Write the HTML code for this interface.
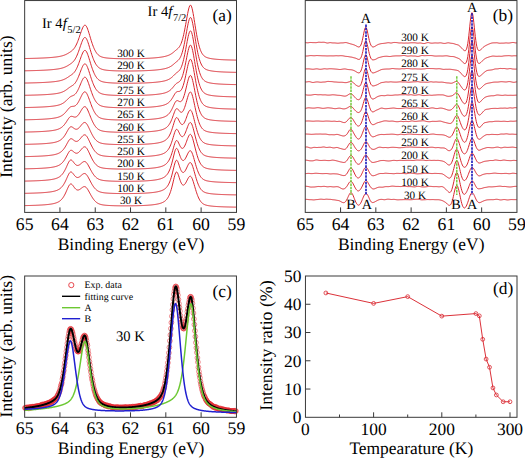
<!DOCTYPE html>
<html><head><meta charset="utf-8"><title>figure</title>
<style>html,body{margin:0;padding:0;background:#fff;width:525px;height:458px;overflow:hidden}svg{display:block}text{font-family:"Liberation Serif",serif;text-rendering:geometricPrecision}</style>
</head><body>
<svg width="525" height="458" viewBox="0 0 525 458" font-family="Liberation Serif, serif"><g fill="none" stroke="#d9262e" stroke-width="1.0" stroke-linejoin="round">
<path d="M24.66,58.54 L25.16,58.53 L25.66,58.52 L26.16,58.51 L26.66,58.50 L27.16,58.49 L27.66,58.48 L28.16,58.47 L28.66,58.46 L29.16,58.45 L29.66,58.44 L30.16,58.43 L30.66,58.42 L31.16,58.41 L31.66,58.39 L32.16,58.38 L32.66,58.37 L33.16,58.35 L33.66,58.34 L34.16,58.33 L34.66,58.31 L35.16,58.30 L35.66,58.28 L36.16,58.27 L36.66,58.25 L37.16,58.23 L37.66,58.22 L38.16,58.20 L38.66,58.18 L39.16,58.16 L39.66,58.14 L40.16,58.12 L40.66,58.10 L41.16,58.08 L41.66,58.06 L42.16,58.04 L42.66,58.02 L43.16,57.99 L43.66,57.97 L44.16,57.94 L44.66,57.92 L45.16,57.89 L45.66,57.86 L46.16,57.84 L46.66,57.81 L47.16,57.78 L47.66,57.74 L48.16,57.71 L48.66,57.68 L49.16,57.64 L49.66,57.61 L50.16,57.57 L50.66,57.53 L51.16,57.49 L51.66,57.45 L52.16,57.40 L52.66,57.36 L53.16,57.31 L53.66,57.26 L54.16,57.21 L54.66,57.15 L55.16,57.10 L55.66,57.04 L56.16,56.97 L56.66,56.91 L57.16,56.84 L57.66,56.76 L58.16,56.68 L58.66,56.60 L59.16,56.51 L59.66,56.42 L60.16,56.31 L60.66,56.21 L61.16,56.09 L61.66,55.97 L62.16,55.83 L62.66,55.69 L63.16,55.54 L63.66,55.37 L64.16,55.19 L64.66,55.00 L65.16,54.80 L65.66,54.58 L66.16,54.35 L66.66,54.10 L67.16,53.83 L67.66,53.56 L68.16,53.27 L68.66,52.96 L69.16,52.65 L69.66,52.33 L70.16,52.00 L70.66,51.66 L71.16,51.30 L71.66,50.91 L72.16,50.50 L72.66,50.05 L73.16,49.55 L73.66,48.98 L74.16,48.35 L74.66,47.64 L75.16,46.85 L75.66,45.98 L76.16,45.01 L76.66,43.96 L77.16,42.83 L77.66,41.61 L78.16,40.31 L78.66,38.95 L79.16,37.53 L79.66,36.08 L80.16,34.60 L80.66,33.13 L81.16,31.68 L81.66,30.30 L82.16,29.00 L82.66,27.84 L83.16,26.84 L83.66,26.05 L84.16,25.49 L84.66,25.19 L85.16,25.16 L85.66,25.43 L86.16,25.99 L86.66,26.83 L87.16,27.89 L87.66,29.16 L88.16,30.58 L88.66,32.12 L89.16,33.74 L89.66,35.40 L90.16,37.07 L90.66,38.74 L91.16,40.36 L91.66,41.94 L92.16,43.44 L92.66,44.87 L93.16,46.22 L93.66,47.48 L94.16,48.64 L94.66,49.71 L95.16,50.68 L95.66,51.57 L96.16,52.37 L96.66,53.08 L97.16,53.72 L97.66,54.28 L98.16,54.78 L98.66,55.22 L99.16,55.60 L99.66,55.94 L100.16,56.23 L100.66,56.49 L101.16,56.71 L101.66,56.91 L102.16,57.08 L102.66,57.23 L103.16,57.36 L103.66,57.48 L104.16,57.58 L104.66,57.68 L105.16,57.76 L105.66,57.84 L106.16,57.91 L106.66,57.97 L107.16,58.03 L107.66,58.08 L108.16,58.13 L108.66,58.18 L109.16,58.22 L109.66,58.26 L110.16,58.29 L110.66,58.33 L111.16,58.36 L111.66,58.39 L112.16,58.42 L112.66,58.45 L113.16,58.47 L113.66,58.49 L114.16,58.52 L114.66,58.54 L115.16,58.56 L115.66,58.57 L116.16,58.59 L116.66,58.61 L117.16,58.62 L117.66,58.64 L118.16,58.65 L118.66,58.66 L119.16,58.67 L119.66,58.68 L120.16,58.69 L120.66,58.70 L121.16,58.71 L121.66,58.71 L122.16,58.72 L122.66,58.73 L123.16,58.73 L123.66,58.74 L124.16,58.74 L124.66,58.74 L125.16,58.75 L125.66,58.75 L126.16,58.75 L126.66,58.75 L127.16,58.75 L127.66,58.75 L128.16,58.75 L128.66,58.75 L129.16,58.75 L129.66,58.75 L130.16,58.74 L130.66,58.74 L131.16,58.74 L131.66,58.73 L132.16,58.73 L132.66,58.72 L133.16,58.72 L133.66,58.71 L134.16,58.71 L134.66,58.70 L135.16,58.69 L135.66,58.68 L136.16,58.68 L136.66,58.67 L137.16,58.66 L137.66,58.65 L138.16,58.64 L138.66,58.63 L139.16,58.61 L139.66,58.60 L140.16,58.59 L140.66,58.58 L141.16,58.56 L141.66,58.55 L142.16,58.53 L142.66,58.52 L143.16,58.50 L143.66,58.48 L144.16,58.46 L144.66,58.44 L145.16,58.43 L145.66,58.40 L146.16,58.38 L146.66,58.36 L147.16,58.34 L147.66,58.31 L148.16,58.29 L148.66,58.26 L149.16,58.24 L149.66,58.21 L150.16,58.18 L150.66,58.15 L151.16,58.12 L151.66,58.09 L152.16,58.05 L152.66,58.02 L153.16,57.98 L153.66,57.94 L154.16,57.90 L154.66,57.86 L155.16,57.82 L155.66,57.77 L156.16,57.73 L156.66,57.68 L157.16,57.63 L157.66,57.57 L158.16,57.52 L158.66,57.46 L159.16,57.40 L159.66,57.34 L160.16,57.27 L160.66,57.20 L161.16,57.12 L161.66,57.05 L162.16,56.96 L162.66,56.88 L163.16,56.79 L163.66,56.69 L164.16,56.59 L164.66,56.48 L165.16,56.36 L165.66,56.23 L166.16,56.10 L166.66,55.95 L167.16,55.79 L167.66,55.62 L168.16,55.44 L168.66,55.24 L169.16,55.02 L169.66,54.79 L170.16,54.53 L170.66,54.25 L171.16,53.95 L171.66,53.62 L172.16,53.28 L172.66,52.90 L173.16,52.51 L173.66,52.10 L174.16,51.67 L174.66,51.24 L175.16,50.80 L175.66,50.37 L176.16,49.96 L176.66,49.55 L177.16,49.13 L177.66,48.71 L178.16,48.24 L178.66,47.72 L179.16,47.10 L179.66,46.38 L180.16,45.53 L180.66,44.53 L181.16,43.36 L181.66,42.01 L182.16,40.48 L182.66,38.75 L183.16,36.82 L183.66,34.70 L184.16,32.40 L184.66,29.93 L185.16,27.31 L185.66,24.59 L186.16,21.79 L186.66,18.98 L187.16,16.21 L187.66,13.56 L188.16,11.11 L188.66,8.97 L189.16,7.23 L189.66,5.97 L190.16,5.27 L190.66,5.18 L191.16,5.73 L191.66,6.93 L192.16,8.70 L192.66,10.95 L193.16,13.57 L193.66,16.46 L194.16,19.52 L194.66,22.67 L195.16,25.82 L195.66,28.92 L196.16,31.91 L196.66,34.76 L197.16,37.44 L197.66,39.93 L198.16,42.22 L198.66,44.31 L199.16,46.18 L199.66,47.86 L200.16,49.34 L200.66,50.64 L201.16,51.78 L201.66,52.76 L202.16,53.61 L202.66,54.34 L203.16,54.97 L203.66,55.50 L204.16,55.96 L204.66,56.35 L205.16,56.69 L205.66,56.98 L206.16,57.23 L206.66,57.45 L207.16,57.64 L207.66,57.81 L208.16,57.96 L208.66,58.10 L209.16,58.23 L209.66,58.34 L210.16,58.44 L210.66,58.54 L211.16,58.63 L211.66,58.71 L212.16,58.79 L212.66,58.86 L213.16,58.93 L213.66,58.99 L214.16,59.05 L214.66,59.11 L215.16,59.16 L215.66,59.21 L216.16,59.26 L216.66,59.30 L217.16,59.35 L217.66,59.39 L218.16,59.42 L218.66,59.46 L219.16,59.50 L219.66,59.53 L220.16,59.56 L220.66,59.59 L221.16,59.62 L221.66,59.65 L222.16,59.67 L222.66,59.70 L223.16,59.72 L223.66,59.75 L224.16,59.77 L224.66,59.79 L225.16,59.81 L225.66,59.83 L226.16,59.85 L226.66,59.87 L227.16,59.88 L227.66,59.90 L228.16,59.92 L228.66,59.93 L229.16,59.95 L229.66,59.96 L230.16,59.98 L230.66,59.99 L231.16,60.00 L231.66,60.01 L232.16,60.03 L232.66,60.04 L233.16,60.05 L233.66,60.06 L234.16,60.07 L234.66,60.08 L235.16,60.09 L235.66,60.10 L236.16,60.11"/>
<path d="M24.66,70.79 L25.16,70.78 L25.66,70.77 L26.16,70.76 L26.66,70.75 L27.16,70.74 L27.66,70.73 L28.16,70.72 L28.66,70.71 L29.16,70.70 L29.66,70.69 L30.16,70.68 L30.66,70.67 L31.16,70.65 L31.66,70.64 L32.16,70.63 L32.66,70.62 L33.16,70.60 L33.66,70.59 L34.16,70.58 L34.66,70.56 L35.16,70.55 L35.66,70.53 L36.16,70.51 L36.66,70.50 L37.16,70.48 L37.66,70.46 L38.16,70.45 L38.66,70.43 L39.16,70.41 L39.66,70.39 L40.16,70.37 L40.66,70.35 L41.16,70.33 L41.66,70.31 L42.16,70.29 L42.66,70.26 L43.16,70.24 L43.66,70.22 L44.16,70.19 L44.66,70.17 L45.16,70.14 L45.66,70.11 L46.16,70.08 L46.66,70.05 L47.16,70.02 L47.66,69.99 L48.16,69.96 L48.66,69.92 L49.16,69.89 L49.66,69.85 L50.16,69.81 L50.66,69.77 L51.16,69.73 L51.66,69.69 L52.16,69.65 L52.66,69.60 L53.16,69.55 L53.66,69.50 L54.16,69.45 L54.66,69.39 L55.16,69.34 L55.66,69.28 L56.16,69.21 L56.66,69.14 L57.16,69.07 L57.66,69.00 L58.16,68.92 L58.66,68.83 L59.16,68.74 L59.66,68.65 L60.16,68.54 L60.66,68.43 L61.16,68.31 L61.66,68.19 L62.16,68.05 L62.66,67.90 L63.16,67.75 L63.66,67.58 L64.16,67.39 L64.66,67.20 L65.16,66.99 L65.66,66.76 L66.16,66.52 L66.66,66.27 L67.16,66.00 L67.66,65.71 L68.16,65.42 L68.66,65.11 L69.16,64.79 L69.66,64.47 L70.16,64.14 L70.66,63.79 L71.16,63.44 L71.66,63.06 L72.16,62.65 L72.66,62.21 L73.16,61.71 L73.66,61.15 L74.16,60.53 L74.66,59.83 L75.16,59.05 L75.66,58.18 L76.16,57.23 L76.66,56.19 L77.16,55.06 L77.66,53.84 L78.16,52.56 L78.66,51.20 L79.16,49.79 L79.66,48.34 L80.16,46.87 L80.66,45.41 L81.16,43.97 L81.66,42.59 L82.16,41.30 L82.66,40.14 L83.16,39.14 L83.66,38.35 L84.16,37.79 L84.66,37.49 L85.16,37.47 L85.66,37.74 L86.16,38.30 L86.66,39.13 L87.16,40.20 L87.66,41.47 L88.16,42.89 L88.66,44.42 L89.16,46.04 L89.66,47.69 L90.16,49.36 L90.66,51.02 L91.16,52.65 L91.66,54.22 L92.16,55.72 L92.66,57.15 L93.16,58.49 L93.66,59.75 L94.16,60.91 L94.66,61.97 L95.16,62.95 L95.66,63.83 L96.16,64.63 L96.66,65.34 L97.16,65.97 L97.66,66.54 L98.16,67.03 L98.66,67.47 L99.16,67.85 L99.66,68.19 L100.16,68.48 L100.66,68.74 L101.16,68.96 L101.66,69.16 L102.16,69.33 L102.66,69.48 L103.16,69.61 L103.66,69.73 L104.16,69.84 L104.66,69.93 L105.16,70.01 L105.66,70.09 L106.16,70.16 L106.66,70.22 L107.16,70.28 L107.66,70.33 L108.16,70.38 L108.66,70.43 L109.16,70.47 L109.66,70.51 L110.16,70.54 L110.66,70.58 L111.16,70.61 L111.66,70.64 L112.16,70.67 L112.66,70.70 L113.16,70.72 L113.66,70.74 L114.16,70.77 L114.66,70.79 L115.16,70.81 L115.66,70.82 L116.16,70.84 L116.66,70.86 L117.16,70.87 L117.66,70.89 L118.16,70.90 L118.66,70.91 L119.16,70.92 L119.66,70.93 L120.16,70.94 L120.66,70.95 L121.16,70.96 L121.66,70.96 L122.16,70.97 L122.66,70.98 L123.16,70.98 L123.66,70.99 L124.16,70.99 L124.66,70.99 L125.16,71.00 L125.66,71.00 L126.16,71.00 L126.66,71.00 L127.16,71.00 L127.66,71.00 L128.16,71.00 L128.66,71.00 L129.16,71.00 L129.66,71.00 L130.16,70.99 L130.66,70.99 L131.16,70.99 L131.66,70.98 L132.16,70.98 L132.66,70.97 L133.16,70.97 L133.66,70.96 L134.16,70.96 L134.66,70.95 L135.16,70.94 L135.66,70.93 L136.16,70.92 L136.66,70.92 L137.16,70.91 L137.66,70.90 L138.16,70.89 L138.66,70.87 L139.16,70.86 L139.66,70.85 L140.16,70.84 L140.66,70.82 L141.16,70.81 L141.66,70.80 L142.16,70.78 L142.66,70.76 L143.16,70.75 L143.66,70.73 L144.16,70.71 L144.66,70.69 L145.16,70.67 L145.66,70.65 L146.16,70.63 L146.66,70.61 L147.16,70.59 L147.66,70.56 L148.16,70.54 L148.66,70.51 L149.16,70.49 L149.66,70.46 L150.16,70.43 L150.66,70.40 L151.16,70.37 L151.66,70.33 L152.16,70.30 L152.66,70.26 L153.16,70.23 L153.66,70.19 L154.16,70.15 L154.66,70.11 L155.16,70.06 L155.66,70.02 L156.16,69.97 L156.66,69.92 L157.16,69.87 L157.66,69.82 L158.16,69.76 L158.66,69.70 L159.16,69.64 L159.66,69.58 L160.16,69.51 L160.66,69.44 L161.16,69.36 L161.66,69.29 L162.16,69.20 L162.66,69.11 L163.16,69.02 L163.66,68.92 L164.16,68.82 L164.66,68.71 L165.16,68.59 L165.66,68.46 L166.16,68.32 L166.66,68.17 L167.16,68.01 L167.66,67.84 L168.16,67.65 L168.66,67.44 L169.16,67.22 L169.66,66.98 L170.16,66.71 L170.66,66.42 L171.16,66.11 L171.66,65.78 L172.16,65.42 L172.66,65.03 L173.16,64.63 L173.66,64.20 L174.16,63.77 L174.66,63.32 L175.16,62.88 L175.66,62.44 L176.16,62.02 L176.66,61.61 L177.16,61.21 L177.66,60.79 L178.16,60.33 L178.66,59.82 L179.16,59.22 L179.66,58.52 L180.16,57.68 L180.66,56.69 L181.16,55.54 L181.66,54.21 L182.16,52.68 L182.66,50.97 L183.16,49.05 L183.66,46.94 L184.16,44.65 L184.66,42.19 L185.16,39.59 L185.66,36.87 L186.16,34.09 L186.66,31.28 L187.16,28.52 L187.66,25.88 L188.16,23.44 L188.66,21.31 L189.16,19.57 L189.66,18.32 L190.16,17.62 L190.66,17.53 L191.16,18.09 L191.66,19.28 L192.16,21.05 L192.66,23.29 L193.16,25.91 L193.66,28.79 L194.16,31.85 L194.66,34.99 L195.16,38.13 L195.66,41.23 L196.16,44.21 L196.66,47.06 L197.16,49.73 L197.66,52.22 L198.16,54.50 L198.66,56.58 L199.16,58.46 L199.66,60.13 L200.16,61.61 L200.66,62.91 L201.16,64.04 L201.66,65.02 L202.16,65.87 L202.66,66.60 L203.16,67.22 L203.66,67.76 L204.16,68.21 L204.66,68.61 L205.16,68.94 L205.66,69.23 L206.16,69.48 L206.66,69.70 L207.16,69.89 L207.66,70.06 L208.16,70.22 L208.66,70.35 L209.16,70.48 L209.66,70.59 L210.16,70.69 L210.66,70.79 L211.16,70.88 L211.66,70.96 L212.16,71.04 L212.66,71.11 L213.16,71.18 L213.66,71.24 L214.16,71.30 L214.66,71.36 L215.16,71.41 L215.66,71.46 L216.16,71.51 L216.66,71.55 L217.16,71.60 L217.66,71.64 L218.16,71.67 L218.66,71.71 L219.16,71.75 L219.66,71.78 L220.16,71.81 L220.66,71.84 L221.16,71.87 L221.66,71.90 L222.16,71.92 L222.66,71.95 L223.16,71.97 L223.66,72.00 L224.16,72.02 L224.66,72.04 L225.16,72.06 L225.66,72.08 L226.16,72.10 L226.66,72.12 L227.16,72.13 L227.66,72.15 L228.16,72.17 L228.66,72.18 L229.16,72.20 L229.66,72.21 L230.16,72.22 L230.66,72.24 L231.16,72.25 L231.66,72.26 L232.16,72.28 L232.66,72.29 L233.16,72.30 L233.66,72.31 L234.16,72.32 L234.66,72.33 L235.16,72.34 L235.66,72.35 L236.16,72.36"/>
<path d="M24.66,83.04 L25.16,83.04 L25.66,83.03 L26.16,83.02 L26.66,83.01 L27.16,83.00 L27.66,82.99 L28.16,82.98 L28.66,82.97 L29.16,82.95 L29.66,82.94 L30.16,82.93 L30.66,82.92 L31.16,82.91 L31.66,82.89 L32.16,82.88 L32.66,82.87 L33.16,82.85 L33.66,82.84 L34.16,82.83 L34.66,82.81 L35.16,82.80 L35.66,82.78 L36.16,82.77 L36.66,82.75 L37.16,82.73 L37.66,82.71 L38.16,82.70 L38.66,82.68 L39.16,82.66 L39.66,82.64 L40.16,82.62 L40.66,82.60 L41.16,82.58 L41.66,82.56 L42.16,82.53 L42.66,82.51 L43.16,82.49 L43.66,82.46 L44.16,82.44 L44.66,82.41 L45.16,82.38 L45.66,82.35 L46.16,82.32 L46.66,82.29 L47.16,82.26 L47.66,82.23 L48.16,82.20 L48.66,82.16 L49.16,82.12 L49.66,82.09 L50.16,82.05 L50.66,82.01 L51.16,81.96 L51.66,81.92 L52.16,81.87 L52.66,81.82 L53.16,81.77 L53.66,81.72 L54.16,81.67 L54.66,81.61 L55.16,81.55 L55.66,81.48 L56.16,81.41 L56.66,81.34 L57.16,81.26 L57.66,81.18 L58.16,81.09 L58.66,81.00 L59.16,80.90 L59.66,80.79 L60.16,80.67 L60.66,80.55 L61.16,80.41 L61.66,80.27 L62.16,80.11 L62.66,79.94 L63.16,79.76 L63.66,79.56 L64.16,79.35 L64.66,79.12 L65.16,78.87 L65.66,78.61 L66.16,78.33 L66.66,78.04 L67.16,77.73 L67.66,77.40 L68.16,77.07 L68.66,76.73 L69.16,76.39 L69.66,76.05 L70.16,75.71 L70.66,75.37 L71.16,75.03 L71.66,74.68 L72.16,74.31 L72.66,73.91 L73.16,73.47 L73.66,72.97 L74.16,72.41 L74.66,71.77 L75.16,71.05 L75.66,70.25 L76.16,69.36 L76.66,68.38 L77.16,67.31 L77.66,66.16 L78.16,64.93 L78.66,63.63 L79.16,62.28 L79.66,60.89 L80.16,59.47 L80.66,58.05 L81.16,56.66 L81.66,55.33 L82.16,54.08 L82.66,52.96 L83.16,51.99 L83.66,51.23 L84.16,50.69 L84.66,50.41 L85.16,50.39 L85.66,50.66 L86.16,51.21 L86.66,52.03 L87.16,53.08 L87.66,54.32 L88.16,55.71 L88.66,57.22 L89.16,58.80 L89.66,60.42 L90.16,62.06 L90.66,63.68 L91.16,65.27 L91.66,66.81 L92.16,68.28 L92.66,69.68 L93.16,71.00 L93.66,72.22 L94.16,73.36 L94.66,74.41 L95.16,75.36 L95.66,76.22 L96.16,77.00 L96.66,77.70 L97.16,78.32 L97.66,78.87 L98.16,79.36 L98.66,79.79 L99.16,80.16 L99.66,80.49 L100.16,80.78 L100.66,81.03 L101.16,81.25 L101.66,81.44 L102.16,81.61 L102.66,81.76 L103.16,81.89 L103.66,82.01 L104.16,82.11 L104.66,82.20 L105.16,82.28 L105.66,82.36 L106.16,82.43 L106.66,82.49 L107.16,82.54 L107.66,82.60 L108.16,82.65 L108.66,82.69 L109.16,82.73 L109.66,82.77 L110.16,82.81 L110.66,82.84 L111.16,82.87 L111.66,82.90 L112.16,82.93 L112.66,82.96 L113.16,82.98 L113.66,83.00 L114.16,83.02 L114.66,83.05 L115.16,83.06 L115.66,83.08 L116.16,83.10 L116.66,83.11 L117.16,83.13 L117.66,83.14 L118.16,83.15 L118.66,83.17 L119.16,83.18 L119.66,83.19 L120.16,83.20 L120.66,83.20 L121.16,83.21 L121.66,83.22 L122.16,83.23 L122.66,83.23 L123.16,83.24 L123.66,83.24 L124.16,83.24 L124.66,83.25 L125.16,83.25 L125.66,83.25 L126.16,83.25 L126.66,83.25 L127.16,83.26 L127.66,83.25 L128.16,83.25 L128.66,83.25 L129.16,83.25 L129.66,83.25 L130.16,83.25 L130.66,83.24 L131.16,83.24 L131.66,83.24 L132.16,83.23 L132.66,83.23 L133.16,83.22 L133.66,83.21 L134.16,83.21 L134.66,83.20 L135.16,83.19 L135.66,83.19 L136.16,83.18 L136.66,83.17 L137.16,83.16 L137.66,83.15 L138.16,83.14 L138.66,83.13 L139.16,83.11 L139.66,83.10 L140.16,83.09 L140.66,83.08 L141.16,83.06 L141.66,83.05 L142.16,83.03 L142.66,83.01 L143.16,83.00 L143.66,82.98 L144.16,82.96 L144.66,82.94 L145.16,82.92 L145.66,82.90 L146.16,82.88 L146.66,82.86 L147.16,82.83 L147.66,82.81 L148.16,82.78 L148.66,82.76 L149.16,82.73 L149.66,82.70 L150.16,82.67 L150.66,82.64 L151.16,82.61 L151.66,82.58 L152.16,82.54 L152.66,82.50 L153.16,82.47 L153.66,82.43 L154.16,82.39 L154.66,82.34 L155.16,82.30 L155.66,82.25 L156.16,82.20 L156.66,82.15 L157.16,82.10 L157.66,82.04 L158.16,81.98 L158.66,81.92 L159.16,81.86 L159.66,81.79 L160.16,81.72 L160.66,81.64 L161.16,81.56 L161.66,81.48 L162.16,81.39 L162.66,81.30 L163.16,81.20 L163.66,81.09 L164.16,80.98 L164.66,80.86 L165.16,80.72 L165.66,80.58 L166.16,80.43 L166.66,80.26 L167.16,80.08 L167.66,79.88 L168.16,79.66 L168.66,79.42 L169.16,79.16 L169.66,78.87 L170.16,78.56 L170.66,78.22 L171.16,77.85 L171.66,77.45 L172.16,77.01 L172.66,76.55 L173.16,76.07 L173.66,75.57 L174.16,75.05 L174.66,74.54 L175.16,74.04 L175.66,73.57 L176.16,73.13 L176.66,72.73 L177.16,72.36 L177.66,72.00 L178.16,71.62 L178.66,71.20 L179.16,70.70 L179.66,70.10 L180.16,69.37 L180.66,68.49 L181.16,67.44 L181.66,66.22 L182.16,64.80 L182.66,63.18 L183.16,61.36 L183.66,59.35 L184.16,57.15 L184.66,54.78 L185.16,52.27 L185.66,49.65 L186.16,46.95 L186.66,44.23 L187.16,41.55 L187.66,38.98 L188.16,36.62 L188.66,34.54 L189.16,32.85 L189.66,31.64 L190.16,30.97 L190.66,30.88 L191.16,31.44 L191.66,32.61 L192.16,34.35 L192.66,36.54 L193.16,39.11 L193.66,41.94 L194.16,44.93 L194.66,48.00 L195.16,51.08 L195.66,54.11 L196.16,57.03 L196.66,59.82 L197.16,62.44 L197.66,64.87 L198.16,67.11 L198.66,69.14 L199.16,70.97 L199.66,72.61 L200.16,74.06 L200.66,75.33 L201.16,76.44 L201.66,77.40 L202.16,78.23 L202.66,78.95 L203.16,79.56 L203.66,80.08 L204.16,80.53 L204.66,80.91 L205.16,81.24 L205.66,81.53 L206.16,81.77 L206.66,81.99 L207.16,82.18 L207.66,82.35 L208.16,82.50 L208.66,82.63 L209.16,82.75 L209.66,82.86 L210.16,82.97 L210.66,83.06 L211.16,83.15 L211.66,83.23 L212.16,83.30 L212.66,83.38 L213.16,83.44 L213.66,83.50 L214.16,83.56 L214.66,83.62 L215.16,83.67 L215.66,83.72 L216.16,83.77 L216.66,83.81 L217.16,83.85 L217.66,83.89 L218.16,83.93 L218.66,83.97 L219.16,84.00 L219.66,84.04 L220.16,84.07 L220.66,84.10 L221.16,84.13 L221.66,84.15 L222.16,84.18 L222.66,84.20 L223.16,84.23 L223.66,84.25 L224.16,84.27 L224.66,84.29 L225.16,84.31 L225.66,84.33 L226.16,84.35 L226.66,84.37 L227.16,84.39 L227.66,84.40 L228.16,84.42 L228.66,84.43 L229.16,84.45 L229.66,84.46 L230.16,84.48 L230.66,84.49 L231.16,84.50 L231.66,84.52 L232.16,84.53 L232.66,84.54 L233.16,84.55 L233.66,84.56 L234.16,84.57 L234.66,84.58 L235.16,84.59 L235.66,84.60 L236.16,84.61"/>
<path d="M24.66,95.30 L25.16,95.29 L25.66,95.28 L26.16,95.27 L26.66,95.26 L27.16,95.25 L27.66,95.24 L28.16,95.23 L28.66,95.22 L29.16,95.21 L29.66,95.20 L30.16,95.19 L30.66,95.18 L31.16,95.16 L31.66,95.15 L32.16,95.14 L32.66,95.12 L33.16,95.11 L33.66,95.10 L34.16,95.08 L34.66,95.07 L35.16,95.05 L35.66,95.04 L36.16,95.02 L36.66,95.00 L37.16,94.99 L37.66,94.97 L38.16,94.95 L38.66,94.93 L39.16,94.91 L39.66,94.89 L40.16,94.87 L40.66,94.85 L41.16,94.83 L41.66,94.81 L42.16,94.79 L42.66,94.76 L43.16,94.74 L43.66,94.71 L44.16,94.69 L44.66,94.66 L45.16,94.63 L45.66,94.60 L46.16,94.57 L46.66,94.54 L47.16,94.51 L47.66,94.47 L48.16,94.44 L48.66,94.40 L49.16,94.36 L49.66,94.32 L50.16,94.28 L50.66,94.24 L51.16,94.19 L51.66,94.15 L52.16,94.10 L52.66,94.04 L53.16,93.99 L53.66,93.93 L54.16,93.87 L54.66,93.81 L55.16,93.74 L55.66,93.67 L56.16,93.60 L56.66,93.51 L57.16,93.43 L57.66,93.34 L58.16,93.24 L58.66,93.13 L59.16,93.01 L59.66,92.89 L60.16,92.75 L60.66,92.61 L61.16,92.45 L61.66,92.28 L62.16,92.09 L62.66,91.88 L63.16,91.66 L63.66,91.42 L64.16,91.16 L64.66,90.88 L65.16,90.58 L65.66,90.26 L66.16,89.92 L66.66,89.57 L67.16,89.19 L67.66,88.81 L68.16,88.42 L68.66,88.03 L69.16,87.65 L69.66,87.29 L70.16,86.94 L70.66,86.61 L71.16,86.30 L71.66,86.00 L72.16,85.69 L72.66,85.36 L73.16,85.01 L73.66,84.60 L74.16,84.14 L74.66,83.60 L75.16,82.99 L75.66,82.29 L76.16,81.50 L76.66,80.62 L77.16,79.65 L77.66,78.60 L78.16,77.47 L78.66,76.27 L79.16,75.02 L79.66,73.71 L80.16,72.39 L80.66,71.06 L81.16,69.75 L81.66,68.49 L82.16,67.32 L82.66,66.26 L83.16,65.35 L83.66,64.63 L84.16,64.13 L84.66,63.87 L85.16,63.86 L85.66,64.13 L86.16,64.67 L86.66,65.46 L87.16,66.47 L87.66,67.67 L88.16,69.01 L88.66,70.46 L89.16,71.98 L89.66,73.55 L90.16,75.12 L90.66,76.68 L91.16,78.21 L91.66,79.69 L92.16,81.10 L92.66,82.45 L93.16,83.71 L93.66,84.89 L94.16,85.99 L94.66,86.99 L95.16,87.91 L95.66,88.74 L96.16,89.49 L96.66,90.16 L97.16,90.76 L97.66,91.29 L98.16,91.76 L98.66,92.17 L99.16,92.53 L99.66,92.85 L100.16,93.12 L100.66,93.37 L101.16,93.58 L101.66,93.76 L102.16,93.93 L102.66,94.07 L103.16,94.19 L103.66,94.31 L104.16,94.41 L104.66,94.49 L105.16,94.57 L105.66,94.65 L106.16,94.71 L106.66,94.77 L107.16,94.83 L107.66,94.88 L108.16,94.93 L108.66,94.97 L109.16,95.01 L109.66,95.05 L110.16,95.08 L110.66,95.12 L111.16,95.15 L111.66,95.18 L112.16,95.20 L112.66,95.23 L113.16,95.25 L113.66,95.27 L114.16,95.29 L114.66,95.31 L115.16,95.33 L115.66,95.35 L116.16,95.37 L116.66,95.38 L117.16,95.40 L117.66,95.41 L118.16,95.42 L118.66,95.43 L119.16,95.44 L119.66,95.45 L120.16,95.46 L120.66,95.47 L121.16,95.48 L121.66,95.48 L122.16,95.49 L122.66,95.49 L123.16,95.50 L123.66,95.50 L124.16,95.51 L124.66,95.51 L125.16,95.51 L125.66,95.51 L126.16,95.52 L126.66,95.52 L127.16,95.52 L127.66,95.52 L128.16,95.52 L128.66,95.51 L129.16,95.51 L129.66,95.51 L130.16,95.51 L130.66,95.50 L131.16,95.50 L131.66,95.50 L132.16,95.49 L132.66,95.49 L133.16,95.48 L133.66,95.48 L134.16,95.47 L134.66,95.46 L135.16,95.45 L135.66,95.45 L136.16,95.44 L136.66,95.43 L137.16,95.42 L137.66,95.41 L138.16,95.40 L138.66,95.39 L139.16,95.37 L139.66,95.36 L140.16,95.35 L140.66,95.33 L141.16,95.32 L141.66,95.30 L142.16,95.29 L142.66,95.27 L143.16,95.25 L143.66,95.24 L144.16,95.22 L144.66,95.20 L145.16,95.18 L145.66,95.16 L146.16,95.13 L146.66,95.11 L147.16,95.09 L147.66,95.06 L148.16,95.04 L148.66,95.01 L149.16,94.98 L149.66,94.95 L150.16,94.92 L150.66,94.89 L151.16,94.86 L151.66,94.82 L152.16,94.79 L152.66,94.75 L153.16,94.71 L153.66,94.67 L154.16,94.62 L154.66,94.58 L155.16,94.53 L155.66,94.48 L156.16,94.43 L156.66,94.38 L157.16,94.32 L157.66,94.26 L158.16,94.20 L158.66,94.14 L159.16,94.07 L159.66,93.99 L160.16,93.92 L160.66,93.84 L161.16,93.75 L161.66,93.66 L162.16,93.56 L162.66,93.46 L163.16,93.35 L163.66,93.23 L164.16,93.10 L164.66,92.97 L165.16,92.82 L165.66,92.65 L166.16,92.47 L166.66,92.28 L167.16,92.06 L167.66,91.82 L168.16,91.56 L168.66,91.27 L169.16,90.95 L169.66,90.60 L170.16,90.21 L170.66,89.79 L171.16,89.33 L171.66,88.82 L172.16,88.28 L172.66,87.71 L173.16,87.10 L173.66,86.48 L174.16,85.85 L174.66,85.23 L175.16,84.65 L175.66,84.13 L176.16,83.67 L176.66,83.29 L177.16,82.97 L177.66,82.70 L178.16,82.44 L178.66,82.17 L179.16,81.83 L179.66,81.39 L180.16,80.83 L180.66,80.13 L181.16,79.25 L181.66,78.19 L182.16,76.93 L182.66,75.48 L183.16,73.82 L183.66,71.97 L184.16,69.93 L184.66,67.72 L185.16,65.37 L185.66,62.90 L186.16,60.35 L186.66,57.77 L187.16,55.24 L187.66,52.80 L188.16,50.56 L188.66,48.59 L189.16,46.99 L189.66,45.84 L190.16,45.21 L190.66,45.15 L191.16,45.69 L191.66,46.83 L192.16,48.50 L192.66,50.62 L193.16,53.09 L193.66,55.81 L194.16,58.68 L194.66,61.64 L195.16,64.60 L195.66,67.51 L196.16,70.32 L196.66,72.99 L197.16,75.51 L197.66,77.85 L198.16,80.00 L198.66,81.95 L199.16,83.71 L199.66,85.29 L200.16,86.68 L200.66,87.90 L201.16,88.97 L201.66,89.90 L202.16,90.70 L202.66,91.38 L203.16,91.97 L203.66,92.48 L204.16,92.91 L204.66,93.28 L205.16,93.59 L205.66,93.87 L206.16,94.11 L206.66,94.31 L207.16,94.50 L207.66,94.66 L208.16,94.80 L208.66,94.94 L209.16,95.05 L209.66,95.16 L210.16,95.26 L210.66,95.35 L211.16,95.44 L211.66,95.52 L212.16,95.59 L212.66,95.66 L213.16,95.72 L213.66,95.78 L214.16,95.84 L214.66,95.90 L215.16,95.95 L215.66,95.99 L216.16,96.04 L216.66,96.08 L217.16,96.13 L217.66,96.16 L218.16,96.20 L218.66,96.24 L219.16,96.27 L219.66,96.30 L220.16,96.33 L220.66,96.36 L221.16,96.39 L221.66,96.42 L222.16,96.44 L222.66,96.47 L223.16,96.49 L223.66,96.51 L224.16,96.53 L224.66,96.55 L225.16,96.57 L225.66,96.59 L226.16,96.61 L226.66,96.63 L227.16,96.65 L227.66,96.66 L228.16,96.68 L228.66,96.69 L229.16,96.71 L229.66,96.72 L230.16,96.73 L230.66,96.75 L231.16,96.76 L231.66,96.77 L232.16,96.78 L232.66,96.79 L233.16,96.81 L233.66,96.82 L234.16,96.83 L234.66,96.84 L235.16,96.85 L235.66,96.86 L236.16,96.86"/>
<path d="M24.66,107.54 L25.16,107.53 L25.66,107.52 L26.16,107.51 L26.66,107.50 L27.16,107.49 L27.66,107.48 L28.16,107.47 L28.66,107.46 L29.16,107.45 L29.66,107.44 L30.16,107.42 L30.66,107.41 L31.16,107.40 L31.66,107.39 L32.16,107.37 L32.66,107.36 L33.16,107.34 L33.66,107.33 L34.16,107.31 L34.66,107.30 L35.16,107.28 L35.66,107.27 L36.16,107.25 L36.66,107.23 L37.16,107.21 L37.66,107.19 L38.16,107.17 L38.66,107.15 L39.16,107.13 L39.66,107.11 L40.16,107.09 L40.66,107.07 L41.16,107.05 L41.66,107.02 L42.16,107.00 L42.66,106.97 L43.16,106.94 L43.66,106.92 L44.16,106.89 L44.66,106.86 L45.16,106.83 L45.66,106.79 L46.16,106.76 L46.66,106.73 L47.16,106.69 L47.66,106.65 L48.16,106.61 L48.66,106.57 L49.16,106.53 L49.66,106.48 L50.16,106.44 L50.66,106.39 L51.16,106.34 L51.66,106.28 L52.16,106.23 L52.66,106.17 L53.16,106.10 L53.66,106.04 L54.16,105.97 L54.66,105.89 L55.16,105.81 L55.66,105.73 L56.16,105.64 L56.66,105.54 L57.16,105.43 L57.66,105.32 L58.16,105.19 L58.66,105.06 L59.16,104.91 L59.66,104.75 L60.16,104.57 L60.66,104.38 L61.16,104.17 L61.66,103.93 L62.16,103.68 L62.66,103.40 L63.16,103.10 L63.66,102.77 L64.16,102.42 L64.66,102.03 L65.16,101.62 L65.66,101.18 L66.16,100.72 L66.66,100.23 L67.16,99.73 L67.66,99.22 L68.16,98.71 L68.66,98.21 L69.16,97.75 L69.66,97.32 L70.16,96.95 L70.66,96.62 L71.16,96.35 L71.66,96.13 L72.16,95.92 L72.66,95.73 L73.16,95.52 L73.66,95.28 L74.16,94.98 L74.66,94.61 L75.16,94.17 L75.66,93.64 L76.16,93.02 L76.66,92.30 L77.16,91.49 L77.66,90.59 L78.16,89.60 L78.66,88.54 L79.16,87.42 L79.66,86.25 L80.16,85.04 L80.66,83.83 L81.16,82.62 L81.66,81.47 L82.16,80.38 L82.66,79.40 L83.16,78.57 L83.66,77.91 L84.16,77.45 L84.66,77.23 L85.16,77.24 L85.66,77.52 L86.16,78.05 L86.66,78.82 L87.16,79.80 L87.66,80.96 L88.16,82.25 L88.66,83.65 L89.16,85.11 L89.66,86.62 L90.16,88.13 L90.66,89.63 L91.16,91.10 L91.66,92.52 L92.16,93.88 L92.66,95.17 L93.16,96.38 L93.66,97.52 L94.16,98.56 L94.66,99.53 L95.16,100.41 L95.66,101.21 L96.16,101.93 L96.66,102.57 L97.16,103.15 L97.66,103.66 L98.16,104.11 L98.66,104.51 L99.16,104.86 L99.66,105.16 L100.16,105.43 L100.66,105.66 L101.16,105.87 L101.66,106.05 L102.16,106.20 L102.66,106.34 L103.16,106.46 L103.66,106.57 L104.16,106.67 L104.66,106.76 L105.16,106.83 L105.66,106.90 L106.16,106.97 L106.66,107.03 L107.16,107.08 L107.66,107.13 L108.16,107.18 L108.66,107.22 L109.16,107.26 L109.66,107.30 L110.16,107.33 L110.66,107.36 L111.16,107.39 L111.66,107.42 L112.16,107.45 L112.66,107.47 L113.16,107.50 L113.66,107.52 L114.16,107.54 L114.66,107.56 L115.16,107.58 L115.66,107.59 L116.16,107.61 L116.66,107.62 L117.16,107.64 L117.66,107.65 L118.16,107.66 L118.66,107.67 L119.16,107.68 L119.66,107.69 L120.16,107.70 L120.66,107.71 L121.16,107.72 L121.66,107.72 L122.16,107.73 L122.66,107.73 L123.16,107.74 L123.66,107.74 L124.16,107.75 L124.66,107.75 L125.16,107.75 L125.66,107.75 L126.16,107.75 L126.66,107.75 L127.16,107.75 L127.66,107.75 L128.16,107.75 L128.66,107.75 L129.16,107.75 L129.66,107.75 L130.16,107.74 L130.66,107.74 L131.16,107.74 L131.66,107.73 L132.16,107.73 L132.66,107.72 L133.16,107.71 L133.66,107.71 L134.16,107.70 L134.66,107.69 L135.16,107.68 L135.66,107.68 L136.16,107.67 L136.66,107.66 L137.16,107.65 L137.66,107.63 L138.16,107.62 L138.66,107.61 L139.16,107.60 L139.66,107.58 L140.16,107.57 L140.66,107.56 L141.16,107.54 L141.66,107.52 L142.16,107.51 L142.66,107.49 L143.16,107.47 L143.66,107.45 L144.16,107.43 L144.66,107.41 L145.16,107.39 L145.66,107.37 L146.16,107.34 L146.66,107.32 L147.16,107.29 L147.66,107.26 L148.16,107.24 L148.66,107.21 L149.16,107.18 L149.66,107.14 L150.16,107.11 L150.66,107.08 L151.16,107.04 L151.66,107.00 L152.16,106.96 L152.66,106.92 L153.16,106.88 L153.66,106.83 L154.16,106.78 L154.66,106.73 L155.16,106.68 L155.66,106.63 L156.16,106.57 L156.66,106.51 L157.16,106.44 L157.66,106.38 L158.16,106.31 L158.66,106.23 L159.16,106.15 L159.66,106.07 L160.16,105.98 L160.66,105.88 L161.16,105.78 L161.66,105.68 L162.16,105.56 L162.66,105.44 L163.16,105.30 L163.66,105.16 L164.16,105.00 L164.66,104.82 L165.16,104.63 L165.66,104.42 L166.16,104.19 L166.66,103.93 L167.16,103.65 L167.66,103.33 L168.16,102.98 L168.66,102.58 L169.16,102.14 L169.66,101.65 L170.16,101.11 L170.66,100.52 L171.16,99.86 L171.66,99.15 L172.16,98.39 L172.66,97.57 L173.16,96.72 L173.66,95.85 L174.16,94.98 L174.66,94.15 L175.16,93.39 L175.66,92.74 L176.16,92.22 L176.66,91.86 L177.16,91.64 L177.66,91.53 L178.16,91.50 L178.66,91.48 L179.16,91.42 L179.66,91.29 L180.16,91.03 L180.66,90.62 L181.16,90.03 L181.66,89.25 L182.16,88.26 L182.66,87.06 L183.16,85.65 L183.66,84.03 L184.16,82.22 L184.66,80.23 L185.16,78.08 L185.66,75.81 L186.16,73.45 L186.66,71.06 L187.16,68.70 L187.66,66.42 L188.16,64.33 L188.66,62.49 L189.16,60.99 L189.66,59.93 L190.16,59.35 L190.66,59.32 L191.16,59.86 L191.66,60.97 L192.16,62.58 L192.66,64.63 L193.16,67.00 L193.66,69.62 L194.16,72.38 L194.66,75.22 L195.16,78.06 L195.66,80.85 L196.16,83.54 L196.66,86.11 L197.16,88.53 L197.66,90.77 L198.16,92.83 L198.66,94.71 L199.16,96.40 L199.66,97.91 L200.16,99.25 L200.66,100.42 L201.16,101.45 L201.66,102.34 L202.16,103.11 L202.66,103.77 L203.16,104.34 L203.66,104.82 L204.16,105.24 L204.66,105.60 L205.16,105.90 L205.66,106.17 L206.16,106.40 L206.66,106.60 L207.16,106.78 L207.66,106.94 L208.16,107.08 L208.66,107.20 L209.16,107.32 L209.66,107.43 L210.16,107.52 L210.66,107.61 L211.16,107.70 L211.66,107.77 L212.16,107.85 L212.66,107.91 L213.16,107.98 L213.66,108.04 L214.16,108.09 L214.66,108.15 L215.16,108.20 L215.66,108.24 L216.16,108.29 L216.66,108.33 L217.16,108.37 L217.66,108.41 L218.16,108.45 L218.66,108.48 L219.16,108.52 L219.66,108.55 L220.16,108.58 L220.66,108.61 L221.16,108.63 L221.66,108.66 L222.16,108.69 L222.66,108.71 L223.16,108.73 L223.66,108.76 L224.16,108.78 L224.66,108.80 L225.16,108.82 L225.66,108.84 L226.16,108.85 L226.66,108.87 L227.16,108.89 L227.66,108.90 L228.16,108.92 L228.66,108.93 L229.16,108.95 L229.66,108.96 L230.16,108.98 L230.66,108.99 L231.16,109.00 L231.66,109.01 L232.16,109.03 L232.66,109.04 L233.16,109.05 L233.66,109.06 L234.16,109.07 L234.66,109.08 L235.16,109.09 L235.66,109.10 L236.16,109.11"/>
<path d="M24.66,119.81 L25.16,119.80 L25.66,119.79 L26.16,119.78 L26.66,119.77 L27.16,119.76 L27.66,119.75 L28.16,119.73 L28.66,119.72 L29.16,119.71 L29.66,119.70 L30.16,119.69 L30.66,119.67 L31.16,119.66 L31.66,119.65 L32.16,119.63 L32.66,119.62 L33.16,119.61 L33.66,119.59 L34.16,119.57 L34.66,119.56 L35.16,119.54 L35.66,119.53 L36.16,119.51 L36.66,119.49 L37.16,119.47 L37.66,119.45 L38.16,119.43 L38.66,119.41 L39.16,119.39 L39.66,119.37 L40.16,119.35 L40.66,119.32 L41.16,119.30 L41.66,119.27 L42.16,119.25 L42.66,119.22 L43.16,119.19 L43.66,119.16 L44.16,119.13 L44.66,119.10 L45.16,119.07 L45.66,119.03 L46.16,119.00 L46.66,118.96 L47.16,118.92 L47.66,118.88 L48.16,118.84 L48.66,118.80 L49.16,118.75 L49.66,118.70 L50.16,118.65 L50.66,118.60 L51.16,118.54 L51.66,118.48 L52.16,118.42 L52.66,118.35 L53.16,118.28 L53.66,118.21 L54.16,118.13 L54.66,118.04 L55.16,117.95 L55.66,117.86 L56.16,117.75 L56.66,117.64 L57.16,117.51 L57.66,117.38 L58.16,117.23 L58.66,117.07 L59.16,116.89 L59.66,116.69 L60.16,116.48 L60.66,116.24 L61.16,115.98 L61.66,115.69 L62.16,115.38 L62.66,115.03 L63.16,114.65 L63.66,114.24 L64.16,113.79 L64.66,113.31 L65.16,112.79 L65.66,112.23 L66.16,111.65 L66.66,111.04 L67.16,110.41 L67.66,109.78 L68.16,109.16 L68.66,108.56 L69.16,108.02 L69.66,107.55 L70.16,107.15 L70.66,106.85 L71.16,106.63 L71.66,106.50 L72.16,106.42 L72.66,106.37 L73.16,106.33 L73.66,106.27 L74.16,106.17 L74.66,106.01 L75.16,105.77 L75.66,105.44 L76.16,105.03 L76.66,104.51 L77.16,103.90 L77.66,103.20 L78.16,102.41 L78.66,101.54 L79.16,100.60 L79.66,99.61 L80.16,98.58 L80.66,97.54 L81.16,96.50 L81.66,95.49 L82.16,94.55 L82.66,93.70 L83.16,92.97 L83.66,92.40 L84.16,92.02 L84.66,91.83 L85.16,91.87 L85.66,92.14 L86.16,92.65 L86.66,93.37 L87.16,94.28 L87.66,95.35 L88.16,96.55 L88.66,97.84 L89.16,99.18 L89.66,100.57 L90.16,101.96 L90.66,103.34 L91.16,104.68 L91.66,105.99 L92.16,107.24 L92.66,108.42 L93.16,109.54 L93.66,110.58 L94.16,111.54 L94.66,112.43 L95.16,113.24 L95.66,113.97 L96.16,114.63 L96.66,115.23 L97.16,115.76 L97.66,116.23 L98.16,116.64 L98.66,117.01 L99.16,117.33 L99.66,117.61 L100.16,117.86 L100.66,118.08 L101.16,118.26 L101.66,118.43 L102.16,118.58 L102.66,118.71 L103.16,118.82 L103.66,118.92 L104.16,119.01 L104.66,119.09 L105.16,119.16 L105.66,119.23 L106.16,119.29 L106.66,119.35 L107.16,119.40 L107.66,119.44 L108.16,119.49 L108.66,119.53 L109.16,119.56 L109.66,119.60 L110.16,119.63 L110.66,119.66 L111.16,119.69 L111.66,119.72 L112.16,119.74 L112.66,119.76 L113.16,119.79 L113.66,119.81 L114.16,119.83 L114.66,119.84 L115.16,119.86 L115.66,119.88 L116.16,119.89 L116.66,119.91 L117.16,119.92 L117.66,119.93 L118.16,119.94 L118.66,119.95 L119.16,119.96 L119.66,119.97 L120.16,119.98 L120.66,119.99 L121.16,119.99 L121.66,120.00 L122.16,120.00 L122.66,120.01 L123.16,120.01 L123.66,120.02 L124.16,120.02 L124.66,120.02 L125.16,120.02 L125.66,120.03 L126.16,120.03 L126.66,120.03 L127.16,120.03 L127.66,120.03 L128.16,120.02 L128.66,120.02 L129.16,120.02 L129.66,120.02 L130.16,120.01 L130.66,120.01 L131.16,120.01 L131.66,120.00 L132.16,120.00 L132.66,119.99 L133.16,119.98 L133.66,119.98 L134.16,119.97 L134.66,119.96 L135.16,119.95 L135.66,119.94 L136.16,119.93 L136.66,119.92 L137.16,119.91 L137.66,119.90 L138.16,119.89 L138.66,119.88 L139.16,119.86 L139.66,119.85 L140.16,119.84 L140.66,119.82 L141.16,119.80 L141.66,119.79 L142.16,119.77 L142.66,119.75 L143.16,119.73 L143.66,119.71 L144.16,119.69 L144.66,119.67 L145.16,119.65 L145.66,119.62 L146.16,119.60 L146.66,119.57 L147.16,119.55 L147.66,119.52 L148.16,119.49 L148.66,119.46 L149.16,119.43 L149.66,119.39 L150.16,119.36 L150.66,119.32 L151.16,119.28 L151.66,119.24 L152.16,119.20 L152.66,119.15 L153.16,119.11 L153.66,119.06 L154.16,119.01 L154.66,118.95 L155.16,118.90 L155.66,118.84 L156.16,118.78 L156.66,118.71 L157.16,118.64 L157.66,118.57 L158.16,118.49 L158.66,118.41 L159.16,118.32 L159.66,118.22 L160.16,118.12 L160.66,118.02 L161.16,117.90 L161.66,117.78 L162.16,117.65 L162.66,117.51 L163.16,117.35 L163.66,117.18 L164.16,116.99 L164.66,116.79 L165.16,116.56 L165.66,116.31 L166.16,116.03 L166.66,115.71 L167.16,115.36 L167.66,114.97 L168.16,114.52 L168.66,114.03 L169.16,113.47 L169.66,112.85 L170.16,112.16 L170.66,111.40 L171.16,110.56 L171.66,109.65 L172.16,108.67 L172.66,107.62 L173.16,106.53 L173.66,105.42 L174.16,104.32 L174.66,103.28 L175.16,102.35 L175.66,101.59 L176.16,101.03 L176.66,100.70 L177.16,100.59 L177.66,100.67 L178.16,100.88 L178.66,101.14 L179.16,101.40 L179.66,101.60 L180.16,101.68 L180.66,101.61 L181.16,101.36 L181.66,100.91 L182.16,100.25 L182.66,99.38 L183.16,98.29 L183.66,96.99 L184.16,95.48 L184.66,93.80 L185.16,91.96 L185.66,89.99 L186.16,87.94 L186.66,85.83 L187.16,83.74 L187.66,81.73 L188.16,79.87 L188.66,78.24 L189.16,76.92 L189.66,75.98 L190.16,75.49 L190.66,75.49 L191.16,76.01 L191.66,77.05 L192.16,78.55 L192.66,80.43 L193.16,82.62 L193.66,85.03 L194.16,87.57 L194.66,90.17 L195.16,92.78 L195.66,95.34 L196.16,97.81 L196.66,100.17 L197.16,102.38 L197.66,104.44 L198.16,106.33 L198.66,108.05 L199.16,109.60 L199.66,110.99 L200.16,112.22 L200.66,113.30 L201.16,114.24 L201.66,115.06 L202.16,115.77 L202.66,116.38 L203.16,116.90 L203.66,117.35 L204.16,117.73 L204.66,118.06 L205.16,118.35 L205.66,118.59 L206.16,118.81 L206.66,119.00 L207.16,119.16 L207.66,119.31 L208.16,119.44 L208.66,119.56 L209.16,119.67 L209.66,119.77 L210.16,119.86 L210.66,119.94 L211.16,120.02 L211.66,120.09 L212.16,120.16 L212.66,120.23 L213.16,120.29 L213.66,120.34 L214.16,120.40 L214.66,120.45 L215.16,120.49 L215.66,120.54 L216.16,120.58 L216.66,120.62 L217.16,120.66 L217.66,120.70 L218.16,120.73 L218.66,120.77 L219.16,120.80 L219.66,120.83 L220.16,120.86 L220.66,120.88 L221.16,120.91 L221.66,120.94 L222.16,120.96 L222.66,120.98 L223.16,121.01 L223.66,121.03 L224.16,121.05 L224.66,121.07 L225.16,121.09 L225.66,121.10 L226.16,121.12 L226.66,121.14 L227.16,121.15 L227.66,121.17 L228.16,121.18 L228.66,121.20 L229.16,121.21 L229.66,121.23 L230.16,121.24 L230.66,121.25 L231.16,121.26 L231.66,121.28 L232.16,121.29 L232.66,121.30 L233.16,121.31 L233.66,121.32 L234.16,121.33 L234.66,121.34 L235.16,121.35 L235.66,121.36 L236.16,121.37"/>
<path d="M24.66,132.07 L25.16,132.06 L25.66,132.05 L26.16,132.04 L26.66,132.03 L27.16,132.02 L27.66,132.01 L28.16,131.99 L28.66,131.98 L29.16,131.97 L29.66,131.96 L30.16,131.95 L30.66,131.93 L31.16,131.92 L31.66,131.91 L32.16,131.89 L32.66,131.88 L33.16,131.86 L33.66,131.85 L34.16,131.83 L34.66,131.81 L35.16,131.80 L35.66,131.78 L36.16,131.76 L36.66,131.74 L37.16,131.72 L37.66,131.70 L38.16,131.68 L38.66,131.66 L39.16,131.64 L39.66,131.62 L40.16,131.59 L40.66,131.57 L41.16,131.54 L41.66,131.51 L42.16,131.49 L42.66,131.46 L43.16,131.43 L43.66,131.40 L44.16,131.36 L44.66,131.33 L45.16,131.30 L45.66,131.26 L46.16,131.22 L46.66,131.18 L47.16,131.14 L47.66,131.09 L48.16,131.05 L48.66,131.00 L49.16,130.95 L49.66,130.90 L50.16,130.84 L50.66,130.78 L51.16,130.72 L51.66,130.65 L52.16,130.58 L52.66,130.51 L53.16,130.43 L53.66,130.34 L54.16,130.25 L54.66,130.15 L55.16,130.05 L55.66,129.93 L56.16,129.81 L56.66,129.67 L57.16,129.53 L57.66,129.37 L58.16,129.19 L58.66,128.99 L59.16,128.78 L59.66,128.54 L60.16,128.27 L60.66,127.98 L61.16,127.66 L61.66,127.30 L62.16,126.90 L62.66,126.47 L63.16,126.00 L63.66,125.48 L64.16,124.91 L64.66,124.30 L65.16,123.64 L65.66,122.94 L66.16,122.21 L66.66,121.44 L67.16,120.65 L67.66,119.87 L68.16,119.11 L68.66,118.39 L69.16,117.75 L69.66,117.21 L70.16,116.79 L70.66,116.51 L71.16,116.36 L71.66,116.33 L72.16,116.40 L72.66,116.53 L73.16,116.70 L73.66,116.86 L74.16,117.00 L74.66,117.08 L75.16,117.09 L75.66,117.01 L76.16,116.83 L76.66,116.56 L77.16,116.19 L77.66,115.72 L78.16,115.16 L78.66,114.51 L79.16,113.79 L79.66,113.01 L80.16,112.19 L80.66,111.34 L81.16,110.49 L81.66,109.66 L82.16,108.88 L82.66,108.17 L83.16,107.57 L83.66,107.11 L84.16,106.80 L84.66,106.67 L85.16,106.74 L85.66,107.01 L86.16,107.49 L86.66,108.16 L87.16,108.99 L87.66,109.97 L88.16,111.05 L88.66,112.22 L89.16,113.44 L89.66,114.69 L90.16,115.95 L90.66,117.19 L91.16,118.41 L91.66,119.58 L92.16,120.71 L92.66,121.78 L93.16,122.78 L93.66,123.72 L94.16,124.59 L94.66,125.39 L95.16,126.12 L95.66,126.78 L96.16,127.38 L96.66,127.91 L97.16,128.39 L97.66,128.82 L98.16,129.19 L98.66,129.53 L99.16,129.82 L99.66,130.07 L100.16,130.30 L100.66,130.50 L101.16,130.67 L101.66,130.82 L102.16,130.95 L102.66,131.07 L103.16,131.18 L103.66,131.27 L104.16,131.35 L104.66,131.43 L105.16,131.49 L105.66,131.55 L106.16,131.61 L106.66,131.66 L107.16,131.71 L107.66,131.75 L108.16,131.79 L108.66,131.83 L109.16,131.86 L109.66,131.90 L110.16,131.93 L110.66,131.96 L111.16,131.98 L111.66,132.01 L112.16,132.03 L112.66,132.05 L113.16,132.07 L113.66,132.09 L114.16,132.11 L114.66,132.13 L115.16,132.14 L115.66,132.16 L116.16,132.17 L116.66,132.19 L117.16,132.20 L117.66,132.21 L118.16,132.22 L118.66,132.23 L119.16,132.24 L119.66,132.25 L120.16,132.25 L120.66,132.26 L121.16,132.27 L121.66,132.27 L122.16,132.28 L122.66,132.28 L123.16,132.28 L123.66,132.29 L124.16,132.29 L124.66,132.29 L125.16,132.29 L125.66,132.29 L126.16,132.29 L126.66,132.29 L127.16,132.29 L127.66,132.29 L128.16,132.29 L128.66,132.29 L129.16,132.29 L129.66,132.28 L130.16,132.28 L130.66,132.27 L131.16,132.27 L131.66,132.26 L132.16,132.26 L132.66,132.25 L133.16,132.25 L133.66,132.24 L134.16,132.23 L134.66,132.22 L135.16,132.21 L135.66,132.20 L136.16,132.19 L136.66,132.18 L137.16,132.17 L137.66,132.16 L138.16,132.15 L138.66,132.13 L139.16,132.12 L139.66,132.11 L140.16,132.09 L140.66,132.08 L141.16,132.06 L141.66,132.04 L142.16,132.02 L142.66,132.00 L143.16,131.98 L143.66,131.96 L144.16,131.94 L144.66,131.92 L145.16,131.89 L145.66,131.87 L146.16,131.84 L146.66,131.82 L147.16,131.79 L147.66,131.76 L148.16,131.73 L148.66,131.69 L149.16,131.66 L149.66,131.62 L150.16,131.58 L150.66,131.55 L151.16,131.50 L151.66,131.46 L152.16,131.42 L152.66,131.37 L153.16,131.32 L153.66,131.26 L154.16,131.21 L154.66,131.15 L155.16,131.09 L155.66,131.02 L156.16,130.95 L156.66,130.88 L157.16,130.80 L157.66,130.72 L158.16,130.63 L158.66,130.54 L159.16,130.44 L159.66,130.33 L160.16,130.22 L160.66,130.10 L161.16,129.97 L161.66,129.83 L162.16,129.67 L162.66,129.50 L163.16,129.32 L163.66,129.12 L164.16,128.90 L164.66,128.65 L165.16,128.38 L165.66,128.07 L166.16,127.73 L166.66,127.34 L167.16,126.91 L167.66,126.41 L168.16,125.86 L168.66,125.23 L169.16,124.53 L169.66,123.75 L170.16,122.87 L170.66,121.90 L171.16,120.83 L171.66,119.66 L172.16,118.41 L172.66,117.07 L173.16,115.68 L173.66,114.26 L174.16,112.87 L174.66,111.57 L175.16,110.43 L175.66,109.52 L176.16,108.91 L176.66,108.62 L177.16,108.64 L177.66,108.94 L178.16,109.44 L178.66,110.06 L179.16,110.71 L179.66,111.31 L180.16,111.80 L180.66,112.14 L181.16,112.30 L181.66,112.26 L182.16,111.99 L182.66,111.50 L183.16,110.79 L183.66,109.86 L184.16,108.72 L184.66,107.40 L185.16,105.92 L185.66,104.30 L186.16,102.58 L186.66,100.81 L187.16,99.04 L187.66,97.32 L188.16,95.73 L188.66,94.33 L189.16,93.21 L189.66,92.42 L190.16,92.03 L190.66,92.07 L191.16,92.57 L191.66,93.53 L192.16,94.90 L192.66,96.61 L193.16,98.59 L193.66,100.76 L194.16,103.06 L194.66,105.40 L195.16,107.75 L195.66,110.06 L196.16,112.28 L196.66,114.40 L197.16,116.40 L197.66,118.25 L198.16,119.95 L198.66,121.50 L199.16,122.90 L199.66,124.15 L200.16,125.25 L200.66,126.23 L201.16,127.08 L201.66,127.82 L202.16,128.46 L202.66,129.01 L203.16,129.49 L203.66,129.89 L204.16,130.24 L204.66,130.54 L205.16,130.80 L205.66,131.03 L206.16,131.22 L206.66,131.40 L207.16,131.55 L207.66,131.69 L208.16,131.81 L208.66,131.92 L209.16,132.02 L209.66,132.11 L210.16,132.20 L210.66,132.27 L211.16,132.35 L211.66,132.42 L212.16,132.48 L212.66,132.54 L213.16,132.60 L213.66,132.65 L214.16,132.70 L214.66,132.75 L215.16,132.79 L215.66,132.83 L216.16,132.87 L216.66,132.91 L217.16,132.95 L217.66,132.98 L218.16,133.02 L218.66,133.05 L219.16,133.08 L219.66,133.11 L220.16,133.13 L220.66,133.16 L221.16,133.19 L221.66,133.21 L222.16,133.23 L222.66,133.25 L223.16,133.28 L223.66,133.30 L224.16,133.32 L224.66,133.33 L225.16,133.35 L225.66,133.37 L226.16,133.39 L226.66,133.40 L227.16,133.42 L227.66,133.43 L228.16,133.45 L228.66,133.46 L229.16,133.47 L229.66,133.49 L230.16,133.50 L230.66,133.51 L231.16,133.52 L231.66,133.53 L232.16,133.55 L232.66,133.56 L233.16,133.57 L233.66,133.58 L234.16,133.59 L234.66,133.59 L235.16,133.60 L235.66,133.61 L236.16,133.62"/>
<path d="M24.66,144.35 L25.16,144.34 L25.66,144.33 L26.16,144.32 L26.66,144.31 L27.16,144.30 L27.66,144.29 L28.16,144.28 L28.66,144.27 L29.16,144.26 L29.66,144.25 L30.16,144.23 L30.66,144.22 L31.16,144.21 L31.66,144.19 L32.16,144.18 L32.66,144.16 L33.16,144.15 L33.66,144.13 L34.16,144.12 L34.66,144.10 L35.16,144.09 L35.66,144.07 L36.16,144.05 L36.66,144.03 L37.16,144.01 L37.66,143.99 L38.16,143.97 L38.66,143.95 L39.16,143.93 L39.66,143.90 L40.16,143.88 L40.66,143.85 L41.16,143.83 L41.66,143.80 L42.16,143.77 L42.66,143.74 L43.16,143.71 L43.66,143.68 L44.16,143.65 L44.66,143.61 L45.16,143.58 L45.66,143.54 L46.16,143.50 L46.66,143.46 L47.16,143.41 L47.66,143.37 L48.16,143.32 L48.66,143.27 L49.16,143.22 L49.66,143.16 L50.16,143.10 L50.66,143.04 L51.16,142.97 L51.66,142.90 L52.16,142.83 L52.66,142.75 L53.16,142.66 L53.66,142.57 L54.16,142.47 L54.66,142.36 L55.16,142.25 L55.66,142.12 L56.16,141.98 L56.66,141.83 L57.16,141.67 L57.66,141.49 L58.16,141.29 L58.66,141.07 L59.16,140.82 L59.66,140.55 L60.16,140.25 L60.66,139.91 L61.16,139.54 L61.66,139.13 L62.16,138.67 L62.66,138.17 L63.16,137.61 L63.66,137.01 L64.16,136.35 L64.66,135.64 L65.16,134.87 L65.66,134.06 L66.16,133.20 L66.66,132.31 L67.16,131.40 L67.66,130.50 L68.16,129.63 L68.66,128.81 L69.16,128.10 L69.66,127.52 L70.16,127.09 L70.66,126.84 L71.16,126.76 L71.66,126.84 L72.16,127.05 L72.66,127.36 L73.16,127.72 L73.66,128.10 L74.16,128.46 L74.66,128.78 L75.16,129.02 L75.66,129.19 L76.16,129.26 L76.66,129.23 L77.16,129.11 L77.66,128.89 L78.16,128.57 L78.66,128.17 L79.16,127.70 L79.66,127.16 L80.16,126.57 L80.66,125.94 L81.16,125.31 L81.66,124.68 L82.16,124.09 L82.66,123.55 L83.16,123.10 L83.66,122.75 L84.16,122.54 L84.66,122.47 L85.16,122.55 L85.66,122.82 L86.16,123.25 L86.66,123.84 L87.16,124.57 L87.66,125.42 L88.16,126.35 L88.66,127.36 L89.16,128.41 L89.66,129.48 L90.16,130.55 L90.66,131.62 L91.16,132.66 L91.66,133.67 L92.16,134.63 L92.66,135.54 L93.16,136.40 L93.66,137.21 L94.16,137.95 L94.66,138.63 L95.16,139.26 L95.66,139.82 L96.16,140.33 L96.66,140.79 L97.16,141.20 L97.66,141.57 L98.16,141.89 L98.66,142.18 L99.16,142.43 L99.66,142.65 L100.16,142.85 L100.66,143.02 L101.16,143.17 L101.66,143.30 L102.16,143.41 L102.66,143.52 L103.16,143.61 L103.66,143.69 L104.16,143.76 L104.66,143.83 L105.16,143.89 L105.66,143.94 L106.16,143.99 L106.66,144.04 L107.16,144.08 L107.66,144.12 L108.16,144.15 L108.66,144.19 L109.16,144.22 L109.66,144.25 L110.16,144.27 L110.66,144.30 L111.16,144.32 L111.66,144.35 L112.16,144.37 L112.66,144.39 L113.16,144.41 L113.66,144.42 L114.16,144.44 L114.66,144.45 L115.16,144.47 L115.66,144.48 L116.16,144.49 L116.66,144.51 L117.16,144.52 L117.66,144.53 L118.16,144.54 L118.66,144.54 L119.16,144.55 L119.66,144.56 L120.16,144.57 L120.66,144.57 L121.16,144.58 L121.66,144.58 L122.16,144.59 L122.66,144.59 L123.16,144.59 L123.66,144.60 L124.16,144.60 L124.66,144.60 L125.16,144.60 L125.66,144.60 L126.16,144.60 L126.66,144.60 L127.16,144.60 L127.66,144.60 L128.16,144.59 L128.66,144.59 L129.16,144.59 L129.66,144.59 L130.16,144.58 L130.66,144.58 L131.16,144.57 L131.66,144.57 L132.16,144.56 L132.66,144.56 L133.16,144.55 L133.66,144.54 L134.16,144.53 L134.66,144.52 L135.16,144.52 L135.66,144.51 L136.16,144.50 L136.66,144.49 L137.16,144.47 L137.66,144.46 L138.16,144.45 L138.66,144.44 L139.16,144.42 L139.66,144.41 L140.16,144.39 L140.66,144.38 L141.16,144.36 L141.66,144.34 L142.16,144.32 L142.66,144.30 L143.16,144.28 L143.66,144.26 L144.16,144.24 L144.66,144.22 L145.16,144.19 L145.66,144.17 L146.16,144.14 L146.66,144.11 L147.16,144.09 L147.66,144.05 L148.16,144.02 L148.66,143.99 L149.16,143.95 L149.66,143.92 L150.16,143.88 L150.66,143.84 L151.16,143.80 L151.66,143.75 L152.16,143.70 L152.66,143.65 L153.16,143.60 L153.66,143.55 L154.16,143.49 L154.66,143.43 L155.16,143.36 L155.66,143.29 L156.16,143.22 L156.66,143.14 L157.16,143.06 L157.66,142.97 L158.16,142.88 L158.66,142.78 L159.16,142.67 L159.66,142.56 L160.16,142.44 L160.66,142.30 L161.16,142.16 L161.66,142.01 L162.16,141.84 L162.66,141.65 L163.16,141.45 L163.66,141.23 L164.16,140.98 L164.66,140.70 L165.16,140.39 L165.66,140.04 L166.16,139.65 L166.66,139.21 L167.16,138.71 L167.66,138.14 L168.16,137.50 L168.66,136.77 L169.16,135.95 L169.66,135.03 L170.16,134.01 L170.66,132.87 L171.16,131.61 L171.66,130.24 L172.16,128.77 L172.66,127.19 L173.16,125.56 L173.66,123.90 L174.16,122.28 L174.66,120.77 L175.16,119.46 L175.66,118.45 L176.16,117.80 L176.66,117.56 L177.16,117.72 L177.66,118.23 L178.16,119.00 L178.66,119.94 L179.16,120.94 L179.66,121.91 L180.16,122.79 L180.66,123.53 L181.16,124.08 L181.66,124.43 L182.16,124.56 L182.66,124.47 L183.16,124.15 L183.66,123.62 L184.16,122.89 L184.66,121.97 L185.16,120.89 L185.66,119.68 L186.16,118.36 L186.66,116.98 L187.16,115.59 L187.66,114.23 L188.16,112.96 L188.66,111.85 L189.16,110.96 L189.66,110.35 L190.16,110.07 L190.66,110.15 L191.16,110.61 L191.66,111.46 L192.16,112.65 L192.66,114.13 L193.16,115.83 L193.66,117.69 L194.16,119.66 L194.66,121.66 L195.16,123.67 L195.66,125.64 L196.16,127.54 L196.66,129.35 L197.16,131.05 L197.66,132.63 L198.16,134.08 L198.66,135.40 L199.16,136.59 L199.66,137.66 L200.16,138.61 L200.66,139.44 L201.16,140.17 L201.66,140.80 L202.16,141.35 L202.66,141.83 L203.16,142.24 L203.66,142.59 L204.16,142.89 L204.66,143.15 L205.16,143.38 L205.66,143.57 L206.16,143.74 L206.66,143.89 L207.16,144.03 L207.66,144.15 L208.16,144.26 L208.66,144.35 L209.16,144.44 L209.66,144.52 L210.16,144.60 L210.66,144.67 L211.16,144.74 L211.66,144.80 L212.16,144.85 L212.66,144.91 L213.16,144.96 L213.66,145.01 L214.16,145.05 L214.66,145.09 L215.16,145.13 L215.66,145.17 L216.16,145.21 L216.66,145.24 L217.16,145.28 L217.66,145.31 L218.16,145.34 L218.66,145.37 L219.16,145.39 L219.66,145.42 L220.16,145.45 L220.66,145.47 L221.16,145.49 L221.66,145.51 L222.16,145.53 L222.66,145.56 L223.16,145.57 L223.66,145.59 L224.16,145.61 L224.66,145.63 L225.16,145.64 L225.66,145.66 L226.16,145.68 L226.66,145.69 L227.16,145.70 L227.66,145.72 L228.16,145.73 L228.66,145.74 L229.16,145.76 L229.66,145.77 L230.16,145.78 L230.66,145.79 L231.16,145.80 L231.66,145.81 L232.16,145.82 L232.66,145.83 L233.16,145.84 L233.66,145.85 L234.16,145.86 L234.66,145.87 L235.16,145.88 L235.66,145.89 L236.16,145.89"/>
<path d="M24.66,156.60 L25.16,156.59 L25.66,156.58 L26.16,156.57 L26.66,156.56 L27.16,156.55 L27.66,156.54 L28.16,156.53 L28.66,156.52 L29.16,156.51 L29.66,156.49 L30.16,156.48 L30.66,156.47 L31.16,156.45 L31.66,156.44 L32.16,156.43 L32.66,156.41 L33.16,156.40 L33.66,156.38 L34.16,156.37 L34.66,156.35 L35.16,156.33 L35.66,156.31 L36.16,156.30 L36.66,156.28 L37.16,156.26 L37.66,156.24 L38.16,156.22 L38.66,156.19 L39.16,156.17 L39.66,156.15 L40.16,156.12 L40.66,156.10 L41.16,156.07 L41.66,156.05 L42.16,156.02 L42.66,155.99 L43.16,155.96 L43.66,155.92 L44.16,155.89 L44.66,155.86 L45.16,155.82 L45.66,155.78 L46.16,155.74 L46.66,155.70 L47.16,155.65 L47.66,155.61 L48.16,155.56 L48.66,155.51 L49.16,155.45 L49.66,155.40 L50.16,155.34 L50.66,155.27 L51.16,155.21 L51.66,155.13 L52.16,155.06 L52.66,154.98 L53.16,154.89 L53.66,154.80 L54.16,154.70 L54.66,154.59 L55.16,154.47 L55.66,154.34 L56.16,154.20 L56.66,154.05 L57.16,153.88 L57.66,153.70 L58.16,153.50 L58.66,153.27 L59.16,153.02 L59.66,152.74 L60.16,152.44 L60.66,152.09 L61.16,151.72 L61.66,151.30 L62.16,150.83 L62.66,150.32 L63.16,149.75 L63.66,149.14 L64.16,148.47 L64.66,147.74 L65.16,146.96 L65.66,146.13 L66.16,145.25 L66.66,144.35 L67.16,143.42 L67.66,142.50 L68.16,141.61 L68.66,140.78 L69.16,140.06 L69.66,139.47 L70.16,139.04 L70.66,138.79 L71.16,138.71 L71.66,138.80 L72.16,139.03 L72.66,139.35 L73.16,139.73 L73.66,140.13 L74.16,140.51 L74.66,140.85 L75.16,141.12 L75.66,141.31 L76.16,141.40 L76.66,141.39 L77.16,141.29 L77.66,141.09 L78.16,140.79 L78.66,140.41 L79.16,139.95 L79.66,139.42 L80.16,138.85 L80.66,138.24 L81.16,137.62 L81.66,137.00 L82.16,136.42 L82.66,135.89 L83.16,135.45 L83.66,135.11 L84.16,134.90 L84.66,134.83 L85.16,134.92 L85.66,135.18 L86.16,135.62 L86.66,136.21 L87.16,136.93 L87.66,137.77 L88.16,138.71 L88.66,139.71 L89.16,140.75 L89.66,141.81 L90.16,142.88 L90.66,143.94 L91.16,144.98 L91.66,145.98 L92.16,146.93 L92.66,147.84 L93.16,148.70 L93.66,149.49 L94.16,150.23 L94.66,150.91 L95.16,151.53 L95.66,152.09 L96.16,152.60 L96.66,153.06 L97.16,153.47 L97.66,153.83 L98.16,154.15 L98.66,154.44 L99.16,154.69 L99.66,154.91 L100.16,155.10 L100.66,155.27 L101.16,155.42 L101.66,155.55 L102.16,155.66 L102.66,155.77 L103.16,155.86 L103.66,155.94 L104.16,156.01 L104.66,156.08 L105.16,156.14 L105.66,156.19 L106.16,156.24 L106.66,156.29 L107.16,156.33 L107.66,156.37 L108.16,156.40 L108.66,156.44 L109.16,156.47 L109.66,156.50 L110.16,156.52 L110.66,156.55 L111.16,156.57 L111.66,156.59 L112.16,156.62 L112.66,156.64 L113.16,156.65 L113.66,156.67 L114.16,156.69 L114.66,156.70 L115.16,156.72 L115.66,156.73 L116.16,156.74 L116.66,156.75 L117.16,156.76 L117.66,156.77 L118.16,156.78 L118.66,156.79 L119.16,156.80 L119.66,156.81 L120.16,156.81 L120.66,156.82 L121.16,156.82 L121.66,156.83 L122.16,156.83 L122.66,156.84 L123.16,156.84 L123.66,156.84 L124.16,156.84 L124.66,156.85 L125.16,156.85 L125.66,156.85 L126.16,156.85 L126.66,156.85 L127.16,156.85 L127.66,156.84 L128.16,156.84 L128.66,156.84 L129.16,156.84 L129.66,156.83 L130.16,156.83 L130.66,156.82 L131.16,156.82 L131.66,156.81 L132.16,156.81 L132.66,156.80 L133.16,156.80 L133.66,156.79 L134.16,156.78 L134.66,156.77 L135.16,156.76 L135.66,156.75 L136.16,156.74 L136.66,156.73 L137.16,156.72 L137.66,156.71 L138.16,156.70 L138.66,156.68 L139.16,156.67 L139.66,156.65 L140.16,156.64 L140.66,156.62 L141.16,156.61 L141.66,156.59 L142.16,156.57 L142.66,156.55 L143.16,156.53 L143.66,156.51 L144.16,156.49 L144.66,156.46 L145.16,156.44 L145.66,156.41 L146.16,156.39 L146.66,156.36 L147.16,156.33 L147.66,156.30 L148.16,156.26 L148.66,156.23 L149.16,156.20 L149.66,156.16 L150.16,156.12 L150.66,156.08 L151.16,156.04 L151.66,155.99 L152.16,155.94 L152.66,155.89 L153.16,155.84 L153.66,155.78 L154.16,155.72 L154.66,155.66 L155.16,155.60 L155.66,155.53 L156.16,155.45 L156.66,155.37 L157.16,155.29 L157.66,155.20 L158.16,155.11 L158.66,155.01 L159.16,154.90 L159.66,154.78 L160.16,154.66 L160.66,154.52 L161.16,154.38 L161.66,154.22 L162.16,154.05 L162.66,153.86 L163.16,153.66 L163.66,153.43 L164.16,153.18 L164.66,152.90 L165.16,152.58 L165.66,152.23 L166.16,151.83 L166.66,151.38 L167.16,150.87 L167.66,150.29 L168.16,149.63 L168.66,148.89 L169.16,148.06 L169.66,147.12 L170.16,146.07 L170.66,144.91 L171.16,143.63 L171.66,142.23 L172.16,140.73 L172.66,139.12 L173.16,137.45 L173.66,135.76 L174.16,134.11 L174.66,132.57 L175.16,131.24 L175.66,130.21 L176.16,129.56 L176.66,129.32 L177.16,129.49 L177.66,130.02 L178.16,130.82 L178.66,131.79 L179.16,132.82 L179.66,133.84 L180.16,134.76 L180.66,135.53 L181.16,136.12 L181.66,136.51 L182.16,136.67 L182.66,136.61 L183.16,136.32 L183.66,135.82 L184.16,135.12 L184.66,134.23 L185.16,133.17 L185.66,131.98 L186.16,130.69 L186.66,129.33 L187.16,127.96 L187.66,126.61 L188.16,125.36 L188.66,124.27 L189.16,123.39 L189.66,122.79 L190.16,122.52 L190.66,122.60 L191.16,123.07 L191.66,123.91 L192.16,125.10 L192.66,126.57 L193.16,128.26 L193.66,130.11 L194.16,132.06 L194.66,134.05 L195.16,136.05 L195.66,138.00 L196.16,139.89 L196.66,141.69 L197.16,143.38 L197.66,144.95 L198.16,146.39 L198.66,147.70 L199.16,148.89 L199.66,149.95 L200.16,150.89 L200.66,151.72 L201.16,152.44 L201.66,153.07 L202.16,153.62 L202.66,154.09 L203.16,154.50 L203.66,154.85 L204.16,155.15 L204.66,155.41 L205.16,155.63 L205.66,155.83 L206.16,156.00 L206.66,156.15 L207.16,156.28 L207.66,156.40 L208.16,156.51 L208.66,156.60 L209.16,156.69 L209.66,156.77 L210.16,156.85 L210.66,156.92 L211.16,156.98 L211.66,157.05 L212.16,157.10 L212.66,157.16 L213.16,157.21 L213.66,157.25 L214.16,157.30 L214.66,157.34 L215.16,157.38 L215.66,157.42 L216.16,157.46 L216.66,157.49 L217.16,157.53 L217.66,157.56 L218.16,157.59 L218.66,157.62 L219.16,157.64 L219.66,157.67 L220.16,157.69 L220.66,157.72 L221.16,157.74 L221.66,157.76 L222.16,157.78 L222.66,157.80 L223.16,157.82 L223.66,157.84 L224.16,157.86 L224.66,157.88 L225.16,157.89 L225.66,157.91 L226.16,157.92 L226.66,157.94 L227.16,157.95 L227.66,157.97 L228.16,157.98 L228.66,157.99 L229.16,158.01 L229.66,158.02 L230.16,158.03 L230.66,158.04 L231.16,158.05 L231.66,158.06 L232.16,158.07 L232.66,158.08 L233.16,158.09 L233.66,158.10 L234.16,158.11 L234.66,158.12 L235.16,158.13 L235.66,158.13 L236.16,158.14"/>
<path d="M24.66,168.84 L25.16,168.83 L25.66,168.82 L26.16,168.81 L26.66,168.80 L27.16,168.79 L27.66,168.78 L28.16,168.76 L28.66,168.75 L29.16,168.74 L29.66,168.73 L30.16,168.71 L30.66,168.70 L31.16,168.69 L31.66,168.67 L32.16,168.66 L32.66,168.64 L33.16,168.63 L33.66,168.61 L34.16,168.60 L34.66,168.58 L35.16,168.56 L35.66,168.54 L36.16,168.52 L36.66,168.51 L37.16,168.49 L37.66,168.46 L38.16,168.44 L38.66,168.42 L39.16,168.40 L39.66,168.37 L40.16,168.35 L40.66,168.32 L41.16,168.30 L41.66,168.27 L42.16,168.24 L42.66,168.21 L43.16,168.18 L43.66,168.14 L44.16,168.11 L44.66,168.07 L45.16,168.03 L45.66,168.00 L46.16,167.95 L46.66,167.91 L47.16,167.87 L47.66,167.82 L48.16,167.77 L48.66,167.71 L49.16,167.66 L49.66,167.60 L50.16,167.54 L50.66,167.47 L51.16,167.40 L51.66,167.33 L52.16,167.25 L52.66,167.17 L53.16,167.08 L53.66,166.98 L54.16,166.87 L54.66,166.76 L55.16,166.64 L55.66,166.51 L56.16,166.36 L56.66,166.21 L57.16,166.03 L57.66,165.84 L58.16,165.63 L58.66,165.40 L59.16,165.14 L59.66,164.85 L60.16,164.53 L60.66,164.17 L61.16,163.78 L61.66,163.34 L62.16,162.86 L62.66,162.33 L63.16,161.74 L63.66,161.10 L64.16,160.40 L64.66,159.64 L65.16,158.83 L65.66,157.97 L66.16,157.06 L66.66,156.11 L67.16,155.15 L67.66,154.19 L68.16,153.27 L68.66,152.41 L69.16,151.66 L69.66,151.05 L70.16,150.60 L70.66,150.35 L71.16,150.28 L71.66,150.38 L72.16,150.62 L72.66,150.97 L73.16,151.38 L73.66,151.82 L74.16,152.23 L74.66,152.60 L75.16,152.90 L75.66,153.11 L76.16,153.23 L76.66,153.25 L77.16,153.17 L77.66,152.98 L78.16,152.70 L78.66,152.33 L79.16,151.88 L79.66,151.37 L80.16,150.80 L80.66,150.20 L81.16,149.58 L81.66,148.97 L82.16,148.39 L82.66,147.86 L83.16,147.42 L83.66,147.08 L84.16,146.87 L84.66,146.81 L85.16,146.91 L85.66,147.18 L86.16,147.61 L86.66,148.21 L87.16,148.95 L87.66,149.80 L88.16,150.74 L88.66,151.75 L89.16,152.81 L89.66,153.88 L90.16,154.96 L90.66,156.03 L91.16,157.08 L91.66,158.09 L92.16,159.06 L92.66,159.97 L93.16,160.84 L93.66,161.64 L94.16,162.39 L94.66,163.07 L95.16,163.70 L95.66,164.27 L96.16,164.78 L96.66,165.25 L97.16,165.66 L97.66,166.02 L98.16,166.35 L98.66,166.64 L99.16,166.89 L99.66,167.11 L100.16,167.31 L100.66,167.48 L101.16,167.63 L101.66,167.76 L102.16,167.88 L102.66,167.98 L103.16,168.08 L103.66,168.16 L104.16,168.23 L104.66,168.30 L105.16,168.36 L105.66,168.41 L106.16,168.46 L106.66,168.51 L107.16,168.55 L107.66,168.59 L108.16,168.63 L108.66,168.66 L109.16,168.69 L109.66,168.72 L110.16,168.75 L110.66,168.77 L111.16,168.80 L111.66,168.82 L112.16,168.84 L112.66,168.86 L113.16,168.88 L113.66,168.90 L114.16,168.92 L114.66,168.93 L115.16,168.95 L115.66,168.96 L116.16,168.97 L116.66,168.98 L117.16,168.99 L117.66,169.00 L118.16,169.01 L118.66,169.02 L119.16,169.03 L119.66,169.04 L120.16,169.04 L120.66,169.05 L121.16,169.06 L121.66,169.06 L122.16,169.06 L122.66,169.07 L123.16,169.07 L123.66,169.07 L124.16,169.08 L124.66,169.08 L125.16,169.08 L125.66,169.08 L126.16,169.08 L126.66,169.08 L127.16,169.08 L127.66,169.07 L128.16,169.07 L128.66,169.07 L129.16,169.07 L129.66,169.06 L130.16,169.06 L130.66,169.05 L131.16,169.05 L131.66,169.04 L132.16,169.04 L132.66,169.03 L133.16,169.02 L133.66,169.02 L134.16,169.01 L134.66,169.00 L135.16,168.99 L135.66,168.98 L136.16,168.97 L136.66,168.96 L137.16,168.95 L137.66,168.93 L138.16,168.92 L138.66,168.91 L139.16,168.89 L139.66,168.88 L140.16,168.86 L140.66,168.85 L141.16,168.83 L141.66,168.81 L142.16,168.79 L142.66,168.77 L143.16,168.75 L143.66,168.73 L144.16,168.71 L144.66,168.68 L145.16,168.66 L145.66,168.63 L146.16,168.60 L146.66,168.57 L147.16,168.54 L147.66,168.51 L148.16,168.48 L148.66,168.44 L149.16,168.41 L149.66,168.37 L150.16,168.33 L150.66,168.29 L151.16,168.24 L151.66,168.19 L152.16,168.15 L152.66,168.09 L153.16,168.04 L153.66,167.98 L154.16,167.92 L154.66,167.86 L155.16,167.79 L155.66,167.72 L156.16,167.64 L156.66,167.56 L157.16,167.47 L157.66,167.38 L158.16,167.28 L158.66,167.18 L159.16,167.07 L159.66,166.95 L160.16,166.82 L160.66,166.68 L161.16,166.53 L161.66,166.37 L162.16,166.19 L162.66,166.00 L163.16,165.78 L163.66,165.55 L164.16,165.28 L164.66,164.99 L165.16,164.67 L165.66,164.30 L166.16,163.88 L166.66,163.41 L167.16,162.88 L167.66,162.28 L168.16,161.60 L168.66,160.83 L169.16,159.96 L169.66,158.99 L170.16,157.90 L170.66,156.69 L171.16,155.35 L171.66,153.90 L172.16,152.33 L172.66,150.66 L173.16,148.92 L173.66,147.16 L174.16,145.43 L174.66,143.83 L175.16,142.45 L175.66,141.38 L176.16,140.71 L176.66,140.47 L177.16,140.66 L177.66,141.22 L178.16,142.07 L178.66,143.09 L179.16,144.19 L179.66,145.27 L180.16,146.25 L180.66,147.09 L181.16,147.73 L181.66,148.16 L182.16,148.37 L182.66,148.35 L183.16,148.09 L183.66,147.62 L184.16,146.93 L184.66,146.06 L185.16,145.01 L185.66,143.83 L186.16,142.54 L186.66,141.18 L187.16,139.81 L187.66,138.46 L188.16,137.21 L188.66,136.11 L189.16,135.24 L189.66,134.64 L190.16,134.37 L190.66,134.45 L191.16,134.93 L191.66,135.78 L192.16,136.98 L192.66,138.47 L193.16,140.18 L193.66,142.05 L194.16,144.02 L194.66,146.03 L195.16,148.05 L195.66,150.02 L196.16,151.93 L196.66,153.75 L197.16,155.45 L197.66,157.04 L198.16,158.50 L198.66,159.82 L199.16,161.02 L199.66,162.09 L200.16,163.04 L200.66,163.88 L201.16,164.61 L201.66,165.25 L202.16,165.80 L202.66,166.28 L203.16,166.69 L203.66,167.04 L204.16,167.34 L204.66,167.61 L205.16,167.83 L205.66,168.03 L206.16,168.20 L206.66,168.36 L207.16,168.49 L207.66,168.61 L208.16,168.72 L208.66,168.82 L209.16,168.91 L209.66,168.99 L210.16,169.07 L210.66,169.14 L211.16,169.21 L211.66,169.27 L212.16,169.33 L212.66,169.38 L213.16,169.43 L213.66,169.48 L214.16,169.53 L214.66,169.57 L215.16,169.61 L215.66,169.65 L216.16,169.69 L216.66,169.72 L217.16,169.76 L217.66,169.79 L218.16,169.82 L218.66,169.85 L219.16,169.87 L219.66,169.90 L220.16,169.93 L220.66,169.95 L221.16,169.97 L221.66,170.00 L222.16,170.02 L222.66,170.04 L223.16,170.06 L223.66,170.08 L224.16,170.10 L224.66,170.11 L225.16,170.13 L225.66,170.15 L226.16,170.16 L226.66,170.18 L227.16,170.19 L227.66,170.20 L228.16,170.22 L228.66,170.23 L229.16,170.24 L229.66,170.26 L230.16,170.27 L230.66,170.28 L231.16,170.29 L231.66,170.30 L232.16,170.31 L232.66,170.32 L233.16,170.33 L233.66,170.34 L234.16,170.35 L234.66,170.36 L235.16,170.37 L235.66,170.37 L236.16,170.38"/>
<path d="M24.66,181.10 L25.16,181.09 L25.66,181.08 L26.16,181.07 L26.66,181.06 L27.16,181.04 L27.66,181.03 L28.16,181.02 L28.66,181.01 L29.16,181.00 L29.66,180.98 L30.16,180.97 L30.66,180.96 L31.16,180.94 L31.66,180.93 L32.16,180.91 L32.66,180.90 L33.16,180.88 L33.66,180.87 L34.16,180.85 L34.66,180.83 L35.16,180.81 L35.66,180.79 L36.16,180.77 L36.66,180.75 L37.16,180.73 L37.66,180.71 L38.16,180.69 L38.66,180.67 L39.16,180.64 L39.66,180.62 L40.16,180.59 L40.66,180.56 L41.16,180.53 L41.66,180.51 L42.16,180.47 L42.66,180.44 L43.16,180.41 L43.66,180.37 L44.16,180.34 L44.66,180.30 L45.16,180.26 L45.66,180.22 L46.16,180.17 L46.66,180.12 L47.16,180.08 L47.66,180.02 L48.16,179.97 L48.66,179.91 L49.16,179.85 L49.66,179.79 L50.16,179.72 L50.66,179.65 L51.16,179.57 L51.66,179.49 L52.16,179.40 L52.66,179.31 L53.16,179.21 L53.66,179.11 L54.16,178.99 L54.66,178.86 L55.16,178.73 L55.66,178.58 L56.16,178.42 L56.66,178.24 L57.16,178.04 L57.66,177.82 L58.16,177.58 L58.66,177.32 L59.16,177.02 L59.66,176.69 L60.16,176.32 L60.66,175.91 L61.16,175.45 L61.66,174.94 L62.16,174.38 L62.66,173.76 L63.16,173.08 L63.66,172.33 L64.16,171.51 L64.66,170.63 L65.16,169.68 L65.66,168.67 L66.16,167.61 L66.66,166.51 L67.16,165.39 L67.66,164.28 L68.16,163.21 L68.66,162.23 L69.16,161.38 L69.66,160.70 L70.16,160.23 L70.66,159.99 L71.16,159.99 L71.66,160.20 L72.16,160.59 L72.66,161.12 L73.16,161.73 L73.66,162.38 L74.16,163.03 L74.66,163.64 L75.16,164.18 L75.66,164.64 L76.16,165.00 L76.66,165.25 L77.16,165.40 L77.66,165.44 L78.16,165.39 L78.66,165.23 L79.16,165.00 L79.66,164.69 L80.16,164.32 L80.66,163.91 L81.16,163.47 L81.66,163.03 L82.16,162.61 L82.66,162.22 L83.16,161.90 L83.66,161.67 L84.16,161.54 L84.66,161.53 L85.16,161.65 L85.66,161.92 L86.16,162.33 L86.66,162.88 L87.16,163.54 L87.66,164.30 L88.16,165.14 L88.66,166.04 L89.16,166.97 L89.66,167.92 L90.16,168.87 L90.66,169.81 L91.16,170.73 L91.66,171.62 L92.16,172.47 L92.66,173.27 L93.16,174.03 L93.66,174.74 L94.16,175.39 L94.66,176.00 L95.16,176.55 L95.66,177.05 L96.16,177.50 L96.66,177.91 L97.16,178.27 L97.66,178.60 L98.16,178.88 L98.66,179.14 L99.16,179.36 L99.66,179.56 L100.16,179.73 L100.66,179.89 L101.16,180.02 L101.66,180.14 L102.16,180.25 L102.66,180.34 L103.16,180.42 L103.66,180.50 L104.16,180.56 L104.66,180.63 L105.16,180.68 L105.66,180.73 L106.16,180.78 L106.66,180.82 L107.16,180.86 L107.66,180.89 L108.16,180.93 L108.66,180.96 L109.16,180.99 L109.66,181.02 L110.16,181.04 L110.66,181.06 L111.16,181.09 L111.66,181.11 L112.16,181.13 L112.66,181.15 L113.16,181.16 L113.66,181.18 L114.16,181.20 L114.66,181.21 L115.16,181.22 L115.66,181.24 L116.16,181.25 L116.66,181.26 L117.16,181.27 L117.66,181.28 L118.16,181.29 L118.66,181.29 L119.16,181.30 L119.66,181.31 L120.16,181.31 L120.66,181.32 L121.16,181.32 L121.66,181.33 L122.16,181.33 L122.66,181.34 L123.16,181.34 L123.66,181.34 L124.16,181.34 L124.66,181.34 L125.16,181.34 L125.66,181.34 L126.16,181.34 L126.66,181.34 L127.16,181.34 L127.66,181.34 L128.16,181.34 L128.66,181.33 L129.16,181.33 L129.66,181.33 L130.16,181.32 L130.66,181.32 L131.16,181.31 L131.66,181.30 L132.16,181.30 L132.66,181.29 L133.16,181.28 L133.66,181.28 L134.16,181.27 L134.66,181.26 L135.16,181.25 L135.66,181.24 L136.16,181.23 L136.66,181.21 L137.16,181.20 L137.66,181.19 L138.16,181.18 L138.66,181.16 L139.16,181.15 L139.66,181.13 L140.16,181.11 L140.66,181.10 L141.16,181.08 L141.66,181.06 L142.16,181.04 L142.66,181.02 L143.16,181.00 L143.66,180.97 L144.16,180.95 L144.66,180.92 L145.16,180.90 L145.66,180.87 L146.16,180.84 L146.66,180.81 L147.16,180.78 L147.66,180.75 L148.16,180.71 L148.66,180.67 L149.16,180.64 L149.66,180.59 L150.16,180.55 L150.66,180.51 L151.16,180.46 L151.66,180.41 L152.16,180.36 L152.66,180.30 L153.16,180.24 L153.66,180.18 L154.16,180.11 L154.66,180.05 L155.16,179.97 L155.66,179.89 L156.16,179.81 L156.66,179.72 L157.16,179.63 L157.66,179.53 L158.16,179.42 L158.66,179.31 L159.16,179.18 L159.66,179.05 L160.16,178.91 L160.66,178.75 L161.16,178.59 L161.66,178.40 L162.16,178.20 L162.66,177.99 L163.16,177.74 L163.66,177.48 L164.16,177.18 L164.66,176.85 L165.16,176.47 L165.66,176.05 L166.16,175.57 L166.66,175.03 L167.16,174.42 L167.66,173.72 L168.16,172.92 L168.66,172.03 L169.16,171.01 L169.66,169.87 L170.16,168.59 L170.66,167.18 L171.16,165.61 L171.66,163.90 L172.16,162.06 L172.66,160.09 L173.16,158.05 L173.66,155.99 L174.16,153.98 L174.66,152.11 L175.16,150.52 L175.66,149.31 L176.16,148.58 L176.66,148.37 L177.16,148.69 L177.66,149.48 L178.16,150.62 L178.66,151.99 L179.16,153.47 L179.66,154.95 L180.16,156.34 L180.66,157.58 L181.16,158.63 L181.66,159.46 L182.16,160.05 L182.66,160.40 L183.16,160.52 L183.66,160.41 L184.16,160.08 L184.66,159.55 L185.16,158.86 L185.66,158.01 L186.16,157.05 L186.66,156.01 L187.16,154.94 L187.66,153.88 L188.16,152.89 L188.66,152.02 L189.16,151.34 L189.66,150.88 L190.16,150.70 L190.66,150.83 L191.16,151.29 L191.66,152.07 L192.16,153.15 L192.66,154.47 L193.16,155.98 L193.66,157.63 L194.16,159.36 L194.66,161.13 L195.16,162.90 L195.66,164.63 L196.16,166.30 L196.66,167.89 L197.16,169.38 L197.66,170.77 L198.16,172.05 L198.66,173.21 L199.16,174.26 L199.66,175.20 L200.16,176.04 L200.66,176.77 L201.16,177.42 L201.66,177.98 L202.16,178.47 L202.66,178.89 L203.16,179.25 L203.66,179.57 L204.16,179.84 L204.66,180.07 L205.16,180.27 L205.66,180.45 L206.16,180.61 L206.66,180.75 L207.16,180.87 L207.66,180.98 L208.16,181.08 L208.66,181.17 L209.16,181.25 L209.66,181.33 L210.16,181.40 L210.66,181.46 L211.16,181.53 L211.66,181.58 L212.16,181.64 L212.66,181.69 L213.16,181.74 L213.66,181.78 L214.16,181.82 L214.66,181.86 L215.16,181.90 L215.66,181.94 L216.16,181.97 L216.66,182.01 L217.16,182.04 L217.66,182.07 L218.16,182.10 L218.66,182.13 L219.16,182.15 L219.66,182.18 L220.16,182.20 L220.66,182.22 L221.16,182.25 L221.66,182.27 L222.16,182.29 L222.66,182.31 L223.16,182.33 L223.66,182.34 L224.16,182.36 L224.66,182.38 L225.16,182.39 L225.66,182.41 L226.16,182.42 L226.66,182.44 L227.16,182.45 L227.66,182.47 L228.16,182.48 L228.66,182.49 L229.16,182.50 L229.66,182.51 L230.16,182.53 L230.66,182.54 L231.16,182.55 L231.66,182.56 L232.16,182.57 L232.66,182.58 L233.16,182.59 L233.66,182.60 L234.16,182.60 L234.66,182.61 L235.16,182.62 L235.66,182.63 L236.16,182.64"/>
<path d="M24.66,193.34 L25.16,193.33 L25.66,193.32 L26.16,193.31 L26.66,193.30 L27.16,193.29 L27.66,193.27 L28.16,193.26 L28.66,193.25 L29.16,193.24 L29.66,193.22 L30.16,193.21 L30.66,193.20 L31.16,193.18 L31.66,193.17 L32.16,193.15 L32.66,193.14 L33.16,193.12 L33.66,193.11 L34.16,193.09 L34.66,193.07 L35.16,193.05 L35.66,193.03 L36.16,193.01 L36.66,192.99 L37.16,192.97 L37.66,192.95 L38.16,192.93 L38.66,192.90 L39.16,192.88 L39.66,192.85 L40.16,192.83 L40.66,192.80 L41.16,192.77 L41.66,192.74 L42.16,192.71 L42.66,192.68 L43.16,192.64 L43.66,192.61 L44.16,192.57 L44.66,192.53 L45.16,192.49 L45.66,192.45 L46.16,192.40 L46.66,192.36 L47.16,192.31 L47.66,192.25 L48.16,192.20 L48.66,192.14 L49.16,192.08 L49.66,192.02 L50.16,191.95 L50.66,191.87 L51.16,191.80 L51.66,191.71 L52.16,191.63 L52.66,191.53 L53.16,191.43 L53.66,191.32 L54.16,191.21 L54.66,191.08 L55.16,190.94 L55.66,190.79 L56.16,190.63 L56.66,190.45 L57.16,190.25 L57.66,190.03 L58.16,189.78 L58.66,189.51 L59.16,189.21 L59.66,188.88 L60.16,188.50 L60.66,188.09 L61.16,187.62 L61.66,187.11 L62.16,186.54 L62.66,185.91 L63.16,185.22 L63.66,184.47 L64.16,183.64 L64.66,182.75 L65.16,181.79 L65.66,180.77 L66.16,179.69 L66.66,178.58 L67.16,177.44 L67.66,176.32 L68.16,175.24 L68.66,174.25 L69.16,173.39 L69.66,172.70 L70.16,172.23 L70.66,171.98 L71.16,171.98 L71.66,172.19 L72.16,172.59 L72.66,173.12 L73.16,173.74 L73.66,174.40 L74.16,175.05 L74.66,175.67 L75.16,176.22 L75.66,176.68 L76.16,177.04 L76.66,177.30 L77.16,177.45 L77.66,177.49 L78.16,177.43 L78.66,177.28 L79.16,177.04 L79.66,176.73 L80.16,176.35 L80.66,175.94 L81.16,175.49 L81.66,175.05 L82.16,174.62 L82.66,174.23 L83.16,173.90 L83.66,173.66 L84.16,173.53 L84.66,173.52 L85.16,173.64 L85.66,173.92 L86.16,174.33 L86.66,174.89 L87.16,175.56 L87.66,176.33 L88.16,177.18 L88.66,178.09 L89.16,179.03 L89.66,179.99 L90.16,180.95 L90.66,181.91 L91.16,182.84 L91.66,183.74 L92.16,184.60 L92.66,185.41 L93.16,186.18 L93.66,186.90 L94.16,187.56 L94.66,188.17 L95.16,188.73 L95.66,189.23 L96.16,189.69 L96.66,190.10 L97.16,190.47 L97.66,190.80 L98.16,191.09 L98.66,191.35 L99.16,191.58 L99.66,191.78 L100.16,191.95 L100.66,192.11 L101.16,192.24 L101.66,192.36 L102.16,192.47 L102.66,192.57 L103.16,192.65 L103.66,192.73 L104.16,192.79 L104.66,192.86 L105.16,192.91 L105.66,192.96 L106.16,193.01 L106.66,193.05 L107.16,193.09 L107.66,193.13 L108.16,193.16 L108.66,193.19 L109.16,193.22 L109.66,193.25 L110.16,193.28 L110.66,193.30 L111.16,193.32 L111.66,193.34 L112.16,193.36 L112.66,193.38 L113.16,193.40 L113.66,193.42 L114.16,193.43 L114.66,193.45 L115.16,193.46 L115.66,193.47 L116.16,193.49 L116.66,193.50 L117.16,193.51 L117.66,193.52 L118.16,193.53 L118.66,193.53 L119.16,193.54 L119.66,193.55 L120.16,193.55 L120.66,193.56 L121.16,193.56 L121.66,193.57 L122.16,193.57 L122.66,193.57 L123.16,193.58 L123.66,193.58 L124.16,193.58 L124.66,193.58 L125.16,193.58 L125.66,193.58 L126.16,193.58 L126.66,193.58 L127.16,193.58 L127.66,193.58 L128.16,193.57 L128.66,193.57 L129.16,193.57 L129.66,193.56 L130.16,193.56 L130.66,193.55 L131.16,193.55 L131.66,193.54 L132.16,193.54 L132.66,193.53 L133.16,193.52 L133.66,193.51 L134.16,193.50 L134.66,193.50 L135.16,193.49 L135.66,193.47 L136.16,193.46 L136.66,193.45 L137.16,193.44 L137.66,193.43 L138.16,193.41 L138.66,193.40 L139.16,193.38 L139.66,193.37 L140.16,193.35 L140.66,193.33 L141.16,193.31 L141.66,193.30 L142.16,193.28 L142.66,193.25 L143.16,193.23 L143.66,193.21 L144.16,193.18 L144.66,193.16 L145.16,193.13 L145.66,193.10 L146.16,193.07 L146.66,193.04 L147.16,193.01 L147.66,192.98 L148.16,192.94 L148.66,192.90 L149.16,192.87 L149.66,192.82 L150.16,192.78 L150.66,192.73 L151.16,192.69 L151.66,192.64 L152.16,192.58 L152.66,192.53 L153.16,192.47 L153.66,192.40 L154.16,192.34 L154.66,192.27 L155.16,192.19 L155.66,192.11 L156.16,192.03 L156.66,191.94 L157.16,191.85 L157.66,191.74 L158.16,191.64 L158.66,191.52 L159.16,191.40 L159.66,191.26 L160.16,191.12 L160.66,190.96 L161.16,190.79 L161.66,190.61 L162.16,190.41 L162.66,190.18 L163.16,189.94 L163.66,189.67 L164.16,189.37 L164.66,189.03 L165.16,188.65 L165.66,188.23 L166.16,187.74 L166.66,187.19 L167.16,186.57 L167.66,185.87 L168.16,185.06 L168.66,184.15 L169.16,183.13 L169.66,181.97 L170.16,180.68 L170.66,179.25 L171.16,177.66 L171.66,175.93 L172.16,174.07 L172.66,172.08 L173.16,170.02 L173.66,167.93 L174.16,165.89 L174.66,164.01 L175.16,162.39 L175.66,161.17 L176.16,160.43 L176.66,160.22 L177.16,160.54 L177.66,161.34 L178.16,162.49 L178.66,163.88 L179.16,165.38 L179.66,166.87 L180.16,168.28 L180.66,169.53 L181.16,170.59 L181.66,171.43 L182.16,172.03 L182.66,172.38 L183.16,172.50 L183.66,172.38 L184.16,172.05 L184.66,171.52 L185.16,170.81 L185.66,169.96 L186.16,168.98 L186.66,167.93 L187.16,166.85 L187.66,165.77 L188.16,164.77 L188.66,163.89 L189.16,163.19 L189.66,162.73 L190.16,162.55 L190.66,162.68 L191.16,163.14 L191.66,163.94 L192.16,165.03 L192.66,166.36 L193.16,167.90 L193.66,169.56 L194.16,171.32 L194.66,173.11 L195.16,174.90 L195.66,176.65 L196.16,178.34 L196.66,179.95 L197.16,181.46 L197.66,182.87 L198.16,184.16 L198.66,185.34 L199.16,186.40 L199.66,187.36 L200.16,188.20 L200.66,188.95 L201.16,189.60 L201.66,190.17 L202.16,190.66 L202.66,191.09 L203.16,191.46 L203.66,191.77 L204.16,192.05 L204.66,192.28 L205.16,192.49 L205.66,192.67 L206.16,192.83 L206.66,192.97 L207.16,193.09 L207.66,193.20 L208.16,193.30 L208.66,193.40 L209.16,193.48 L209.66,193.56 L210.16,193.63 L210.66,193.70 L211.16,193.76 L211.66,193.82 L212.16,193.87 L212.66,193.92 L213.16,193.97 L213.66,194.02 L214.16,194.06 L214.66,194.10 L215.16,194.14 L215.66,194.18 L216.16,194.21 L216.66,194.24 L217.16,194.28 L217.66,194.31 L218.16,194.34 L218.66,194.36 L219.16,194.39 L219.66,194.42 L220.16,194.44 L220.66,194.46 L221.16,194.49 L221.66,194.51 L222.16,194.53 L222.66,194.55 L223.16,194.57 L223.66,194.58 L224.16,194.60 L224.66,194.62 L225.16,194.64 L225.66,194.65 L226.16,194.67 L226.66,194.68 L227.16,194.69 L227.66,194.71 L228.16,194.72 L228.66,194.73 L229.16,194.75 L229.66,194.76 L230.16,194.77 L230.66,194.78 L231.16,194.79 L231.66,194.80 L232.16,194.81 L232.66,194.82 L233.16,194.83 L233.66,194.84 L234.16,194.85 L234.66,194.86 L235.16,194.87 L235.66,194.87 L236.16,194.88"/>
<path d="M24.66,205.60 L25.16,205.59 L25.66,205.58 L26.16,205.57 L26.66,205.56 L27.16,205.55 L27.66,205.54 L28.16,205.52 L28.66,205.51 L29.16,205.50 L29.66,205.49 L30.16,205.47 L30.66,205.46 L31.16,205.45 L31.66,205.43 L32.16,205.42 L32.66,205.40 L33.16,205.39 L33.66,205.37 L34.16,205.35 L34.66,205.33 L35.16,205.32 L35.66,205.30 L36.16,205.28 L36.66,205.26 L37.16,205.24 L37.66,205.21 L38.16,205.19 L38.66,205.17 L39.16,205.14 L39.66,205.12 L40.16,205.09 L40.66,205.06 L41.16,205.04 L41.66,205.01 L42.16,204.97 L42.66,204.94 L43.16,204.91 L43.66,204.87 L44.16,204.84 L44.66,204.80 L45.16,204.76 L45.66,204.71 L46.16,204.67 L46.66,204.62 L47.16,204.57 L47.66,204.52 L48.16,204.46 L48.66,204.41 L49.16,204.34 L49.66,204.28 L50.16,204.21 L50.66,204.14 L51.16,204.06 L51.66,203.98 L52.16,203.89 L52.66,203.80 L53.16,203.69 L53.66,203.58 L54.16,203.47 L54.66,203.34 L55.16,203.20 L55.66,203.05 L56.16,202.88 L56.66,202.70 L57.16,202.50 L57.66,202.27 L58.16,202.03 L58.66,201.75 L59.16,201.45 L59.66,201.11 L60.16,200.73 L60.66,200.31 L61.16,199.84 L61.66,199.31 L62.16,198.74 L62.66,198.10 L63.16,197.39 L63.66,196.62 L64.16,195.78 L64.66,194.87 L65.16,193.90 L65.66,192.86 L66.16,191.76 L66.66,190.63 L67.16,189.48 L67.66,188.34 L68.16,187.24 L68.66,186.23 L69.16,185.36 L69.66,184.67 L70.16,184.20 L70.66,183.96 L71.16,183.97 L71.66,184.21 L72.16,184.63 L72.66,185.20 L73.16,185.85 L73.66,186.55 L74.16,187.25 L74.66,187.91 L75.16,188.51 L75.66,189.02 L76.16,189.43 L76.66,189.74 L77.16,189.94 L77.66,190.03 L78.16,190.03 L78.66,189.92 L79.16,189.74 L79.66,189.47 L80.16,189.15 L80.66,188.78 L81.16,188.39 L81.66,187.99 L82.16,187.60 L82.66,187.25 L83.16,186.95 L83.66,186.74 L84.16,186.63 L84.66,186.63 L85.16,186.76 L85.66,187.03 L86.16,187.43 L86.66,187.97 L87.16,188.61 L87.66,189.35 L88.16,190.17 L88.66,191.03 L89.16,191.94 L89.66,192.85 L90.16,193.77 L90.66,194.68 L91.16,195.57 L91.66,196.43 L92.16,197.25 L92.66,198.03 L93.16,198.76 L93.66,199.45 L94.16,200.08 L94.66,200.66 L95.16,201.20 L95.66,201.68 L96.16,202.12 L96.66,202.51 L97.16,202.86 L97.66,203.18 L98.16,203.46 L98.66,203.70 L99.16,203.92 L99.66,204.11 L100.16,204.28 L100.66,204.43 L101.16,204.56 L101.66,204.67 L102.16,204.78 L102.66,204.87 L103.16,204.95 L103.66,205.02 L104.16,205.09 L104.66,205.15 L105.16,205.20 L105.66,205.25 L106.16,205.29 L106.66,205.34 L107.16,205.37 L107.66,205.41 L108.16,205.44 L108.66,205.47 L109.16,205.50 L109.66,205.53 L110.16,205.55 L110.66,205.58 L111.16,205.60 L111.66,205.62 L112.16,205.64 L112.66,205.66 L113.16,205.67 L113.66,205.69 L114.16,205.71 L114.66,205.72 L115.16,205.73 L115.66,205.75 L116.16,205.76 L116.66,205.77 L117.16,205.78 L117.66,205.79 L118.16,205.79 L118.66,205.80 L119.16,205.81 L119.66,205.82 L120.16,205.82 L120.66,205.83 L121.16,205.83 L121.66,205.84 L122.16,205.84 L122.66,205.84 L123.16,205.84 L123.66,205.85 L124.16,205.85 L124.66,205.85 L125.16,205.85 L125.66,205.85 L126.16,205.85 L126.66,205.85 L127.16,205.85 L127.66,205.84 L128.16,205.84 L128.66,205.84 L129.16,205.83 L129.66,205.83 L130.16,205.83 L130.66,205.82 L131.16,205.82 L131.66,205.81 L132.16,205.80 L132.66,205.80 L133.16,205.79 L133.66,205.78 L134.16,205.77 L134.66,205.76 L135.16,205.75 L135.66,205.74 L136.16,205.73 L136.66,205.72 L137.16,205.71 L137.66,205.69 L138.16,205.68 L138.66,205.67 L139.16,205.65 L139.66,205.63 L140.16,205.62 L140.66,205.60 L141.16,205.58 L141.66,205.56 L142.16,205.54 L142.66,205.52 L143.16,205.50 L143.66,205.48 L144.16,205.45 L144.66,205.43 L145.16,205.40 L145.66,205.37 L146.16,205.34 L146.66,205.31 L147.16,205.28 L147.66,205.25 L148.16,205.21 L148.66,205.17 L149.16,205.13 L149.66,205.09 L150.16,205.05 L150.66,205.00 L151.16,204.96 L151.66,204.91 L152.16,204.85 L152.66,204.80 L153.16,204.74 L153.66,204.67 L154.16,204.61 L154.66,204.54 L155.16,204.46 L155.66,204.38 L156.16,204.30 L156.66,204.21 L157.16,204.11 L157.66,204.01 L158.16,203.90 L158.66,203.79 L159.16,203.66 L159.66,203.53 L160.16,203.38 L160.66,203.22 L161.16,203.05 L161.66,202.87 L162.16,202.66 L162.66,202.44 L163.16,202.19 L163.66,201.92 L164.16,201.61 L164.66,201.27 L165.16,200.89 L165.66,200.46 L166.16,199.97 L166.66,199.41 L167.16,198.78 L167.66,198.06 L168.16,197.24 L168.66,196.32 L169.16,195.27 L169.66,194.10 L170.16,192.78 L170.66,191.32 L171.16,189.71 L171.66,187.94 L172.16,186.04 L172.66,184.02 L173.16,181.92 L173.66,179.79 L174.16,177.72 L174.66,175.80 L175.16,174.16 L175.66,172.92 L176.16,172.18 L176.66,171.98 L177.16,172.33 L177.66,173.17 L178.16,174.37 L178.66,175.82 L179.16,177.38 L179.66,178.94 L180.16,180.42 L180.66,181.75 L181.16,182.89 L181.66,183.80 L182.16,184.48 L182.66,184.91 L183.16,185.11 L183.66,185.08 L184.16,184.84 L184.66,184.39 L185.16,183.77 L185.66,183.01 L186.16,182.12 L186.66,181.16 L187.16,180.16 L187.66,179.17 L188.16,178.24 L188.66,177.42 L189.16,176.78 L189.66,176.36 L190.16,176.20 L190.66,176.34 L191.16,176.79 L191.66,177.55 L192.16,178.60 L192.66,179.88 L193.16,181.35 L193.66,182.94 L194.16,184.62 L194.66,186.32 L195.16,188.03 L195.66,189.70 L196.16,191.32 L196.66,192.85 L197.16,194.30 L197.66,195.64 L198.16,196.87 L198.66,197.99 L199.16,199.01 L199.66,199.92 L200.16,200.72 L200.66,201.43 L201.16,202.06 L201.66,202.60 L202.16,203.07 L202.66,203.48 L203.16,203.83 L203.66,204.14 L204.16,204.40 L204.66,204.63 L205.16,204.82 L205.66,205.00 L206.16,205.15 L206.66,205.28 L207.16,205.40 L207.66,205.51 L208.16,205.61 L208.66,205.70 L209.16,205.78 L209.66,205.85 L210.16,205.92 L210.66,205.99 L211.16,206.05 L211.66,206.10 L212.16,206.15 L212.66,206.20 L213.16,206.25 L213.66,206.30 L214.16,206.34 L214.66,206.38 L215.16,206.41 L215.66,206.45 L216.16,206.49 L216.66,206.52 L217.16,206.55 L217.66,206.58 L218.16,206.61 L218.66,206.63 L219.16,206.66 L219.66,206.68 L220.16,206.71 L220.66,206.73 L221.16,206.75 L221.66,206.77 L222.16,206.79 L222.66,206.81 L223.16,206.83 L223.66,206.85 L224.16,206.87 L224.66,206.88 L225.16,206.90 L225.66,206.91 L226.16,206.93 L226.66,206.94 L227.16,206.96 L227.66,206.97 L228.16,206.98 L228.66,206.99 L229.16,207.01 L229.66,207.02 L230.16,207.03 L230.66,207.04 L231.16,207.05 L231.66,207.06 L232.16,207.07 L232.66,207.08 L233.16,207.09 L233.66,207.10 L234.16,207.11 L234.66,207.12 L235.16,207.12 L235.66,207.13 L236.16,207.14"/>
</g>
<text x="131.00" y="57.00" font-size="11.2" text-anchor="middle" fill="#000" >300 K</text>
<text x="131.00" y="69.25" font-size="11.2" text-anchor="middle" fill="#000" >290 K</text>
<text x="131.00" y="81.50" font-size="11.2" text-anchor="middle" fill="#000" >280 K</text>
<text x="131.00" y="93.75" font-size="11.2" text-anchor="middle" fill="#000" >275 K</text>
<text x="131.00" y="106.00" font-size="11.2" text-anchor="middle" fill="#000" >270 K</text>
<text x="131.00" y="118.25" font-size="11.2" text-anchor="middle" fill="#000" >265 K</text>
<text x="131.00" y="130.50" font-size="11.2" text-anchor="middle" fill="#000" >260 K</text>
<text x="131.00" y="142.75" font-size="11.2" text-anchor="middle" fill="#000" >255 K</text>
<text x="131.00" y="155.00" font-size="11.2" text-anchor="middle" fill="#000" >250 K</text>
<text x="131.00" y="167.25" font-size="11.2" text-anchor="middle" fill="#000" >200 K</text>
<text x="131.00" y="179.50" font-size="11.2" text-anchor="middle" fill="#000" >150 K</text>
<text x="131.00" y="191.75" font-size="11.2" text-anchor="middle" fill="#000" >100 K</text>
<text x="131.00" y="204.00" font-size="11.2" text-anchor="middle" fill="#000" >30 K</text>
<rect x="24.66" y="0.55" width="211.84" height="211.85" fill="none" stroke="#3a3a3a" stroke-width="1.0"/>
<text x="24.66" y="230.00" font-size="17.7" text-anchor="middle" fill="#000" >65</text>
<line x1="59.95" y1="212.4" x2="59.95" y2="207.4" stroke="#3a3a3a" stroke-width="1.0"/>
<text x="59.95" y="230.00" font-size="17.7" text-anchor="middle" fill="#000" >64</text>
<line x1="95.24" y1="212.4" x2="95.24" y2="207.4" stroke="#3a3a3a" stroke-width="1.0"/>
<text x="95.24" y="230.00" font-size="17.7" text-anchor="middle" fill="#000" >63</text>
<line x1="130.53" y1="212.4" x2="130.53" y2="207.4" stroke="#3a3a3a" stroke-width="1.0"/>
<text x="130.53" y="230.00" font-size="17.7" text-anchor="middle" fill="#000" >62</text>
<line x1="165.82" y1="212.4" x2="165.82" y2="207.4" stroke="#3a3a3a" stroke-width="1.0"/>
<text x="165.82" y="230.00" font-size="17.7" text-anchor="middle" fill="#000" >61</text>
<line x1="201.11" y1="212.4" x2="201.11" y2="207.4" stroke="#3a3a3a" stroke-width="1.0"/>
<text x="201.11" y="230.00" font-size="17.7" text-anchor="middle" fill="#000" >60</text>
<text x="236.40" y="230.00" font-size="17.7" text-anchor="middle" fill="#000" >59</text>
<text x="131.00" y="250.20" font-size="17.4" text-anchor="middle" fill="#000" >Binding Energy (eV)</text>
<text x="0.00" y="0.00" font-size="17.5" text-anchor="middle" fill="#000" transform="translate(12.3,106.6) rotate(-90)">Intensity (arb. units)</text>
<text x="42.00" y="28.20" font-size="14.6" text-anchor="start" fill="#000" >Ir 4<tspan font-style="italic">f</tspan><tspan font-size="10.5" dx="0.6" dy="4.3">5/2</tspan></text>
<text x="147.60" y="16.20" font-size="14.6" text-anchor="start" fill="#000" >Ir 4<tspan font-style="italic">f</tspan><tspan font-size="10.5" dx="0.6" dy="4.3">7/2</tspan></text>
<text x="212.50" y="20.50" font-size="17.4" text-anchor="start" fill="#000" >(a)</text>
<g fill="none" stroke="#d9262e" stroke-width="1.0" stroke-linejoin="round">
<path d="M305.30,42.55 L305.80,42.61 L306.30,42.70 L306.80,42.77 L307.30,42.81 L307.80,42.80 L308.30,42.75 L308.80,42.68 L309.30,42.59 L309.80,42.52 L310.30,42.49 L310.80,42.49 L311.30,42.51 L311.80,42.55 L312.30,42.58 L312.80,42.61 L313.30,42.62 L313.80,42.63 L314.30,42.64 L314.80,42.65 L315.30,42.67 L315.80,42.67 L316.30,42.64 L316.80,42.57 L317.30,42.47 L317.80,42.36 L318.30,42.27 L318.80,42.22 L319.30,42.22 L319.80,42.25 L320.30,42.29 L320.80,42.32 L321.30,42.33 L321.80,42.32 L322.30,42.29 L322.80,42.26 L323.30,42.25 L323.80,42.26 L324.30,42.31 L324.80,42.40 L325.30,42.53 L325.80,42.68 L326.30,42.83 L326.80,42.95 L327.30,43.02 L327.80,43.01 L328.30,42.94 L328.80,42.84 L329.30,42.73 L329.80,42.66 L330.30,42.64 L330.80,42.68 L331.30,42.75 L331.80,42.84 L332.30,42.90 L332.80,42.93 L333.30,42.94 L333.80,42.94 L334.30,42.94 L334.80,42.96 L335.30,43.00 L335.80,43.04 L336.30,43.10 L336.80,43.15 L337.30,43.19 L337.80,43.21 L338.30,43.20 L338.80,43.16 L339.30,43.10 L339.80,43.04 L340.30,42.98 L340.80,42.94 L341.30,42.92 L341.80,42.91 L342.30,42.90 L342.80,42.89 L343.30,42.85 L343.80,42.78 L344.30,42.70 L344.80,42.62 L345.30,42.57 L345.80,42.57 L346.30,42.62 L346.80,42.73 L347.30,42.87 L347.80,43.02 L348.30,43.17 L348.80,43.33 L349.30,43.49 L349.80,43.64 L350.30,43.79 L350.80,43.93 L351.30,44.06 L351.80,44.19 L352.30,44.33 L352.80,44.47 L353.30,44.63 L353.80,44.80 L354.30,44.99 L354.80,45.20 L355.30,45.43 L355.80,45.69 L356.30,45.96 L356.80,46.24 L357.30,46.51 L357.80,46.74 L358.30,46.91 L358.80,46.97 L359.30,46.88 L359.80,46.57 L360.30,46.01 L360.80,45.13 L361.30,43.91 L361.80,42.32 L362.30,40.37 L362.80,38.12 L363.30,35.65 L363.80,33.13 L364.30,30.79 L364.80,28.88 L365.30,27.64 L365.80,27.25 L366.30,27.75 L366.80,29.08 L367.30,31.04 L367.80,33.39 L368.30,35.87 L368.80,38.27 L369.30,40.43 L369.80,42.27 L370.30,43.76 L370.80,44.91 L371.30,45.76 L371.80,46.36 L372.30,46.73 L372.80,46.92 L373.30,46.95 L373.80,46.85 L374.30,46.67 L374.80,46.42 L375.30,46.13 L375.80,45.82 L376.30,45.50 L376.80,45.20 L377.30,44.92 L377.80,44.67 L378.30,44.45 L378.80,44.26 L379.30,44.11 L379.80,43.97 L380.30,43.84 L380.80,43.74 L381.30,43.64 L381.80,43.57 L382.30,43.51 L382.80,43.46 L383.30,43.41 L383.80,43.36 L384.30,43.30 L384.80,43.23 L385.30,43.16 L385.80,43.08 L386.30,42.99 L386.80,42.90 L387.30,42.81 L387.80,42.74 L388.30,42.71 L388.80,42.73 L389.30,42.79 L389.80,42.88 L390.30,42.97 L390.80,43.01 L391.30,43.00 L391.80,42.92 L392.30,42.81 L392.80,42.67 L393.30,42.57 L393.80,42.50 L394.30,42.48 L394.80,42.48 L395.30,42.50 L395.80,42.52 L396.30,42.56 L396.80,42.61 L397.30,42.68 L397.80,42.77 L398.30,42.85 L398.80,42.93 L399.30,42.97 L399.80,42.98 L400.30,42.96 L400.80,42.94 L401.30,42.94 L401.80,42.96 L402.30,43.00 L402.80,43.05 L403.30,43.09 L403.80,43.11 L404.30,43.11 L404.80,43.08 L405.30,43.06 L405.80,43.04 L406.30,43.04 L406.80,43.05 L407.30,43.07 L407.80,43.07 L408.30,43.06 L408.80,43.03 L409.30,42.98 L409.80,42.93 L410.30,42.87 L410.80,42.82 L411.30,42.79 L411.80,42.78 L412.30,42.78 L412.80,42.78 L413.30,42.78 L413.80,42.77 L414.30,42.77 L414.80,42.79 L415.30,42.84 L415.80,42.91 L416.30,42.99 L416.80,43.06 L417.30,43.11 L417.80,43.14 L418.30,43.12 L418.80,43.08 L419.30,43.03 L419.80,42.98 L420.30,42.98 L420.80,43.02 L421.30,43.11 L421.80,43.23 L422.30,43.35 L422.80,43.45 L423.30,43.51 L423.80,43.53 L424.30,43.50 L424.80,43.41 L425.30,43.28 L425.80,43.11 L426.30,42.94 L426.80,42.79 L427.30,42.68 L427.80,42.63 L428.30,42.63 L428.80,42.70 L429.30,42.80 L429.80,42.92 L430.30,43.02 L430.80,43.11 L431.30,43.16 L431.80,43.17 L432.30,43.16 L432.80,43.13 L433.30,43.08 L433.80,43.03 L434.30,42.98 L434.80,42.94 L435.30,42.93 L435.80,42.93 L436.30,42.96 L436.80,43.00 L437.30,43.03 L437.80,43.03 L438.30,43.01 L438.80,42.96 L439.30,42.90 L439.80,42.85 L440.30,42.84 L440.80,42.86 L441.30,42.93 L441.80,43.03 L442.30,43.14 L442.80,43.25 L443.30,43.34 L443.80,43.40 L444.30,43.42 L444.80,43.40 L445.30,43.35 L445.80,43.25 L446.30,43.14 L446.80,43.02 L447.30,42.91 L447.80,42.83 L448.30,42.81 L448.80,42.86 L449.30,42.95 L449.80,43.05 L450.30,43.15 L450.80,43.23 L451.30,43.29 L451.80,43.34 L452.30,43.39 L452.80,43.46 L453.30,43.55 L453.80,43.68 L454.30,43.83 L454.80,44.00 L455.30,44.18 L455.80,44.35 L456.30,44.49 L456.80,44.62 L457.30,44.74 L457.80,44.88 L458.30,45.07 L458.80,45.33 L459.30,45.67 L459.80,46.10 L460.30,46.61 L460.80,47.17 L461.30,47.74 L461.80,48.30 L462.30,48.84 L462.80,49.33 L463.30,49.78 L463.80,50.20 L464.30,50.53 L464.80,50.72 L465.30,50.69 L465.80,50.32 L466.30,49.50 L466.80,48.14 L467.30,46.12 L467.80,43.39 L468.30,39.92 L468.80,35.77 L469.30,31.09 L469.80,26.16 L470.30,21.39 L470.80,17.24 L471.30,14.23 L471.80,12.73 L472.30,12.94 L472.80,14.83 L473.30,18.12 L473.80,22.40 L474.30,27.19 L474.80,32.03 L475.30,36.56 L475.80,40.55 L476.30,43.86 L476.80,46.43 L477.30,48.30 L477.80,49.53 L478.30,50.24 L478.80,50.54 L479.30,50.54 L479.80,50.34 L480.30,50.03 L480.80,49.63 L481.30,49.19 L481.80,48.71 L482.30,48.22 L482.80,47.73 L483.30,47.27 L483.80,46.85 L484.30,46.48 L484.80,46.14 L485.30,45.84 L485.80,45.57 L486.30,45.30 L486.80,45.04 L487.30,44.80 L487.80,44.56 L488.30,44.33 L488.80,44.12 L489.30,43.91 L489.80,43.71 L490.30,43.51 L490.80,43.33 L491.30,43.18 L491.80,43.05 L492.30,42.96 L492.80,42.91 L493.30,42.87 L493.80,42.85 L494.30,42.84 L494.80,42.83 L495.30,42.82 L495.80,42.80 L496.30,42.78 L496.80,42.79 L497.30,42.84 L497.80,42.93 L498.30,43.04 L498.80,43.13 L499.30,43.20 L499.80,43.22 L500.30,43.21 L500.80,43.19 L501.30,43.16 L501.80,43.15 L502.30,43.15 L502.80,43.15 L503.30,43.15 L503.80,43.12 L504.30,43.08 L504.80,43.02 L505.30,42.96 L505.80,42.92 L506.30,42.92 L506.80,42.94 L507.30,43.00 L507.80,43.04 L508.30,43.06 L508.80,43.05 L509.30,43.02 L509.80,42.95 L510.30,42.87 L510.80,42.78 L511.30,42.69 L511.80,42.59 L512.30,42.52 L512.80,42.48 L513.30,42.49 L513.80,42.55 L514.30,42.65 L514.80,42.76 L515.30,42.85 L515.80,42.90 L516.30,42.90 L516.80,42.87"/>
<path d="M305.30,56.00 L305.80,56.01 L306.30,56.02 L306.80,56.00 L307.30,55.97 L307.80,55.93 L308.30,55.87 L308.80,55.79 L309.30,55.71 L309.80,55.64 L310.30,55.60 L310.80,55.59 L311.30,55.60 L311.80,55.62 L312.30,55.66 L312.80,55.69 L313.30,55.72 L313.80,55.75 L314.30,55.75 L314.80,55.73 L315.30,55.69 L315.80,55.63 L316.30,55.58 L316.80,55.55 L317.30,55.55 L317.80,55.58 L318.30,55.61 L318.80,55.65 L319.30,55.67 L319.80,55.68 L320.30,55.70 L320.80,55.72 L321.30,55.75 L321.80,55.78 L322.30,55.80 L322.80,55.81 L323.30,55.82 L323.80,55.82 L324.30,55.83 L324.80,55.84 L325.30,55.86 L325.80,55.89 L326.30,55.91 L326.80,55.92 L327.30,55.93 L327.80,55.93 L328.30,55.92 L328.80,55.90 L329.30,55.89 L329.80,55.87 L330.30,55.86 L330.80,55.85 L331.30,55.86 L331.80,55.86 L332.30,55.88 L332.80,55.89 L333.30,55.89 L333.80,55.88 L334.30,55.85 L334.80,55.81 L335.30,55.77 L335.80,55.74 L336.30,55.73 L336.80,55.74 L337.30,55.78 L337.80,55.81 L338.30,55.82 L338.80,55.81 L339.30,55.77 L339.80,55.73 L340.30,55.69 L340.80,55.68 L341.30,55.69 L341.80,55.72 L342.30,55.76 L342.80,55.82 L343.30,55.90 L343.80,55.99 L344.30,56.10 L344.80,56.20 L345.30,56.29 L345.80,56.36 L346.30,56.41 L346.80,56.45 L347.30,56.49 L347.80,56.54 L348.30,56.62 L348.80,56.71 L349.30,56.80 L349.80,56.89 L350.30,56.97 L350.80,57.03 L351.30,57.10 L351.80,57.18 L352.30,57.31 L352.80,57.45 L353.30,57.60 L353.80,57.74 L354.30,57.86 L354.80,57.98 L355.30,58.11 L355.80,58.27 L356.30,58.47 L356.80,58.71 L357.30,58.97 L357.80,59.20 L358.30,59.36 L358.80,59.42 L359.30,59.34 L359.80,59.08 L360.30,58.60 L360.80,57.85 L361.30,56.80 L361.80,55.38 L362.30,53.60 L362.80,51.49 L363.30,49.15 L363.80,46.74 L364.30,44.48 L364.80,42.61 L365.30,41.38 L365.80,40.97 L366.30,41.43 L366.80,42.68 L367.30,44.56 L367.80,46.83 L368.30,49.23 L368.80,51.55 L369.30,53.66 L369.80,55.46 L370.30,56.92 L370.80,58.05 L371.30,58.87 L371.80,59.41 L372.30,59.71 L372.80,59.85 L373.30,59.86 L373.80,59.81 L374.30,59.71 L374.80,59.58 L375.30,59.41 L375.80,59.20 L376.30,58.93 L376.80,58.63 L377.30,58.32 L377.80,58.04 L378.30,57.81 L378.80,57.63 L379.30,57.48 L379.80,57.36 L380.30,57.23 L380.80,57.11 L381.30,56.98 L381.80,56.84 L382.30,56.71 L382.80,56.60 L383.30,56.51 L383.80,56.44 L384.30,56.38 L384.80,56.34 L385.30,56.30 L385.80,56.27 L386.30,56.26 L386.80,56.27 L387.30,56.30 L387.80,56.35 L388.30,56.41 L388.80,56.46 L389.30,56.50 L389.80,56.51 L390.30,56.49 L390.80,56.42 L391.30,56.33 L391.80,56.25 L392.30,56.17 L392.80,56.10 L393.30,56.05 L393.80,56.01 L394.30,55.98 L394.80,55.95 L395.30,55.92 L395.80,55.89 L396.30,55.87 L396.80,55.86 L397.30,55.86 L397.80,55.86 L398.30,55.87 L398.80,55.87 L399.30,55.87 L399.80,55.85 L400.30,55.82 L400.80,55.78 L401.30,55.74 L401.80,55.68 L402.30,55.62 L402.80,55.56 L403.30,55.52 L403.80,55.51 L404.30,55.53 L404.80,55.59 L405.30,55.68 L405.80,55.79 L406.30,55.90 L406.80,56.01 L407.30,56.09 L407.80,56.13 L408.30,56.13 L408.80,56.09 L409.30,56.03 L409.80,55.97 L410.30,55.92 L410.80,55.89 L411.30,55.89 L411.80,55.92 L412.30,55.96 L412.80,56.00 L413.30,56.02 L413.80,56.03 L414.30,56.02 L414.80,56.03 L415.30,56.06 L415.80,56.13 L416.30,56.22 L416.80,56.33 L417.30,56.40 L417.80,56.43 L418.30,56.40 L418.80,56.31 L419.30,56.18 L419.80,56.02 L420.30,55.86 L420.80,55.71 L421.30,55.60 L421.80,55.54 L422.30,55.52 L422.80,55.56 L423.30,55.61 L423.80,55.66 L424.30,55.68 L424.80,55.69 L425.30,55.67 L425.80,55.65 L426.30,55.61 L426.80,55.59 L427.30,55.57 L427.80,55.55 L428.30,55.55 L428.80,55.55 L429.30,55.56 L429.80,55.56 L430.30,55.56 L430.80,55.56 L431.30,55.57 L431.80,55.61 L432.30,55.67 L432.80,55.75 L433.30,55.84 L433.80,55.92 L434.30,55.99 L434.80,56.04 L435.30,56.07 L435.80,56.08 L436.30,56.08 L436.80,56.07 L437.30,56.05 L437.80,56.03 L438.30,56.01 L438.80,56.00 L439.30,55.99 L439.80,55.99 L440.30,55.99 L440.80,56.00 L441.30,56.02 L441.80,56.03 L442.30,56.04 L442.80,56.02 L443.30,55.99 L443.80,55.95 L444.30,55.90 L444.80,55.86 L445.30,55.83 L445.80,55.81 L446.30,55.81 L446.80,55.84 L447.30,55.88 L447.80,55.96 L448.30,56.07 L448.80,56.17 L449.30,56.27 L449.80,56.36 L450.30,56.43 L450.80,56.47 L451.30,56.50 L451.80,56.52 L452.30,56.53 L452.80,56.56 L453.30,56.60 L453.80,56.68 L454.30,56.80 L454.80,56.96 L455.30,57.15 L455.80,57.35 L456.30,57.55 L456.80,57.75 L457.30,57.94 L457.80,58.14 L458.30,58.34 L458.80,58.59 L459.30,58.89 L459.80,59.23 L460.30,59.61 L460.80,60.05 L461.30,60.54 L461.80,61.08 L462.30,61.64 L462.80,62.20 L463.30,62.72 L463.80,63.15 L464.30,63.46 L464.80,63.58 L465.30,63.48 L465.80,63.08 L466.30,62.29 L466.80,61.01 L467.30,59.13 L467.80,56.56 L468.30,53.26 L468.80,49.29 L469.30,44.79 L469.80,40.04 L470.30,35.43 L470.80,31.44 L471.30,28.52 L471.80,27.05 L472.30,27.23 L472.80,29.03 L473.30,32.20 L473.80,36.35 L474.30,41.01 L474.80,45.72 L475.30,50.11 L475.80,53.95 L476.30,57.10 L476.80,59.54 L477.30,61.31 L477.80,62.49 L478.30,63.18 L478.80,63.46 L479.30,63.45 L479.80,63.23 L480.30,62.86 L480.80,62.41 L481.30,61.92 L481.80,61.42 L482.30,60.94 L482.80,60.47 L483.30,60.02 L483.80,59.59 L484.30,59.18 L484.80,58.79 L485.30,58.45 L485.80,58.16 L486.30,57.92 L486.80,57.72 L487.30,57.55 L487.80,57.38 L488.30,57.21 L488.80,57.04 L489.30,56.89 L489.80,56.74 L490.30,56.61 L490.80,56.48 L491.30,56.35 L491.80,56.24 L492.30,56.14 L492.80,56.09 L493.30,56.08 L493.80,56.10 L494.30,56.15 L494.80,56.20 L495.30,56.25 L495.80,56.28 L496.30,56.30 L496.80,56.31 L497.30,56.30 L497.80,56.27 L498.30,56.24 L498.80,56.22 L499.30,56.22 L499.80,56.24 L500.30,56.27 L500.80,56.29 L501.30,56.29 L501.80,56.26 L502.30,56.20 L502.80,56.11 L503.30,56.01 L503.80,55.94 L504.30,55.88 L504.80,55.84 L505.30,55.80 L505.80,55.78 L506.30,55.75 L506.80,55.73 L507.30,55.71 L507.80,55.69 L508.30,55.67 L508.80,55.67 L509.30,55.68 L509.80,55.72 L510.30,55.78 L510.80,55.85 L511.30,55.91 L511.80,55.94 L512.30,55.92 L512.80,55.88 L513.30,55.82 L513.80,55.77 L514.30,55.75 L514.80,55.75 L515.30,55.77 L515.80,55.79 L516.30,55.80 L516.80,55.79"/>
<path d="M305.30,68.94 L305.80,68.93 L306.30,68.91 L306.80,68.89 L307.30,68.88 L307.80,68.88 L308.30,68.88 L308.80,68.89 L309.30,68.92 L309.80,68.95 L310.30,69.00 L310.80,69.06 L311.30,69.12 L311.80,69.18 L312.30,69.23 L312.80,69.26 L313.30,69.24 L313.80,69.20 L314.30,69.14 L314.80,69.06 L315.30,68.97 L315.80,68.90 L316.30,68.85 L316.80,68.85 L317.30,68.88 L317.80,68.96 L318.30,69.06 L318.80,69.16 L319.30,69.24 L319.80,69.28 L320.30,69.29 L320.80,69.27 L321.30,69.23 L321.80,69.17 L322.30,69.09 L322.80,69.00 L323.30,68.91 L323.80,68.82 L324.30,68.77 L324.80,68.78 L325.30,68.82 L325.80,68.89 L326.30,68.95 L326.80,68.99 L327.30,68.98 L327.80,68.94 L328.30,68.89 L328.80,68.83 L329.30,68.78 L329.80,68.75 L330.30,68.75 L330.80,68.76 L331.30,68.78 L331.80,68.81 L332.30,68.84 L332.80,68.87 L333.30,68.90 L333.80,68.94 L334.30,68.97 L334.80,69.01 L335.30,69.05 L335.80,69.09 L336.30,69.13 L336.80,69.18 L337.30,69.23 L337.80,69.29 L338.30,69.36 L338.80,69.42 L339.30,69.47 L339.80,69.49 L340.30,69.48 L340.80,69.44 L341.30,69.37 L341.80,69.29 L342.30,69.20 L342.80,69.12 L343.30,69.05 L343.80,68.98 L344.30,68.95 L344.80,68.95 L345.30,68.98 L345.80,69.06 L346.30,69.16 L346.80,69.27 L347.30,69.38 L347.80,69.47 L348.30,69.54 L348.80,69.59 L349.30,69.63 L349.80,69.66 L350.30,69.69 L350.80,69.73 L351.30,69.79 L351.80,69.87 L352.30,69.98 L352.80,70.11 L353.30,70.28 L353.80,70.47 L354.30,70.69 L354.80,70.93 L355.30,71.21 L355.80,71.52 L356.30,71.84 L356.80,72.15 L357.30,72.43 L357.80,72.68 L358.30,72.83 L358.80,72.89 L359.30,72.79 L359.80,72.49 L360.30,71.93 L360.80,71.07 L361.30,69.87 L361.80,68.34 L362.30,66.49 L362.80,64.40 L363.30,62.17 L363.80,59.95 L364.30,57.91 L364.80,56.24 L365.30,55.15 L365.80,54.78 L366.30,55.18 L366.80,56.34 L367.30,58.10 L367.80,60.26 L368.30,62.57 L368.80,64.83 L369.30,66.88 L369.80,68.62 L370.30,70.03 L370.80,71.10 L371.30,71.88 L371.80,72.41 L372.30,72.73 L372.80,72.89 L373.30,72.91 L373.80,72.84 L374.30,72.70 L374.80,72.51 L375.30,72.30 L375.80,72.09 L376.30,71.88 L376.80,71.67 L377.30,71.45 L377.80,71.23 L378.30,71.00 L378.80,70.77 L379.30,70.52 L379.80,70.28 L380.30,70.04 L380.80,69.82 L381.30,69.63 L381.80,69.49 L382.30,69.38 L382.80,69.30 L383.30,69.25 L383.80,69.20 L384.30,69.15 L384.80,69.12 L385.30,69.08 L385.80,69.05 L386.30,69.03 L386.80,69.02 L387.30,69.01 L387.80,69.01 L388.30,69.01 L388.80,69.00 L389.30,68.97 L389.80,68.93 L390.30,68.86 L390.80,68.77 L391.30,68.67 L391.80,68.59 L392.30,68.54 L392.80,68.53 L393.30,68.56 L393.80,68.62 L394.30,68.69 L394.80,68.76 L395.30,68.81 L395.80,68.84 L396.30,68.86 L396.80,68.87 L397.30,68.89 L397.80,68.92 L398.30,68.95 L398.80,68.98 L399.30,68.99 L399.80,68.96 L400.30,68.91 L400.80,68.84 L401.30,68.77 L401.80,68.73 L402.30,68.71 L402.80,68.72 L403.30,68.74 L403.80,68.76 L404.30,68.75 L404.80,68.72 L405.30,68.66 L405.80,68.59 L406.30,68.54 L406.80,68.52 L407.30,68.52 L407.80,68.55 L408.30,68.58 L408.80,68.62 L409.30,68.66 L409.80,68.70 L410.30,68.74 L410.80,68.80 L411.30,68.84 L411.80,68.89 L412.30,68.91 L412.80,68.91 L413.30,68.89 L413.80,68.86 L414.30,68.84 L414.80,68.82 L415.30,68.83 L415.80,68.86 L416.30,68.90 L416.80,68.94 L417.30,68.98 L417.80,68.99 L418.30,68.99 L418.80,68.99 L419.30,69.01 L419.80,69.03 L420.30,69.05 L420.80,69.06 L421.30,69.05 L421.80,69.02 L422.30,68.98 L422.80,68.94 L423.30,68.92 L423.80,68.89 L424.30,68.86 L424.80,68.81 L425.30,68.74 L425.80,68.67 L426.30,68.59 L426.80,68.53 L427.30,68.49 L427.80,68.47 L428.30,68.47 L428.80,68.48 L429.30,68.50 L429.80,68.53 L430.30,68.55 L430.80,68.57 L431.30,68.57 L431.80,68.57 L432.30,68.58 L432.80,68.59 L433.30,68.61 L433.80,68.65 L434.30,68.70 L434.80,68.75 L435.30,68.79 L435.80,68.82 L436.30,68.84 L436.80,68.83 L437.30,68.80 L437.80,68.76 L438.30,68.73 L438.80,68.71 L439.30,68.72 L439.80,68.76 L440.30,68.82 L440.80,68.90 L441.30,69.00 L441.80,69.10 L442.30,69.20 L442.80,69.30 L443.30,69.36 L443.80,69.38 L444.30,69.37 L444.80,69.33 L445.30,69.29 L445.80,69.27 L446.30,69.27 L446.80,69.28 L447.30,69.29 L447.80,69.29 L448.30,69.27 L448.80,69.25 L449.30,69.24 L449.80,69.24 L450.30,69.27 L450.80,69.33 L451.30,69.40 L451.80,69.48 L452.30,69.57 L452.80,69.64 L453.30,69.71 L453.80,69.78 L454.30,69.86 L454.80,69.93 L455.30,70.01 L455.80,70.09 L456.30,70.18 L456.80,70.28 L457.30,70.42 L457.80,70.60 L458.30,70.84 L458.80,71.15 L459.30,71.53 L459.80,71.97 L460.30,72.47 L460.80,73.03 L461.30,73.62 L461.80,74.22 L462.30,74.80 L462.80,75.34 L463.30,75.83 L463.80,76.23 L464.30,76.53 L464.80,76.65 L465.30,76.54 L465.80,76.09 L466.30,75.22 L466.80,73.85 L467.30,71.91 L467.80,69.33 L468.30,66.12 L468.80,62.31 L469.30,58.05 L469.80,53.58 L470.30,49.24 L470.80,45.48 L471.30,42.73 L471.80,41.34 L472.30,41.51 L472.80,43.21 L473.30,46.21 L473.80,50.13 L474.30,54.52 L474.80,58.97 L475.30,63.16 L475.80,66.84 L476.30,69.92 L476.80,72.34 L477.30,74.13 L477.80,75.35 L478.30,76.07 L478.80,76.39 L479.30,76.40 L479.80,76.21 L480.30,75.89 L480.80,75.49 L481.30,75.06 L481.80,74.61 L482.30,74.15 L482.80,73.68 L483.30,73.22 L483.80,72.78 L484.30,72.35 L484.80,71.95 L485.30,71.57 L485.80,71.22 L486.30,70.92 L486.80,70.67 L487.30,70.49 L487.80,70.37 L488.30,70.28 L488.80,70.22 L489.30,70.16 L489.80,70.11 L490.30,70.05 L490.80,70.00 L491.30,69.94 L491.80,69.86 L492.30,69.77 L492.80,69.65 L493.30,69.49 L493.80,69.33 L494.30,69.16 L494.80,69.04 L495.30,68.96 L495.80,68.92 L496.30,68.91 L496.80,68.90 L497.30,68.88 L497.80,68.83 L498.30,68.75 L498.80,68.66 L499.30,68.56 L499.80,68.48 L500.30,68.44 L500.80,68.45 L501.30,68.49 L501.80,68.53 L502.30,68.56 L502.80,68.56 L503.30,68.53 L503.80,68.51 L504.30,68.51 L504.80,68.56 L505.30,68.64 L505.80,68.74 L506.30,68.83 L506.80,68.89 L507.30,68.91 L507.80,68.89 L508.30,68.82 L508.80,68.73 L509.30,68.65 L509.80,68.59 L510.30,68.58 L510.80,68.63 L511.30,68.73 L511.80,68.84 L512.30,68.94 L512.80,69.02 L513.30,69.06 L513.80,69.08 L514.30,69.10 L514.80,69.11 L515.30,69.12 L515.80,69.12 L516.30,69.09 L516.80,69.03"/>
<path d="M305.30,81.95 L305.80,81.96 L306.30,81.94 L306.80,81.90 L307.30,81.84 L307.80,81.76 L308.30,81.69 L308.80,81.65 L309.30,81.66 L309.80,81.72 L310.30,81.84 L310.80,81.99 L311.30,82.15 L311.80,82.30 L312.30,82.41 L312.80,82.47 L313.30,82.46 L313.80,82.40 L314.30,82.31 L314.80,82.20 L315.30,82.10 L315.80,82.02 L316.30,81.97 L316.80,81.93 L317.30,81.93 L317.80,81.94 L318.30,81.99 L318.80,82.05 L319.30,82.12 L319.80,82.19 L320.30,82.24 L320.80,82.26 L321.30,82.24 L321.80,82.20 L322.30,82.14 L322.80,82.09 L323.30,82.06 L323.80,82.04 L324.30,82.02 L324.80,81.99 L325.30,81.93 L325.80,81.84 L326.30,81.72 L326.80,81.59 L327.30,81.49 L327.80,81.43 L328.30,81.43 L328.80,81.45 L329.30,81.50 L329.80,81.54 L330.30,81.56 L330.80,81.57 L331.30,81.58 L331.80,81.61 L332.30,81.66 L332.80,81.74 L333.30,81.82 L333.80,81.90 L334.30,81.95 L334.80,81.99 L335.30,82.01 L335.80,82.03 L336.30,82.06 L336.80,82.10 L337.30,82.15 L337.80,82.19 L338.30,82.23 L338.80,82.26 L339.30,82.27 L339.80,82.27 L340.30,82.26 L340.80,82.25 L341.30,82.25 L341.80,82.27 L342.30,82.30 L342.80,82.35 L343.30,82.42 L343.80,82.48 L344.30,82.55 L344.80,82.61 L345.30,82.64 L345.80,82.64 L346.30,82.60 L346.80,82.52 L347.30,82.40 L347.80,82.25 L348.30,82.09 L348.80,81.94 L349.30,81.80 L349.80,81.70 L350.30,81.63 L350.80,81.61 L351.30,81.64 L351.80,81.74 L352.30,81.94 L352.80,82.24 L353.30,82.64 L353.80,83.12 L354.30,83.63 L354.80,84.12 L355.30,84.57 L355.80,84.97 L356.30,85.31 L356.80,85.61 L357.30,85.88 L357.80,86.11 L358.30,86.28 L358.80,86.35 L359.30,86.27 L359.80,85.99 L360.30,85.45 L360.80,84.62 L361.30,83.47 L361.80,82.00 L362.30,80.21 L362.80,78.17 L363.30,75.96 L363.80,73.71 L364.30,71.63 L364.80,69.92 L365.30,68.80 L365.80,68.40 L366.30,68.77 L366.80,69.87 L367.30,71.53 L367.80,73.58 L368.30,75.78 L368.80,77.96 L369.30,79.96 L369.80,81.67 L370.30,83.05 L370.80,84.10 L371.30,84.86 L371.80,85.37 L372.30,85.69 L372.80,85.86 L373.30,85.92 L373.80,85.88 L374.30,85.78 L374.80,85.64 L375.30,85.46 L375.80,85.28 L376.30,85.10 L376.80,84.90 L377.30,84.69 L377.80,84.45 L378.30,84.20 L378.80,83.93 L379.30,83.65 L379.80,83.36 L380.30,83.10 L380.80,82.88 L381.30,82.70 L381.80,82.57 L382.30,82.49 L382.80,82.42 L383.30,82.36 L383.80,82.29 L384.30,82.19 L384.80,82.10 L385.30,82.02 L385.80,81.96 L386.30,81.95 L386.80,81.97 L387.30,82.01 L387.80,82.05 L388.30,82.06 L388.80,82.03 L389.30,81.98 L389.80,81.92 L390.30,81.86 L390.80,81.84 L391.30,81.86 L391.80,81.91 L392.30,81.97 L392.80,82.02 L393.30,82.05 L393.80,82.07 L394.30,82.09 L394.80,82.11 L395.30,82.12 L395.80,82.12 L396.30,82.12 L396.80,82.10 L397.30,82.07 L397.80,82.03 L398.30,81.98 L398.80,81.93 L399.30,81.88 L399.80,81.84 L400.30,81.82 L400.80,81.84 L401.30,81.87 L401.80,81.91 L402.30,81.94 L402.80,81.97 L403.30,81.97 L403.80,81.96 L404.30,81.94 L404.80,81.93 L405.30,81.94 L405.80,81.97 L406.30,82.02 L406.80,82.09 L407.30,82.15 L407.80,82.21 L408.30,82.23 L408.80,82.23 L409.30,82.21 L409.80,82.17 L410.30,82.13 L410.80,82.09 L411.30,82.05 L411.80,82.01 L412.30,81.96 L412.80,81.91 L413.30,81.87 L413.80,81.84 L414.30,81.83 L414.80,81.82 L415.30,81.80 L415.80,81.77 L416.30,81.72 L416.80,81.67 L417.30,81.64 L417.80,81.66 L418.30,81.71 L418.80,81.80 L419.30,81.91 L419.80,82.00 L420.30,82.07 L420.80,82.12 L421.30,82.13 L421.80,82.12 L422.30,82.11 L422.80,82.10 L423.30,82.10 L423.80,82.11 L424.30,82.13 L424.80,82.16 L425.30,82.19 L425.80,82.21 L426.30,82.23 L426.80,82.24 L427.30,82.24 L427.80,82.21 L428.30,82.16 L428.80,82.08 L429.30,81.98 L429.80,81.89 L430.30,81.83 L430.80,81.80 L431.30,81.81 L431.80,81.87 L432.30,81.95 L432.80,82.03 L433.30,82.07 L433.80,82.08 L434.30,82.05 L434.80,82.00 L435.30,81.97 L435.80,81.96 L436.30,81.97 L436.80,82.01 L437.30,82.06 L437.80,82.11 L438.30,82.15 L438.80,82.17 L439.30,82.18 L439.80,82.16 L440.30,82.15 L440.80,82.13 L441.30,82.12 L441.80,82.14 L442.30,82.17 L442.80,82.22 L443.30,82.29 L443.80,82.38 L444.30,82.47 L444.80,82.56 L445.30,82.65 L445.80,82.73 L446.30,82.80 L446.80,82.86 L447.30,82.91 L447.80,82.94 L448.30,82.98 L448.80,83.01 L449.30,83.07 L449.80,83.13 L450.30,83.19 L450.80,83.24 L451.30,83.24 L451.80,83.18 L452.30,83.06 L452.80,82.88 L453.30,82.66 L453.80,82.41 L454.30,82.15 L454.80,81.89 L455.30,81.67 L455.80,81.49 L456.30,81.41 L456.80,81.47 L457.30,81.68 L457.80,82.06 L458.30,82.59 L458.80,83.23 L459.30,83.92 L459.80,84.65 L460.30,85.38 L460.80,86.11 L461.30,86.84 L461.80,87.55 L462.30,88.23 L462.80,88.85 L463.30,89.36 L463.80,89.73 L464.30,89.95 L464.80,89.97 L465.30,89.75 L465.80,89.22 L466.30,88.33 L466.80,86.97 L467.30,85.08 L467.80,82.61 L468.30,79.53 L468.80,75.89 L469.30,71.82 L469.80,67.57 L470.30,63.46 L470.80,59.90 L471.30,57.29 L471.80,55.97 L472.30,56.09 L472.80,57.65 L473.30,60.44 L473.80,64.14 L474.30,68.32 L474.80,72.59 L475.30,76.64 L475.80,80.20 L476.30,83.15 L476.80,85.45 L477.30,87.12 L477.80,88.24 L478.30,88.88 L478.80,89.14 L479.30,89.12 L479.80,88.90 L480.30,88.57 L480.80,88.16 L481.30,87.71 L481.80,87.24 L482.30,86.74 L482.80,86.25 L483.30,85.75 L483.80,85.28 L484.30,84.86 L484.80,84.48 L485.30,84.16 L485.80,83.90 L486.30,83.69 L486.80,83.52 L487.30,83.39 L487.80,83.27 L488.30,83.17 L488.80,83.08 L489.30,82.99 L489.80,82.90 L490.30,82.81 L490.80,82.71 L491.30,82.61 L491.80,82.50 L492.30,82.40 L492.80,82.31 L493.30,82.23 L493.80,82.17 L494.30,82.13 L494.80,82.10 L495.30,82.09 L495.80,82.09 L496.30,82.09 L496.80,82.09 L497.30,82.08 L497.80,82.06 L498.30,82.02 L498.80,81.96 L499.30,81.90 L499.80,81.83 L500.30,81.76 L500.80,81.72 L501.30,81.70 L501.80,81.70 L502.30,81.72 L502.80,81.76 L503.30,81.81 L503.80,81.85 L504.30,81.89 L504.80,81.93 L505.30,81.96 L505.80,81.97 L506.30,81.96 L506.80,81.91 L507.30,81.84 L507.80,81.74 L508.30,81.66 L508.80,81.59 L509.30,81.58 L509.80,81.61 L510.30,81.68 L510.80,81.77 L511.30,81.88 L511.80,82.01 L512.30,82.12 L512.80,82.22 L513.30,82.29 L513.80,82.32 L514.30,82.29 L514.80,82.22 L515.30,82.12 L515.80,82.00 L516.30,81.90 L516.80,81.82"/>
<path d="M305.30,94.71 L305.80,94.80 L306.30,94.90 L306.80,95.00 L307.30,95.07 L307.80,95.12 L308.30,95.14 L308.80,95.13 L309.30,95.13 L309.80,95.12 L310.30,95.11 L310.80,95.09 L311.30,95.04 L311.80,94.98 L312.30,94.89 L312.80,94.79 L313.30,94.69 L313.80,94.61 L314.30,94.54 L314.80,94.50 L315.30,94.50 L315.80,94.53 L316.30,94.58 L316.80,94.65 L317.30,94.71 L317.80,94.76 L318.30,94.77 L318.80,94.77 L319.30,94.74 L319.80,94.72 L320.30,94.71 L320.80,94.72 L321.30,94.76 L321.80,94.82 L322.30,94.87 L322.80,94.90 L323.30,94.90 L323.80,94.88 L324.30,94.86 L324.80,94.85 L325.30,94.87 L325.80,94.92 L326.30,94.98 L326.80,95.04 L327.30,95.08 L327.80,95.11 L328.30,95.12 L328.80,95.11 L329.30,95.10 L329.80,95.08 L330.30,95.04 L330.80,94.99 L331.30,94.93 L331.80,94.86 L332.30,94.81 L332.80,94.79 L333.30,94.80 L333.80,94.83 L334.30,94.87 L334.80,94.92 L335.30,94.97 L335.80,95.03 L336.30,95.09 L336.80,95.16 L337.30,95.23 L337.80,95.27 L338.30,95.30 L338.80,95.32 L339.30,95.35 L339.80,95.39 L340.30,95.45 L340.80,95.53 L341.30,95.61 L341.80,95.70 L342.30,95.80 L342.80,95.89 L343.30,95.98 L343.80,96.06 L344.30,96.11 L344.80,96.13 L345.30,96.10 L345.80,96.01 L346.30,95.86 L346.80,95.64 L347.30,95.36 L347.80,95.05 L348.30,94.71 L348.80,94.38 L349.30,94.08 L349.80,93.84 L350.30,93.70 L350.80,93.68 L351.30,93.80 L351.80,94.06 L352.30,94.44 L352.80,94.92 L353.30,95.47 L353.80,96.05 L354.30,96.65 L354.80,97.23 L355.30,97.79 L355.80,98.29 L356.30,98.73 L356.80,99.11 L357.30,99.40 L357.80,99.61 L358.30,99.71 L358.80,99.69 L359.30,99.50 L359.80,99.10 L360.30,98.46 L360.80,97.55 L361.30,96.37 L361.80,94.92 L362.30,93.23 L362.80,91.34 L363.30,89.32 L363.80,87.30 L364.30,85.42 L364.80,83.87 L365.30,82.83 L365.80,82.43 L366.30,82.74 L366.80,83.72 L367.30,85.24 L367.80,87.12 L368.30,89.18 L368.80,91.24 L369.30,93.16 L369.80,94.84 L370.30,96.24 L370.80,97.33 L371.30,98.12 L371.80,98.64 L372.30,98.92 L372.80,99.02 L373.30,98.97 L373.80,98.81 L374.30,98.59 L374.80,98.31 L375.30,98.01 L375.80,97.69 L376.30,97.37 L376.80,97.07 L377.30,96.79 L377.80,96.55 L378.30,96.35 L378.80,96.17 L379.30,96.02 L379.80,95.88 L380.30,95.76 L380.80,95.66 L381.30,95.59 L381.80,95.57 L382.30,95.59 L382.80,95.62 L383.30,95.67 L383.80,95.70 L384.30,95.71 L384.80,95.68 L385.30,95.61 L385.80,95.50 L386.30,95.38 L386.80,95.27 L387.30,95.21 L387.80,95.19 L388.30,95.21 L388.80,95.26 L389.30,95.31 L389.80,95.34 L390.30,95.35 L390.80,95.35 L391.30,95.34 L391.80,95.33 L392.30,95.30 L392.80,95.26 L393.30,95.20 L393.80,95.12 L394.30,95.06 L394.80,95.00 L395.30,94.97 L395.80,94.95 L396.30,94.96 L396.80,94.97 L397.30,94.98 L397.80,94.96 L398.30,94.92 L398.80,94.87 L399.30,94.82 L399.80,94.78 L400.30,94.76 L400.80,94.76 L401.30,94.76 L401.80,94.76 L402.30,94.77 L402.80,94.76 L403.30,94.76 L403.80,94.74 L404.30,94.71 L404.80,94.68 L405.30,94.66 L405.80,94.68 L406.30,94.74 L406.80,94.82 L407.30,94.89 L407.80,94.95 L408.30,94.96 L408.80,94.94 L409.30,94.89 L409.80,94.82 L410.30,94.75 L410.80,94.72 L411.30,94.74 L411.80,94.80 L412.30,94.90 L412.80,95.00 L413.30,95.09 L413.80,95.16 L414.30,95.20 L414.80,95.20 L415.30,95.19 L415.80,95.14 L416.30,95.07 L416.80,94.98 L417.30,94.88 L417.80,94.79 L418.30,94.73 L418.80,94.71 L419.30,94.72 L419.80,94.78 L420.30,94.88 L420.80,95.00 L421.30,95.14 L421.80,95.27 L422.30,95.38 L422.80,95.47 L423.30,95.54 L423.80,95.57 L424.30,95.57 L424.80,95.54 L425.30,95.50 L425.80,95.45 L426.30,95.41 L426.80,95.37 L427.30,95.31 L427.80,95.25 L428.30,95.19 L428.80,95.14 L429.30,95.11 L429.80,95.13 L430.30,95.19 L430.80,95.25 L431.30,95.29 L431.80,95.30 L432.30,95.27 L432.80,95.22 L433.30,95.16 L433.80,95.12 L434.30,95.09 L434.80,95.07 L435.30,95.04 L435.80,95.01 L436.30,94.96 L436.80,94.92 L437.30,94.88 L437.80,94.85 L438.30,94.83 L438.80,94.83 L439.30,94.83 L439.80,94.85 L440.30,94.86 L440.80,94.87 L441.30,94.87 L441.80,94.86 L442.30,94.87 L442.80,94.90 L443.30,94.97 L443.80,95.08 L444.30,95.23 L444.80,95.41 L445.30,95.59 L445.80,95.77 L446.30,95.94 L446.80,96.08 L447.30,96.20 L447.80,96.28 L448.30,96.32 L448.80,96.32 L449.30,96.27 L449.80,96.21 L450.30,96.12 L450.80,96.04 L451.30,95.94 L451.80,95.81 L452.30,95.63 L452.80,95.37 L453.30,95.02 L453.80,94.59 L454.30,94.09 L454.80,93.61 L455.30,93.18 L455.80,92.89 L456.30,92.76 L456.80,92.83 L457.30,93.10 L457.80,93.57 L458.30,94.22 L458.80,95.01 L459.30,95.93 L459.80,96.92 L460.30,97.94 L460.80,98.94 L461.30,99.90 L461.80,100.79 L462.30,101.59 L462.80,102.31 L463.30,102.90 L463.80,103.37 L464.30,103.67 L464.80,103.75 L465.30,103.56 L465.80,103.02 L466.30,102.08 L466.80,100.66 L467.30,98.69 L467.80,96.13 L468.30,93.02 L468.80,89.41 L469.30,85.46 L469.80,81.39 L470.30,77.53 L470.80,74.25 L471.30,71.89 L471.80,70.73 L472.30,70.90 L472.80,72.37 L473.30,74.95 L473.80,78.31 L474.30,82.10 L474.80,85.98 L475.30,89.67 L475.80,92.99 L476.30,95.83 L476.80,98.14 L477.30,99.94 L477.80,101.23 L478.30,102.05 L478.80,102.45 L479.30,102.49 L479.80,102.27 L480.30,101.86 L480.80,101.35 L481.30,100.79 L481.80,100.23 L482.30,99.69 L482.80,99.19 L483.30,98.71 L483.80,98.27 L484.30,97.87 L484.80,97.52 L485.30,97.22 L485.80,96.98 L486.30,96.79 L486.80,96.62 L487.30,96.47 L487.80,96.34 L488.30,96.23 L488.80,96.13 L489.30,96.05 L489.80,95.99 L490.30,95.92 L490.80,95.86 L491.30,95.81 L491.80,95.78 L492.30,95.77 L492.80,95.77 L493.30,95.76 L493.80,95.72 L494.30,95.64 L494.80,95.53 L495.30,95.39 L495.80,95.25 L496.30,95.13 L496.80,95.04 L497.30,95.00 L497.80,95.00 L498.30,95.04 L498.80,95.09 L499.30,95.15 L499.80,95.21 L500.30,95.26 L500.80,95.30 L501.30,95.35 L501.80,95.39 L502.30,95.40 L502.80,95.39 L503.30,95.34 L503.80,95.27 L504.30,95.18 L504.80,95.13 L505.30,95.11 L505.80,95.14 L506.30,95.20 L506.80,95.26 L507.30,95.31 L507.80,95.34 L508.30,95.34 L508.80,95.32 L509.30,95.30 L509.80,95.29 L510.30,95.28 L510.80,95.28 L511.30,95.29 L511.80,95.31 L512.30,95.32 L512.80,95.33 L513.30,95.32 L513.80,95.30 L514.30,95.27 L514.80,95.24 L515.30,95.21 L515.80,95.18 L516.30,95.16 L516.80,95.14"/>
<path d="M305.30,108.42 L305.80,108.31 L306.30,108.18 L306.80,108.06 L307.30,107.94 L307.80,107.85 L308.30,107.80 L308.80,107.80 L309.30,107.83 L309.80,107.87 L310.30,107.92 L310.80,107.97 L311.30,108.01 L311.80,108.05 L312.30,108.09 L312.80,108.11 L313.30,108.12 L313.80,108.12 L314.30,108.10 L314.80,108.05 L315.30,107.99 L315.80,107.91 L316.30,107.83 L316.80,107.75 L317.30,107.69 L317.80,107.68 L318.30,107.70 L318.80,107.75 L319.30,107.82 L319.80,107.89 L320.30,107.97 L320.80,108.06 L321.30,108.15 L321.80,108.23 L322.30,108.30 L322.80,108.33 L323.30,108.34 L323.80,108.31 L324.30,108.26 L324.80,108.20 L325.30,108.14 L325.80,108.06 L326.30,107.98 L326.80,107.90 L327.30,107.83 L327.80,107.79 L328.30,107.80 L328.80,107.83 L329.30,107.89 L329.80,107.96 L330.30,108.01 L330.80,108.05 L331.30,108.10 L331.80,108.16 L332.30,108.25 L332.80,108.35 L333.30,108.45 L333.80,108.54 L334.30,108.61 L334.80,108.65 L335.30,108.66 L335.80,108.63 L336.30,108.57 L336.80,108.49 L337.30,108.39 L337.80,108.30 L338.30,108.22 L338.80,108.18 L339.30,108.17 L339.80,108.20 L340.30,108.27 L340.80,108.37 L341.30,108.49 L341.80,108.62 L342.30,108.73 L342.80,108.83 L343.30,108.89 L343.80,108.90 L344.30,108.88 L344.80,108.80 L345.30,108.69 L345.80,108.55 L346.30,108.37 L346.80,108.16 L347.30,107.91 L347.80,107.63 L348.30,107.33 L348.80,107.00 L349.30,106.69 L349.80,106.43 L350.30,106.28 L350.80,106.26 L351.30,106.42 L351.80,106.74 L352.30,107.18 L352.80,107.71 L353.30,108.30 L353.80,108.89 L354.30,109.49 L354.80,110.06 L355.30,110.60 L355.80,111.10 L356.30,111.54 L356.80,111.91 L357.30,112.21 L357.80,112.42 L358.30,112.52 L358.80,112.49 L359.30,112.32 L359.80,111.97 L360.30,111.44 L360.80,110.68 L361.30,109.68 L361.80,108.42 L362.30,106.91 L362.80,105.20 L363.30,103.38 L363.80,101.57 L364.30,99.93 L364.80,98.60 L365.30,97.73 L365.80,97.41 L366.30,97.65 L366.80,98.44 L367.30,99.66 L367.80,101.18 L368.30,102.89 L368.80,104.64 L369.30,106.32 L369.80,107.84 L370.30,109.14 L370.80,110.18 L371.30,110.96 L371.80,111.48 L372.30,111.78 L372.80,111.87 L373.30,111.82 L373.80,111.64 L374.30,111.39 L374.80,111.09 L375.30,110.78 L375.80,110.50 L376.30,110.24 L376.80,110.01 L377.30,109.81 L377.80,109.61 L378.30,109.39 L378.80,109.15 L379.30,108.89 L379.80,108.63 L380.30,108.40 L380.80,108.23 L381.30,108.12 L381.80,108.10 L382.30,108.15 L382.80,108.26 L383.30,108.38 L383.80,108.50 L384.30,108.60 L384.80,108.68 L385.30,108.71 L385.80,108.72 L386.30,108.70 L386.80,108.66 L387.30,108.61 L387.80,108.56 L388.30,108.51 L388.80,108.46 L389.30,108.41 L389.80,108.36 L390.30,108.31 L390.80,108.26 L391.30,108.21 L391.80,108.16 L392.30,108.11 L392.80,108.06 L393.30,108.04 L393.80,108.05 L394.30,108.10 L394.80,108.17 L395.30,108.25 L395.80,108.34 L396.30,108.41 L396.80,108.47 L397.30,108.51 L397.80,108.53 L398.30,108.54 L398.80,108.55 L399.30,108.54 L399.80,108.53 L400.30,108.50 L400.80,108.47 L401.30,108.44 L401.80,108.40 L402.30,108.34 L402.80,108.27 L403.30,108.19 L403.80,108.11 L404.30,108.02 L404.80,107.94 L405.30,107.89 L405.80,107.86 L406.30,107.86 L406.80,107.91 L407.30,107.97 L407.80,108.06 L408.30,108.14 L408.80,108.20 L409.30,108.24 L409.80,108.25 L410.30,108.24 L410.80,108.21 L411.30,108.17 L411.80,108.13 L412.30,108.09 L412.80,108.06 L413.30,108.04 L413.80,108.03 L414.30,108.02 L414.80,107.99 L415.30,107.96 L415.80,107.93 L416.30,107.89 L416.80,107.86 L417.30,107.86 L417.80,107.90 L418.30,107.95 L418.80,108.04 L419.30,108.13 L419.80,108.20 L420.30,108.23 L420.80,108.22 L421.30,108.18 L421.80,108.13 L422.30,108.10 L422.80,108.09 L423.30,108.12 L423.80,108.17 L424.30,108.23 L424.80,108.30 L425.30,108.36 L425.80,108.43 L426.30,108.49 L426.80,108.53 L427.30,108.53 L427.80,108.51 L428.30,108.47 L428.80,108.40 L429.30,108.31 L429.80,108.22 L430.30,108.12 L430.80,108.03 L431.30,107.95 L431.80,107.91 L432.30,107.90 L432.80,107.92 L433.30,107.98 L433.80,108.08 L434.30,108.19 L434.80,108.31 L435.30,108.41 L435.80,108.50 L436.30,108.55 L436.80,108.56 L437.30,108.54 L437.80,108.47 L438.30,108.38 L438.80,108.28 L439.30,108.19 L439.80,108.13 L440.30,108.10 L440.80,108.10 L441.30,108.13 L441.80,108.18 L442.30,108.26 L442.80,108.37 L443.30,108.50 L443.80,108.64 L444.30,108.78 L444.80,108.94 L445.30,109.10 L445.80,109.28 L446.30,109.47 L446.80,109.65 L447.30,109.83 L447.80,109.97 L448.30,110.08 L448.80,110.15 L449.30,110.18 L449.80,110.16 L450.30,110.08 L450.80,109.91 L451.30,109.66 L451.80,109.32 L452.30,108.90 L452.80,108.40 L453.30,107.84 L453.80,107.22 L454.30,106.55 L454.80,105.88 L455.30,105.26 L455.80,104.77 L456.30,104.46 L456.80,104.42 L457.30,104.66 L457.80,105.17 L458.30,105.95 L458.80,106.92 L459.30,108.02 L459.80,109.20 L460.30,110.39 L460.80,111.54 L461.30,112.61 L461.80,113.58 L462.30,114.41 L462.80,115.10 L463.30,115.64 L463.80,116.02 L464.30,116.22 L464.80,116.22 L465.30,115.98 L465.80,115.45 L466.30,114.59 L466.80,113.34 L467.30,111.66 L467.80,109.49 L468.30,106.84 L468.80,103.73 L469.30,100.28 L469.80,96.68 L470.30,93.19 L470.80,90.16 L471.30,87.89 L471.80,86.67 L472.30,86.65 L472.80,87.84 L473.30,90.06 L473.80,93.04 L474.30,96.43 L474.80,99.91 L475.30,103.22 L475.80,106.17 L476.30,108.68 L476.80,110.72 L477.30,112.33 L477.80,113.52 L478.30,114.35 L478.80,114.83 L479.30,115.02 L479.80,114.95 L480.30,114.70 L480.80,114.31 L481.30,113.82 L481.80,113.27 L482.30,112.68 L482.80,112.07 L483.30,111.48 L483.80,110.94 L484.30,110.46 L484.80,110.06 L485.30,109.75 L485.80,109.53 L486.30,109.38 L486.80,109.28 L487.30,109.22 L487.80,109.16 L488.30,109.11 L488.80,109.03 L489.30,108.93 L489.80,108.82 L490.30,108.71 L490.80,108.61 L491.30,108.54 L491.80,108.49 L492.30,108.46 L492.80,108.44 L493.30,108.42 L493.80,108.40 L494.30,108.38 L494.80,108.37 L495.30,108.37 L495.80,108.39 L496.30,108.42 L496.80,108.45 L497.30,108.46 L497.80,108.44 L498.30,108.40 L498.80,108.34 L499.30,108.28 L499.80,108.23 L500.30,108.19 L500.80,108.17 L501.30,108.17 L501.80,108.18 L502.30,108.19 L502.80,108.19 L503.30,108.17 L503.80,108.13 L504.30,108.10 L504.80,108.09 L505.30,108.10 L505.80,108.15 L506.30,108.21 L506.80,108.25 L507.30,108.26 L507.80,108.22 L508.30,108.14 L508.80,108.03 L509.30,107.93 L509.80,107.87 L510.30,107.85 L510.80,107.89 L511.30,107.96 L511.80,108.02 L512.30,108.05 L512.80,108.04 L513.30,107.96 L513.80,107.86 L514.30,107.76 L514.80,107.68 L515.30,107.66 L515.80,107.68 L516.30,107.72 L516.80,107.76"/>
<path d="M305.30,121.07 L305.80,121.04 L306.30,121.02 L306.80,121.00 L307.30,120.99 L307.80,120.98 L308.30,120.98 L308.80,120.98 L309.30,121.00 L309.80,121.02 L310.30,121.06 L310.80,121.10 L311.30,121.14 L311.80,121.17 L312.30,121.19 L312.80,121.21 L313.30,121.21 L313.80,121.20 L314.30,121.17 L314.80,121.13 L315.30,121.09 L315.80,121.05 L316.30,121.04 L316.80,121.03 L317.30,121.02 L317.80,121.03 L318.30,121.03 L318.80,121.06 L319.30,121.09 L319.80,121.12 L320.30,121.16 L320.80,121.18 L321.30,121.21 L321.80,121.24 L322.30,121.26 L322.80,121.27 L323.30,121.26 L323.80,121.23 L324.30,121.18 L324.80,121.13 L325.30,121.09 L325.80,121.07 L326.30,121.06 L326.80,121.06 L327.30,121.07 L327.80,121.09 L328.30,121.10 L328.80,121.12 L329.30,121.14 L329.80,121.18 L330.30,121.22 L330.80,121.27 L331.30,121.30 L331.80,121.31 L332.30,121.30 L332.80,121.27 L333.30,121.23 L333.80,121.21 L334.30,121.20 L334.80,121.23 L335.30,121.28 L335.80,121.36 L336.30,121.44 L336.80,121.49 L337.30,121.49 L337.80,121.45 L338.30,121.38 L338.80,121.31 L339.30,121.29 L339.80,121.33 L340.30,121.43 L340.80,121.58 L341.30,121.77 L341.80,121.97 L342.30,122.17 L342.80,122.34 L343.30,122.48 L343.80,122.57 L344.30,122.59 L344.80,122.52 L345.30,122.35 L345.80,122.07 L346.30,121.69 L346.80,121.22 L347.30,120.68 L347.80,120.09 L348.30,119.47 L348.80,118.87 L349.30,118.33 L349.80,117.90 L350.30,117.62 L350.80,117.53 L351.30,117.66 L351.80,117.99 L352.30,118.50 L352.80,119.16 L353.30,119.92 L353.80,120.74 L354.30,121.58 L354.80,122.41 L355.30,123.23 L355.80,123.98 L356.30,124.65 L356.80,125.22 L357.30,125.65 L357.80,125.94 L358.30,126.05 L358.80,126.00 L359.30,125.77 L359.80,125.35 L360.30,124.74 L360.80,123.93 L361.30,122.92 L361.80,121.72 L362.30,120.34 L362.80,118.82 L363.30,117.21 L363.80,115.61 L364.30,114.14 L364.80,112.93 L365.30,112.10 L365.80,111.76 L366.30,111.95 L366.80,112.65 L367.30,113.76 L367.80,115.18 L368.30,116.75 L368.80,118.33 L369.30,119.82 L369.80,121.14 L370.30,122.23 L370.80,123.11 L371.30,123.77 L371.80,124.23 L372.30,124.52 L372.80,124.65 L373.30,124.65 L373.80,124.55 L374.30,124.36 L374.80,124.12 L375.30,123.86 L375.80,123.58 L376.30,123.32 L376.80,123.08 L377.30,122.87 L377.80,122.70 L378.30,122.55 L378.80,122.42 L379.30,122.29 L379.80,122.15 L380.30,122.01 L380.80,121.87 L381.30,121.72 L381.80,121.57 L382.30,121.41 L382.80,121.26 L383.30,121.12 L383.80,121.00 L384.30,120.93 L384.80,120.88 L385.30,120.86 L385.80,120.87 L386.30,120.89 L386.80,120.94 L387.30,121.00 L387.80,121.08 L388.30,121.14 L388.80,121.19 L389.30,121.22 L389.80,121.21 L390.30,121.18 L390.80,121.14 L391.30,121.11 L391.80,121.09 L392.30,121.10 L392.80,121.13 L393.30,121.20 L393.80,121.28 L394.30,121.38 L394.80,121.47 L395.30,121.56 L395.80,121.63 L396.30,121.68 L396.80,121.71 L397.30,121.71 L397.80,121.70 L398.30,121.66 L398.80,121.59 L399.30,121.50 L399.80,121.41 L400.30,121.34 L400.80,121.31 L401.30,121.33 L401.80,121.39 L402.30,121.49 L402.80,121.56 L403.30,121.61 L403.80,121.60 L404.30,121.54 L404.80,121.47 L405.30,121.40 L405.80,121.37 L406.30,121.38 L406.80,121.42 L407.30,121.49 L407.80,121.55 L408.30,121.58 L408.80,121.56 L409.30,121.49 L409.80,121.37 L410.30,121.24 L410.80,121.10 L411.30,121.00 L411.80,120.95 L412.30,120.96 L412.80,121.02 L413.30,121.12 L413.80,121.22 L414.30,121.30 L414.80,121.36 L415.30,121.38 L415.80,121.38 L416.30,121.35 L416.80,121.30 L417.30,121.24 L417.80,121.17 L418.30,121.11 L418.80,121.06 L419.30,121.02 L419.80,121.00 L420.30,120.97 L420.80,120.94 L421.30,120.90 L421.80,120.86 L422.30,120.81 L422.80,120.78 L423.30,120.77 L423.80,120.81 L424.30,120.88 L424.80,120.99 L425.30,121.13 L425.80,121.27 L426.30,121.41 L426.80,121.51 L427.30,121.59 L427.80,121.64 L428.30,121.68 L428.80,121.71 L429.30,121.73 L429.80,121.71 L430.30,121.66 L430.80,121.58 L431.30,121.49 L431.80,121.41 L432.30,121.35 L432.80,121.33 L433.30,121.33 L433.80,121.36 L434.30,121.37 L434.80,121.38 L435.30,121.38 L435.80,121.38 L436.30,121.36 L436.80,121.34 L437.30,121.30 L437.80,121.25 L438.30,121.20 L438.80,121.15 L439.30,121.12 L439.80,121.11 L440.30,121.13 L440.80,121.20 L441.30,121.32 L441.80,121.48 L442.30,121.65 L442.80,121.82 L443.30,121.97 L443.80,122.11 L444.30,122.24 L444.80,122.36 L445.30,122.49 L445.80,122.62 L446.30,122.74 L446.80,122.86 L447.30,122.98 L447.80,123.10 L448.30,123.22 L448.80,123.33 L449.30,123.42 L449.80,123.46 L450.30,123.44 L450.80,123.33 L451.30,123.10 L451.80,122.73 L452.30,122.20 L452.80,121.51 L453.30,120.66 L453.80,119.69 L454.30,118.66 L454.80,117.63 L455.30,116.69 L455.80,115.94 L456.30,115.47 L456.80,115.35 L457.30,115.61 L457.80,116.22 L458.30,117.16 L458.80,118.34 L459.30,119.69 L459.80,121.12 L460.30,122.56 L460.80,123.95 L461.30,125.24 L461.80,126.40 L462.30,127.43 L462.80,128.30 L463.30,129.00 L463.80,129.51 L464.30,129.80 L464.80,129.84 L465.30,129.60 L465.80,129.02 L466.30,128.08 L466.80,126.75 L467.30,125.00 L467.80,122.83 L468.30,120.26 L468.80,117.35 L469.30,114.22 L469.80,111.03 L470.30,108.01 L470.80,105.42 L471.30,103.53 L471.80,102.55 L472.30,102.56 L472.80,103.55 L473.30,105.37 L473.80,107.83 L474.30,110.66 L474.80,113.65 L475.30,116.58 L475.80,119.28 L476.30,121.65 L476.80,123.60 L477.30,125.11 L477.80,126.21 L478.30,126.91 L478.80,127.30 L479.30,127.41 L479.80,127.30 L480.30,127.00 L480.80,126.55 L481.30,125.99 L481.80,125.37 L482.30,124.74 L482.80,124.14 L483.30,123.62 L483.80,123.21 L484.30,122.91 L484.80,122.70 L485.30,122.57 L485.80,122.46 L486.30,122.38 L486.80,122.29 L487.30,122.18 L487.80,122.07 L488.30,121.96 L488.80,121.85 L489.30,121.77 L489.80,121.73 L490.30,121.71 L490.80,121.72 L491.30,121.73 L491.80,121.73 L492.30,121.70 L492.80,121.64 L493.30,121.55 L493.80,121.47 L494.30,121.39 L494.80,121.33 L495.30,121.29 L495.80,121.27 L496.30,121.26 L496.80,121.26 L497.30,121.25 L497.80,121.25 L498.30,121.26 L498.80,121.28 L499.30,121.31 L499.80,121.35 L500.30,121.38 L500.80,121.40 L501.30,121.40 L501.80,121.38 L502.30,121.35 L502.80,121.31 L503.30,121.28 L503.80,121.26 L504.30,121.26 L504.80,121.29 L505.30,121.33 L505.80,121.39 L506.30,121.44 L506.80,121.49 L507.30,121.52 L507.80,121.52 L508.30,121.49 L508.80,121.42 L509.30,121.33 L509.80,121.25 L510.30,121.20 L510.80,121.18 L511.30,121.19 L511.80,121.22 L512.30,121.25 L512.80,121.26 L513.30,121.26 L513.80,121.24 L514.30,121.21 L514.80,121.17 L515.30,121.12 L515.80,121.05 L516.30,120.99 L516.80,120.92"/>
<path d="M305.30,134.00 L305.80,134.00 L306.30,134.02 L306.80,134.05 L307.30,134.09 L307.80,134.11 L308.30,134.13 L308.80,134.16 L309.30,134.19 L309.80,134.23 L310.30,134.28 L310.80,134.31 L311.30,134.33 L311.80,134.33 L312.30,134.31 L312.80,134.29 L313.30,134.26 L313.80,134.23 L314.30,134.19 L314.80,134.15 L315.30,134.11 L315.80,134.08 L316.30,134.07 L316.80,134.08 L317.30,134.09 L317.80,134.09 L318.30,134.08 L318.80,134.06 L319.30,134.05 L319.80,134.03 L320.30,134.03 L320.80,134.05 L321.30,134.08 L321.80,134.11 L322.30,134.13 L322.80,134.13 L323.30,134.13 L323.80,134.12 L324.30,134.11 L324.80,134.10 L325.30,134.11 L325.80,134.14 L326.30,134.19 L326.80,134.27 L327.30,134.37 L327.80,134.48 L328.30,134.59 L328.80,134.67 L329.30,134.72 L329.80,134.73 L330.30,134.72 L330.80,134.71 L331.30,134.70 L331.80,134.70 L332.30,134.72 L332.80,134.74 L333.30,134.77 L333.80,134.78 L334.30,134.77 L334.80,134.71 L335.30,134.62 L335.80,134.52 L336.30,134.44 L336.80,134.41 L337.30,134.43 L337.80,134.50 L338.30,134.62 L338.80,134.77 L339.30,134.93 L339.80,135.10 L340.30,135.26 L340.80,135.41 L341.30,135.56 L341.80,135.70 L342.30,135.83 L342.80,135.93 L343.30,135.98 L343.80,135.98 L344.30,135.90 L344.80,135.75 L345.30,135.53 L345.80,135.23 L346.30,134.83 L346.80,134.31 L347.30,133.66 L347.80,132.90 L348.30,132.06 L348.80,131.20 L349.30,130.41 L349.80,129.76 L350.30,129.35 L350.80,129.22 L351.30,129.39 L351.80,129.86 L352.30,130.56 L352.80,131.43 L353.30,132.37 L353.80,133.31 L354.30,134.23 L354.80,135.09 L355.30,135.90 L355.80,136.67 L356.30,137.38 L356.80,138.01 L357.30,138.52 L357.80,138.88 L358.30,139.05 L358.80,139.02 L359.30,138.77 L359.80,138.32 L360.30,137.66 L360.80,136.82 L361.30,135.82 L361.80,134.69 L362.30,133.46 L362.80,132.15 L363.30,130.81 L363.80,129.50 L364.30,128.32 L364.80,127.37 L365.30,126.74 L365.80,126.51 L366.30,126.69 L366.80,127.24 L367.30,128.11 L367.80,129.19 L368.30,130.39 L368.80,131.61 L369.30,132.78 L369.80,133.84 L370.30,134.75 L370.80,135.49 L371.30,136.04 L371.80,136.43 L372.30,136.68 L372.80,136.79 L373.30,136.79 L373.80,136.70 L374.30,136.56 L374.80,136.36 L375.30,136.15 L375.80,135.92 L376.30,135.70 L376.80,135.49 L377.30,135.30 L377.80,135.12 L378.30,134.97 L378.80,134.84 L379.30,134.73 L379.80,134.64 L380.30,134.56 L380.80,134.50 L381.30,134.46 L381.80,134.45 L382.30,134.48 L382.80,134.51 L383.30,134.55 L383.80,134.57 L384.30,134.56 L384.80,134.52 L385.30,134.47 L385.80,134.43 L386.30,134.39 L386.80,134.36 L387.30,134.35 L387.80,134.34 L388.30,134.33 L388.80,134.31 L389.30,134.29 L389.80,134.26 L390.30,134.23 L390.80,134.20 L391.30,134.18 L391.80,134.17 L392.30,134.18 L392.80,134.20 L393.30,134.23 L393.80,134.28 L394.30,134.32 L394.80,134.38 L395.30,134.45 L395.80,134.52 L396.30,134.60 L396.80,134.67 L397.30,134.72 L397.80,134.74 L398.30,134.70 L398.80,134.62 L399.30,134.51 L399.80,134.39 L400.30,134.29 L400.80,134.25 L401.30,134.27 L401.80,134.32 L402.30,134.40 L402.80,134.49 L403.30,134.56 L403.80,134.60 L404.30,134.61 L404.80,134.59 L405.30,134.55 L405.80,134.48 L406.30,134.40 L406.80,134.31 L407.30,134.23 L407.80,134.16 L408.30,134.11 L408.80,134.07 L409.30,134.04 L409.80,134.03 L410.30,134.04 L410.80,134.08 L411.30,134.14 L411.80,134.21 L412.30,134.28 L412.80,134.34 L413.30,134.37 L413.80,134.39 L414.30,134.39 L414.80,134.39 L415.30,134.39 L415.80,134.40 L416.30,134.41 L416.80,134.45 L417.30,134.50 L417.80,134.54 L418.30,134.56 L418.80,134.58 L419.30,134.59 L419.80,134.59 L420.30,134.59 L420.80,134.60 L421.30,134.60 L421.80,134.61 L422.30,134.59 L422.80,134.57 L423.30,134.53 L423.80,134.48 L424.30,134.45 L424.80,134.42 L425.30,134.43 L425.80,134.46 L426.30,134.51 L426.80,134.56 L427.30,134.58 L427.80,134.59 L428.30,134.55 L428.80,134.48 L429.30,134.41 L429.80,134.33 L430.30,134.26 L430.80,134.21 L431.30,134.17 L431.80,134.12 L432.30,134.08 L432.80,134.05 L433.30,134.06 L433.80,134.10 L434.30,134.18 L434.80,134.28 L435.30,134.37 L435.80,134.46 L436.30,134.52 L436.80,134.56 L437.30,134.59 L437.80,134.61 L438.30,134.63 L438.80,134.65 L439.30,134.67 L439.80,134.69 L440.30,134.71 L440.80,134.72 L441.30,134.74 L441.80,134.76 L442.30,134.80 L442.80,134.86 L443.30,134.93 L443.80,135.04 L444.30,135.16 L444.80,135.30 L445.30,135.47 L445.80,135.68 L446.30,135.92 L446.80,136.19 L447.30,136.48 L447.80,136.76 L448.30,137.00 L448.80,137.17 L449.30,137.25 L449.80,137.21 L450.30,137.04 L450.80,136.74 L451.30,136.29 L451.80,135.70 L452.30,134.94 L452.80,134.04 L453.30,133.01 L453.80,131.88 L454.30,130.70 L454.80,129.53 L455.30,128.48 L455.80,127.64 L456.30,127.11 L456.80,126.97 L457.30,127.24 L457.80,127.90 L458.30,128.91 L458.80,130.18 L459.30,131.63 L459.80,133.16 L460.30,134.68 L460.80,136.14 L461.30,137.49 L461.80,138.71 L462.30,139.79 L462.80,140.71 L463.30,141.44 L463.80,141.97 L464.30,142.26 L464.80,142.28 L465.30,142.01 L465.80,141.40 L466.30,140.47 L466.80,139.18 L467.30,137.56 L467.80,135.65 L468.30,133.51 L468.80,131.20 L469.30,128.81 L469.80,126.48 L470.30,124.34 L470.80,122.56 L471.30,121.31 L471.80,120.68 L472.30,120.74 L472.80,121.47 L473.30,122.77 L473.80,124.52 L474.30,126.55 L474.80,128.70 L475.30,130.85 L475.80,132.87 L476.30,134.67 L476.80,136.21 L477.30,137.44 L477.80,138.36 L478.30,138.95 L478.80,139.26 L479.30,139.31 L479.80,139.17 L480.30,138.89 L480.80,138.51 L481.30,138.09 L481.80,137.65 L482.30,137.22 L482.80,136.82 L483.30,136.45 L483.80,136.10 L484.30,135.78 L484.80,135.47 L485.30,135.19 L485.80,134.94 L486.30,134.75 L486.80,134.64 L487.30,134.60 L487.80,134.60 L488.30,134.63 L488.80,134.64 L489.30,134.64 L489.80,134.59 L490.30,134.53 L490.80,134.46 L491.30,134.41 L491.80,134.38 L492.30,134.38 L492.80,134.41 L493.30,134.44 L493.80,134.48 L494.30,134.51 L494.80,134.53 L495.30,134.53 L495.80,134.54 L496.30,134.56 L496.80,134.58 L497.30,134.60 L497.80,134.60 L498.30,134.56 L498.80,134.48 L499.30,134.38 L499.80,134.27 L500.30,134.17 L500.80,134.09 L501.30,134.05 L501.80,134.04 L502.30,134.05 L502.80,134.07 L503.30,134.09 L503.80,134.08 L504.30,134.04 L504.80,133.98 L505.30,133.91 L505.80,133.86 L506.30,133.83 L506.80,133.84 L507.30,133.90 L507.80,133.98 L508.30,134.07 L508.80,134.15 L509.30,134.21 L509.80,134.23 L510.30,134.22 L510.80,134.20 L511.30,134.17 L511.80,134.15 L512.30,134.14 L512.80,134.16 L513.30,134.19 L513.80,134.23 L514.30,134.27 L514.80,134.31 L515.30,134.32 L515.80,134.33 L516.30,134.31 L516.80,134.28"/>
<path d="M305.30,147.17 L305.80,147.09 L306.30,147.03 L306.80,147.01 L307.30,147.05 L307.80,147.16 L308.30,147.30 L308.80,147.48 L309.30,147.66 L309.80,147.82 L310.30,147.93 L310.80,147.99 L311.30,147.97 L311.80,147.89 L312.30,147.75 L312.80,147.61 L313.30,147.48 L313.80,147.39 L314.30,147.36 L314.80,147.37 L315.30,147.41 L315.80,147.46 L316.30,147.51 L316.80,147.53 L317.30,147.50 L317.80,147.46 L318.30,147.41 L318.80,147.37 L319.30,147.36 L319.80,147.36 L320.30,147.36 L320.80,147.34 L321.30,147.29 L321.80,147.21 L322.30,147.12 L322.80,147.04 L323.30,146.99 L323.80,146.99 L324.30,147.04 L324.80,147.14 L325.30,147.26 L325.80,147.38 L326.30,147.45 L326.80,147.48 L327.30,147.45 L327.80,147.40 L328.30,147.33 L328.80,147.26 L329.30,147.22 L329.80,147.22 L330.30,147.26 L330.80,147.34 L331.30,147.45 L331.80,147.58 L332.30,147.71 L332.80,147.81 L333.30,147.88 L333.80,147.90 L334.30,147.87 L334.80,147.79 L335.30,147.69 L335.80,147.58 L336.30,147.50 L336.80,147.48 L337.30,147.53 L337.80,147.65 L338.30,147.81 L338.80,147.99 L339.30,148.17 L339.80,148.33 L340.30,148.47 L340.80,148.60 L341.30,148.73 L341.80,148.86 L342.30,149.00 L342.80,149.13 L343.30,149.26 L343.80,149.35 L344.30,149.38 L344.80,149.33 L345.30,149.15 L345.80,148.83 L346.30,148.35 L346.80,147.74 L347.30,147.00 L347.80,146.18 L348.30,145.32 L348.80,144.48 L349.30,143.70 L349.80,143.05 L350.30,142.58 L350.80,142.34 L351.30,142.36 L351.80,142.64 L352.30,143.15 L352.80,143.86 L353.30,144.67 L353.80,145.53 L354.30,146.39 L354.80,147.21 L355.30,147.96 L355.80,148.66 L356.30,149.29 L356.80,149.84 L357.30,150.30 L357.80,150.63 L358.30,150.80 L358.80,150.83 L359.30,150.70 L359.80,150.44 L360.30,150.05 L360.80,149.52 L361.30,148.86 L361.80,148.08 L362.30,147.18 L362.80,146.20 L363.30,145.19 L363.80,144.19 L364.30,143.28 L364.80,142.52 L365.30,141.99 L365.80,141.74 L366.30,141.81 L366.80,142.17 L367.30,142.80 L367.80,143.61 L368.30,144.53 L368.80,145.48 L369.30,146.37 L369.80,147.17 L370.30,147.83 L370.80,148.35 L371.30,148.73 L371.80,149.01 L372.30,149.19 L372.80,149.32 L373.30,149.38 L373.80,149.37 L374.30,149.28 L374.80,149.12 L375.30,148.91 L375.80,148.66 L376.30,148.40 L376.80,148.13 L377.30,147.88 L377.80,147.66 L378.30,147.46 L378.80,147.32 L379.30,147.23 L379.80,147.21 L380.30,147.22 L380.80,147.29 L381.30,147.37 L381.80,147.47 L382.30,147.56 L382.80,147.62 L383.30,147.64 L383.80,147.62 L384.30,147.58 L384.80,147.53 L385.30,147.51 L385.80,147.53 L386.30,147.57 L386.80,147.64 L387.30,147.69 L387.80,147.72 L388.30,147.71 L388.80,147.66 L389.30,147.59 L389.80,147.51 L390.30,147.44 L390.80,147.39 L391.30,147.35 L391.80,147.32 L392.30,147.30 L392.80,147.29 L393.30,147.30 L393.80,147.32 L394.30,147.36 L394.80,147.39 L395.30,147.42 L395.80,147.45 L396.30,147.48 L396.80,147.51 L397.30,147.57 L397.80,147.63 L398.30,147.70 L398.80,147.75 L399.30,147.78 L399.80,147.77 L400.30,147.74 L400.80,147.69 L401.30,147.64 L401.80,147.60 L402.30,147.59 L402.80,147.58 L403.30,147.56 L403.80,147.49 L404.30,147.41 L404.80,147.30 L405.30,147.20 L405.80,147.13 L406.30,147.10 L406.80,147.09 L407.30,147.10 L407.80,147.10 L408.30,147.08 L408.80,147.06 L409.30,147.03 L409.80,147.01 L410.30,147.00 L410.80,147.02 L411.30,147.05 L411.80,147.09 L412.30,147.14 L412.80,147.17 L413.30,147.19 L413.80,147.21 L414.30,147.22 L414.80,147.23 L415.30,147.26 L415.80,147.28 L416.30,147.31 L416.80,147.34 L417.30,147.36 L417.80,147.36 L418.30,147.36 L418.80,147.36 L419.30,147.37 L419.80,147.40 L420.30,147.44 L420.80,147.49 L421.30,147.53 L421.80,147.55 L422.30,147.56 L422.80,147.56 L423.30,147.56 L423.80,147.54 L424.30,147.54 L424.80,147.55 L425.30,147.56 L425.80,147.58 L426.30,147.61 L426.80,147.62 L427.30,147.60 L427.80,147.55 L428.30,147.49 L428.80,147.42 L429.30,147.35 L429.80,147.30 L430.30,147.27 L430.80,147.25 L431.30,147.24 L431.80,147.23 L432.30,147.25 L432.80,147.28 L433.30,147.35 L433.80,147.44 L434.30,147.54 L434.80,147.63 L435.30,147.69 L435.80,147.70 L436.30,147.67 L436.80,147.63 L437.30,147.58 L437.80,147.55 L438.30,147.55 L438.80,147.60 L439.30,147.67 L439.80,147.77 L440.30,147.85 L440.80,147.89 L441.30,147.92 L441.80,147.92 L442.30,147.92 L442.80,147.92 L443.30,147.95 L443.80,147.99 L444.30,148.08 L444.80,148.22 L445.30,148.43 L445.80,148.73 L446.30,149.09 L446.80,149.49 L447.30,149.89 L447.80,150.25 L448.30,150.50 L448.80,150.66 L449.30,150.69 L449.80,150.59 L450.30,150.38 L450.80,150.02 L451.30,149.50 L451.80,148.79 L452.30,147.87 L452.80,146.77 L453.30,145.51 L453.80,144.14 L454.30,142.74 L454.80,141.39 L455.30,140.21 L455.80,139.28 L456.30,138.72 L456.80,138.58 L457.30,138.88 L457.80,139.60 L458.30,140.70 L458.80,142.07 L459.30,143.63 L459.80,145.25 L460.30,146.86 L460.80,148.37 L461.30,149.74 L461.80,150.93 L462.30,151.92 L462.80,152.71 L463.30,153.28 L463.80,153.66 L464.30,153.84 L464.80,153.82 L465.30,153.60 L465.80,153.15 L466.30,152.47 L466.80,151.56 L467.30,150.43 L467.80,149.10 L468.30,147.61 L468.80,146.00 L469.30,144.34 L469.80,142.69 L470.30,141.17 L470.80,139.88 L471.30,138.91 L471.80,138.35 L472.30,138.26 L472.80,138.64 L473.30,139.45 L473.80,140.59 L474.30,141.95 L474.80,143.40 L475.30,144.84 L475.80,146.18 L476.30,147.36 L476.80,148.35 L477.30,149.13 L477.80,149.70 L478.30,150.06 L478.80,150.23 L479.30,150.24 L479.80,150.13 L480.30,149.94 L480.80,149.71 L481.30,149.47 L481.80,149.24 L482.30,149.03 L482.80,148.84 L483.30,148.67 L483.80,148.51 L484.30,148.36 L484.80,148.20 L485.30,148.05 L485.80,147.89 L486.30,147.75 L486.80,147.64 L487.30,147.56 L487.80,147.52 L488.30,147.52 L488.80,147.53 L489.30,147.57 L489.80,147.62 L490.30,147.67 L490.80,147.71 L491.30,147.75 L491.80,147.77 L492.30,147.77 L492.80,147.76 L493.30,147.73 L493.80,147.67 L494.30,147.59 L494.80,147.50 L495.30,147.39 L495.80,147.30 L496.30,147.22 L496.80,147.16 L497.30,147.13 L497.80,147.15 L498.30,147.21 L498.80,147.32 L499.30,147.45 L499.80,147.60 L500.30,147.74 L500.80,147.82 L501.30,147.83 L501.80,147.78 L502.30,147.68 L502.80,147.55 L503.30,147.42 L503.80,147.32 L504.30,147.25 L504.80,147.23 L505.30,147.24 L505.80,147.29 L506.30,147.33 L506.80,147.38 L507.30,147.40 L507.80,147.40 L508.30,147.39 L508.80,147.36 L509.30,147.34 L509.80,147.31 L510.30,147.28 L510.80,147.24 L511.30,147.20 L511.80,147.16 L512.30,147.14 L512.80,147.15 L513.30,147.18 L513.80,147.25 L514.30,147.34 L514.80,147.43 L515.30,147.51 L515.80,147.57 L516.30,147.59 L516.80,147.59"/>
<path d="M305.30,160.09 L305.80,160.14 L306.30,160.20 L306.80,160.26 L307.30,160.33 L307.80,160.42 L308.30,160.52 L308.80,160.63 L309.30,160.72 L309.80,160.78 L310.30,160.81 L310.80,160.83 L311.30,160.84 L311.80,160.85 L312.30,160.84 L312.80,160.81 L313.30,160.73 L313.80,160.60 L314.30,160.44 L314.80,160.27 L315.30,160.12 L315.80,160.01 L316.30,159.96 L316.80,159.97 L317.30,160.03 L317.80,160.11 L318.30,160.21 L318.80,160.30 L319.30,160.38 L319.80,160.43 L320.30,160.46 L320.80,160.48 L321.30,160.48 L321.80,160.46 L322.30,160.43 L322.80,160.39 L323.30,160.35 L323.80,160.33 L324.30,160.32 L324.80,160.32 L325.30,160.35 L325.80,160.39 L326.30,160.45 L326.80,160.50 L327.30,160.54 L327.80,160.57 L328.30,160.59 L328.80,160.59 L329.30,160.58 L329.80,160.54 L330.30,160.49 L330.80,160.40 L331.30,160.30 L331.80,160.21 L332.30,160.15 L332.80,160.14 L333.30,160.18 L333.80,160.25 L334.30,160.33 L334.80,160.42 L335.30,160.52 L335.80,160.63 L336.30,160.75 L336.80,160.88 L337.30,161.01 L337.80,161.15 L338.30,161.29 L338.80,161.43 L339.30,161.57 L339.80,161.71 L340.30,161.83 L340.80,161.94 L341.30,162.04 L341.80,162.14 L342.30,162.25 L342.80,162.35 L343.30,162.43 L343.80,162.46 L344.30,162.42 L344.80,162.29 L345.30,162.05 L345.80,161.70 L346.30,161.24 L346.80,160.66 L347.30,159.99 L347.80,159.23 L348.30,158.41 L348.80,157.59 L349.30,156.83 L349.80,156.19 L350.30,155.74 L350.80,155.51 L351.30,155.54 L351.80,155.80 L352.30,156.29 L352.80,156.97 L353.30,157.78 L353.80,158.67 L354.30,159.59 L354.80,160.50 L355.30,161.36 L355.80,162.15 L356.30,162.84 L356.80,163.42 L357.30,163.85 L357.80,164.13 L358.30,164.26 L358.80,164.24 L359.30,164.07 L359.80,163.76 L360.30,163.31 L360.80,162.71 L361.30,161.97 L361.80,161.11 L362.30,160.14 L362.80,159.11 L363.30,158.07 L363.80,157.08 L364.30,156.21 L364.80,155.54 L365.30,155.13 L365.80,155.02 L366.30,155.20 L366.80,155.65 L367.30,156.31 L367.80,157.10 L368.30,157.95 L368.80,158.81 L369.30,159.62 L369.80,160.35 L370.30,160.98 L370.80,161.50 L371.30,161.91 L371.80,162.19 L372.30,162.36 L372.80,162.45 L373.30,162.45 L373.80,162.40 L374.30,162.31 L374.80,162.19 L375.30,162.07 L375.80,161.94 L376.30,161.81 L376.80,161.68 L377.30,161.55 L377.80,161.41 L378.30,161.25 L378.80,161.09 L379.30,160.93 L379.80,160.79 L380.30,160.67 L380.80,160.60 L381.30,160.55 L381.80,160.52 L382.30,160.50 L382.80,160.48 L383.30,160.47 L383.80,160.48 L384.30,160.52 L384.80,160.58 L385.30,160.66 L385.80,160.74 L386.30,160.81 L386.80,160.87 L387.30,160.92 L387.80,160.95 L388.30,160.97 L388.80,160.97 L389.30,160.95 L389.80,160.91 L390.30,160.85 L390.80,160.78 L391.30,160.69 L391.80,160.60 L392.30,160.51 L392.80,160.44 L393.30,160.39 L393.80,160.37 L394.30,160.38 L394.80,160.41 L395.30,160.47 L395.80,160.53 L396.30,160.59 L396.80,160.61 L397.30,160.60 L397.80,160.56 L398.30,160.51 L398.80,160.46 L399.30,160.42 L399.80,160.39 L400.30,160.37 L400.80,160.36 L401.30,160.37 L401.80,160.38 L402.30,160.41 L402.80,160.44 L403.30,160.45 L403.80,160.45 L404.30,160.44 L404.80,160.41 L405.30,160.38 L405.80,160.36 L406.30,160.35 L406.80,160.34 L407.30,160.34 L407.80,160.34 L408.30,160.34 L408.80,160.33 L409.30,160.33 L409.80,160.33 L410.30,160.34 L410.80,160.37 L411.30,160.41 L411.80,160.46 L412.30,160.49 L412.80,160.51 L413.30,160.50 L413.80,160.45 L414.30,160.38 L414.80,160.29 L415.30,160.20 L415.80,160.13 L416.30,160.08 L416.80,160.06 L417.30,160.05 L417.80,160.07 L418.30,160.10 L418.80,160.13 L419.30,160.15 L419.80,160.16 L420.30,160.14 L420.80,160.12 L421.30,160.10 L421.80,160.08 L422.30,160.07 L422.80,160.08 L423.30,160.11 L423.80,160.17 L424.30,160.27 L424.80,160.37 L425.30,160.47 L425.80,160.54 L426.30,160.55 L426.80,160.52 L427.30,160.46 L427.80,160.39 L428.30,160.33 L428.80,160.29 L429.30,160.28 L429.80,160.30 L430.30,160.35 L430.80,160.39 L431.30,160.43 L431.80,160.44 L432.30,160.42 L432.80,160.39 L433.30,160.36 L433.80,160.33 L434.30,160.33 L434.80,160.36 L435.30,160.40 L435.80,160.43 L436.30,160.43 L436.80,160.41 L437.30,160.38 L437.80,160.37 L438.30,160.39 L438.80,160.44 L439.30,160.51 L439.80,160.59 L440.30,160.66 L440.80,160.74 L441.30,160.82 L441.80,160.92 L442.30,161.04 L442.80,161.17 L443.30,161.33 L443.80,161.52 L444.30,161.75 L444.80,162.03 L445.30,162.37 L445.80,162.77 L446.30,163.21 L446.80,163.67 L447.30,164.11 L447.80,164.50 L448.30,164.80 L448.80,164.97 L449.30,165.00 L449.80,164.86 L450.30,164.53 L450.80,163.99 L451.30,163.23 L451.80,162.24 L452.30,161.02 L452.80,159.58 L453.30,157.94 L453.80,156.19 L454.30,154.40 L454.80,152.70 L455.30,151.23 L455.80,150.10 L456.30,149.43 L456.80,149.27 L457.30,149.64 L457.80,150.51 L458.30,151.80 L458.80,153.41 L459.30,155.22 L459.80,157.11 L460.30,158.98 L460.80,160.75 L461.30,162.36 L461.80,163.78 L462.30,164.98 L462.80,165.94 L463.30,166.63 L463.80,167.08 L464.30,167.29 L464.80,167.27 L465.30,167.04 L465.80,166.61 L466.30,165.98 L466.80,165.15 L467.30,164.11 L467.80,162.87 L468.30,161.46 L468.80,159.94 L469.30,158.39 L469.80,156.90 L470.30,155.57 L470.80,154.48 L471.30,153.69 L471.80,153.26 L472.30,153.20 L472.80,153.50 L473.30,154.10 L473.80,154.96 L474.30,155.98 L474.80,157.08 L475.30,158.20 L475.80,159.28 L476.30,160.27 L476.80,161.13 L477.30,161.84 L477.80,162.36 L478.30,162.72 L478.80,162.92 L479.30,163.00 L479.80,162.97 L480.30,162.87 L480.80,162.71 L481.30,162.53 L481.80,162.33 L482.30,162.12 L482.80,161.91 L483.30,161.72 L483.80,161.56 L484.30,161.42 L484.80,161.31 L485.30,161.22 L485.80,161.16 L486.30,161.09 L486.80,161.04 L487.30,160.97 L487.80,160.90 L488.30,160.82 L488.80,160.72 L489.30,160.64 L489.80,160.56 L490.30,160.52 L490.80,160.49 L491.30,160.50 L491.80,160.52 L492.30,160.53 L492.80,160.51 L493.30,160.44 L493.80,160.33 L494.30,160.20 L494.80,160.09 L495.30,160.03 L495.80,160.01 L496.30,160.05 L496.80,160.11 L497.30,160.19 L497.80,160.27 L498.30,160.35 L498.80,160.42 L499.30,160.48 L499.80,160.53 L500.30,160.55 L500.80,160.53 L501.30,160.48 L501.80,160.39 L502.30,160.29 L502.80,160.18 L503.30,160.11 L503.80,160.07 L504.30,160.08 L504.80,160.13 L505.30,160.21 L505.80,160.30 L506.30,160.39 L506.80,160.46 L507.30,160.51 L507.80,160.54 L508.30,160.56 L508.80,160.59 L509.30,160.62 L509.80,160.65 L510.30,160.67 L510.80,160.67 L511.30,160.64 L511.80,160.58 L512.30,160.51 L512.80,160.44 L513.30,160.39 L513.80,160.37 L514.30,160.38 L514.80,160.41 L515.30,160.47 L515.80,160.53 L516.30,160.58 L516.80,160.60"/>
<path d="M305.30,173.73 L305.80,173.65 L306.30,173.57 L306.80,173.50 L307.30,173.44 L307.80,173.40 L308.30,173.39 L308.80,173.40 L309.30,173.43 L309.80,173.48 L310.30,173.54 L310.80,173.58 L311.30,173.60 L311.80,173.61 L312.30,173.59 L312.80,173.55 L313.30,173.50 L313.80,173.44 L314.30,173.38 L314.80,173.32 L315.30,173.28 L315.80,173.27 L316.30,173.28 L316.80,173.30 L317.30,173.34 L317.80,173.38 L318.30,173.42 L318.80,173.46 L319.30,173.49 L319.80,173.52 L320.30,173.55 L320.80,173.59 L321.30,173.62 L321.80,173.64 L322.30,173.66 L322.80,173.65 L323.30,173.64 L323.80,173.61 L324.30,173.59 L324.80,173.57 L325.30,173.55 L325.80,173.53 L326.30,173.53 L326.80,173.55 L327.30,173.58 L327.80,173.64 L328.30,173.71 L328.80,173.78 L329.30,173.85 L329.80,173.90 L330.30,173.93 L330.80,173.93 L331.30,173.90 L331.80,173.86 L332.30,173.82 L332.80,173.79 L333.30,173.78 L333.80,173.79 L334.30,173.81 L334.80,173.84 L335.30,173.87 L335.80,173.89 L336.30,173.92 L336.80,173.95 L337.30,174.00 L337.80,174.09 L338.30,174.20 L338.80,174.33 L339.30,174.47 L339.80,174.63 L340.30,174.80 L340.80,174.96 L341.30,175.12 L341.80,175.26 L342.30,175.39 L342.80,175.49 L343.30,175.55 L343.80,175.58 L344.30,175.55 L344.80,175.45 L345.30,175.25 L345.80,174.90 L346.30,174.41 L346.80,173.77 L347.30,173.01 L347.80,172.14 L348.30,171.22 L348.80,170.30 L349.30,169.45 L349.80,168.74 L350.30,168.24 L350.80,168.00 L351.30,168.07 L351.80,168.44 L352.30,169.07 L352.80,169.89 L353.30,170.87 L353.80,171.93 L354.30,173.02 L354.80,174.09 L355.30,175.08 L355.80,175.95 L356.30,176.69 L356.80,177.27 L357.30,177.68 L357.80,177.91 L358.30,177.96 L358.80,177.84 L359.30,177.55 L359.80,177.10 L360.30,176.49 L360.80,175.74 L361.30,174.86 L361.80,173.85 L362.30,172.76 L362.80,171.64 L363.30,170.55 L363.80,169.54 L364.30,168.67 L364.80,168.00 L365.30,167.56 L365.80,167.38 L366.30,167.49 L366.80,167.87 L367.30,168.50 L367.80,169.31 L368.30,170.25 L368.80,171.25 L369.30,172.24 L369.80,173.13 L370.30,173.91 L370.80,174.55 L371.30,175.04 L371.80,175.39 L372.30,175.60 L372.80,175.71 L373.30,175.73 L373.80,175.68 L374.30,175.57 L374.80,175.43 L375.30,175.26 L375.80,175.06 L376.30,174.85 L376.80,174.62 L377.30,174.40 L377.80,174.19 L378.30,174.00 L378.80,173.83 L379.30,173.70 L379.80,173.60 L380.30,173.53 L380.80,173.50 L381.30,173.50 L381.80,173.51 L382.30,173.53 L382.80,173.53 L383.30,173.51 L383.80,173.45 L384.30,173.37 L384.80,173.29 L385.30,173.24 L385.80,173.23 L386.30,173.25 L386.80,173.29 L387.30,173.33 L387.80,173.38 L388.30,173.42 L388.80,173.46 L389.30,173.49 L389.80,173.51 L390.30,173.52 L390.80,173.53 L391.30,173.54 L391.80,173.58 L392.30,173.62 L392.80,173.67 L393.30,173.70 L393.80,173.71 L394.30,173.68 L394.80,173.62 L395.30,173.54 L395.80,173.46 L396.30,173.40 L396.80,173.37 L397.30,173.36 L397.80,173.37 L398.30,173.39 L398.80,173.42 L399.30,173.44 L399.80,173.45 L400.30,173.45 L400.80,173.46 L401.30,173.45 L401.80,173.44 L402.30,173.43 L402.80,173.42 L403.30,173.44 L403.80,173.48 L404.30,173.54 L404.80,173.61 L405.30,173.68 L405.80,173.72 L406.30,173.71 L406.80,173.67 L407.30,173.58 L407.80,173.47 L408.30,173.36 L408.80,173.25 L409.30,173.17 L409.80,173.11 L410.30,173.09 L410.80,173.10 L411.30,173.13 L411.80,173.18 L412.30,173.24 L412.80,173.31 L413.30,173.39 L413.80,173.45 L414.30,173.52 L414.80,173.58 L415.30,173.65 L415.80,173.72 L416.30,173.78 L416.80,173.84 L417.30,173.86 L417.80,173.86 L418.30,173.83 L418.80,173.79 L419.30,173.74 L419.80,173.71 L420.30,173.69 L420.80,173.68 L421.30,173.67 L421.80,173.65 L422.30,173.60 L422.80,173.53 L423.30,173.43 L423.80,173.33 L424.30,173.24 L424.80,173.18 L425.30,173.16 L425.80,173.19 L426.30,173.24 L426.80,173.31 L427.30,173.38 L427.80,173.42 L428.30,173.43 L428.80,173.42 L429.30,173.40 L429.80,173.41 L430.30,173.44 L430.80,173.48 L431.30,173.52 L431.80,173.55 L432.30,173.55 L432.80,173.53 L433.30,173.49 L433.80,173.44 L434.30,173.40 L434.80,173.39 L435.30,173.39 L435.80,173.41 L436.30,173.43 L436.80,173.46 L437.30,173.48 L437.80,173.50 L438.30,173.51 L438.80,173.53 L439.30,173.56 L439.80,173.60 L440.30,173.63 L440.80,173.66 L441.30,173.70 L441.80,173.78 L442.30,173.91 L442.80,174.11 L443.30,174.38 L443.80,174.70 L444.30,175.05 L444.80,175.41 L445.30,175.77 L445.80,176.13 L446.30,176.50 L446.80,176.87 L447.30,177.23 L447.80,177.57 L448.30,177.87 L448.80,178.08 L449.30,178.17 L449.80,178.09 L450.30,177.79 L450.80,177.25 L451.30,176.43 L451.80,175.34 L452.30,173.98 L452.80,172.38 L453.30,170.57 L453.80,168.61 L454.30,166.59 L454.80,164.65 L455.30,162.94 L455.80,161.59 L456.30,160.74 L456.80,160.48 L457.30,160.82 L457.80,161.76 L458.30,163.20 L458.80,165.04 L459.30,167.14 L459.80,169.36 L460.30,171.54 L460.80,173.59 L461.30,175.44 L461.80,177.02 L462.30,178.32 L462.80,179.32 L463.30,180.02 L463.80,180.42 L464.30,180.55 L464.80,180.43 L465.30,180.10 L465.80,179.57 L466.30,178.85 L466.80,177.96 L467.30,176.91 L467.80,175.73 L468.30,174.45 L468.80,173.12 L469.30,171.80 L469.80,170.55 L470.30,169.44 L470.80,168.52 L471.30,167.86 L471.80,167.50 L472.30,167.45 L472.80,167.69 L473.30,168.18 L473.80,168.88 L474.30,169.72 L474.80,170.65 L475.30,171.60 L475.80,172.53 L476.30,173.37 L476.80,174.11 L477.30,174.74 L477.80,175.22 L478.30,175.58 L478.80,175.79 L479.30,175.87 L479.80,175.83 L480.30,175.69 L480.80,175.47 L481.30,175.23 L481.80,174.97 L482.30,174.74 L482.80,174.55 L483.30,174.39 L483.80,174.26 L484.30,174.14 L484.80,174.01 L485.30,173.90 L485.80,173.80 L486.30,173.71 L486.80,173.66 L487.30,173.64 L487.80,173.64 L488.30,173.66 L488.80,173.67 L489.30,173.66 L489.80,173.63 L490.30,173.59 L490.80,173.53 L491.30,173.47 L491.80,173.41 L492.30,173.35 L492.80,173.29 L493.30,173.23 L493.80,173.18 L494.30,173.15 L494.80,173.13 L495.30,173.15 L495.80,173.19 L496.30,173.26 L496.80,173.33 L497.30,173.39 L497.80,173.44 L498.30,173.46 L498.80,173.47 L499.30,173.49 L499.80,173.52 L500.30,173.55 L500.80,173.57 L501.30,173.58 L501.80,173.57 L502.30,173.55 L502.80,173.52 L503.30,173.50 L503.80,173.47 L504.30,173.44 L504.80,173.42 L505.30,173.40 L505.80,173.40 L506.30,173.42 L506.80,173.46 L507.30,173.52 L507.80,173.58 L508.30,173.65 L508.80,173.70 L509.30,173.71 L509.80,173.69 L510.30,173.63 L510.80,173.54 L511.30,173.44 L511.80,173.35 L512.30,173.28 L512.80,173.25 L513.30,173.25 L513.80,173.28 L514.30,173.33 L514.80,173.39 L515.30,173.48 L515.80,173.57 L516.30,173.63 L516.80,173.67"/>
<path d="M305.30,186.21 L305.80,186.24 L306.30,186.29 L306.80,186.34 L307.30,186.40 L307.80,186.47 L308.30,186.56 L308.80,186.68 L309.30,186.80 L309.80,186.92 L310.30,187.01 L310.80,187.07 L311.30,187.08 L311.80,187.07 L312.30,187.05 L312.80,187.03 L313.30,187.02 L313.80,187.01 L314.30,186.99 L314.80,186.95 L315.30,186.89 L315.80,186.82 L316.30,186.74 L316.80,186.66 L317.30,186.58 L317.80,186.52 L318.30,186.48 L318.80,186.49 L319.30,186.52 L319.80,186.57 L320.30,186.61 L320.80,186.62 L321.30,186.61 L321.80,186.56 L322.30,186.49 L322.80,186.42 L323.30,186.38 L323.80,186.36 L324.30,186.37 L324.80,186.42 L325.30,186.49 L325.80,186.57 L326.30,186.67 L326.80,186.74 L327.30,186.80 L327.80,186.81 L328.30,186.78 L328.80,186.72 L329.30,186.66 L329.80,186.61 L330.30,186.60 L330.80,186.63 L331.30,186.68 L331.80,186.76 L332.30,186.82 L332.80,186.87 L333.30,186.90 L333.80,186.90 L334.30,186.87 L334.80,186.83 L335.30,186.77 L335.80,186.72 L336.30,186.68 L336.80,186.67 L337.30,186.69 L337.80,186.76 L338.30,186.88 L338.80,187.06 L339.30,187.29 L339.80,187.56 L340.30,187.87 L340.80,188.17 L341.30,188.45 L341.80,188.68 L342.30,188.86 L342.80,188.97 L343.30,188.99 L343.80,188.92 L344.30,188.75 L344.80,188.48 L345.30,188.13 L345.80,187.66 L346.30,187.09 L346.80,186.42 L347.30,185.66 L347.80,184.83 L348.30,183.99 L348.80,183.17 L349.30,182.44 L349.80,181.86 L350.30,181.47 L350.80,181.33 L351.30,181.44 L351.80,181.80 L352.30,182.40 L352.80,183.18 L353.30,184.10 L353.80,185.10 L354.30,186.12 L354.80,187.10 L355.30,188.02 L355.80,188.84 L356.30,189.54 L356.80,190.12 L357.30,190.57 L357.80,190.84 L358.30,190.93 L358.80,190.83 L359.30,190.56 L359.80,190.12 L360.30,189.55 L360.80,188.86 L361.30,188.04 L361.80,187.11 L362.30,186.09 L362.80,185.03 L363.30,183.96 L363.80,182.96 L364.30,182.07 L364.80,181.35 L365.30,180.86 L365.80,180.65 L366.30,180.72 L366.80,181.08 L367.30,181.66 L367.80,182.42 L368.30,183.27 L368.80,184.16 L369.30,185.05 L369.80,185.89 L370.30,186.65 L370.80,187.32 L371.30,187.87 L371.80,188.31 L372.30,188.64 L372.80,188.85 L373.30,188.94 L373.80,188.93 L374.30,188.84 L374.80,188.68 L375.30,188.48 L375.80,188.26 L376.30,188.04 L376.80,187.83 L377.30,187.63 L377.80,187.46 L378.30,187.32 L378.80,187.23 L379.30,187.17 L379.80,187.15 L380.30,187.16 L380.80,187.18 L381.30,187.20 L381.80,187.21 L382.30,187.20 L382.80,187.16 L383.30,187.08 L383.80,186.97 L384.30,186.86 L384.80,186.76 L385.30,186.68 L385.80,186.63 L386.30,186.62 L386.80,186.63 L387.30,186.64 L387.80,186.66 L388.30,186.65 L388.80,186.62 L389.30,186.56 L389.80,186.48 L390.30,186.38 L390.80,186.29 L391.30,186.21 L391.80,186.16 L392.30,186.14 L392.80,186.14 L393.30,186.17 L393.80,186.21 L394.30,186.26 L394.80,186.31 L395.30,186.36 L395.80,186.41 L396.30,186.43 L396.80,186.44 L397.30,186.43 L397.80,186.43 L398.30,186.44 L398.80,186.46 L399.30,186.49 L399.80,186.53 L400.30,186.55 L400.80,186.55 L401.30,186.51 L401.80,186.47 L402.30,186.41 L402.80,186.35 L403.30,186.30 L403.80,186.27 L404.30,186.24 L404.80,186.26 L405.30,186.30 L405.80,186.37 L406.30,186.45 L406.80,186.53 L407.30,186.58 L407.80,186.60 L408.30,186.60 L408.80,186.58 L409.30,186.57 L409.80,186.57 L410.30,186.58 L410.80,186.61 L411.30,186.64 L411.80,186.68 L412.30,186.72 L412.80,186.77 L413.30,186.82 L413.80,186.86 L414.30,186.89 L414.80,186.87 L415.30,186.81 L415.80,186.71 L416.30,186.59 L416.80,186.48 L417.30,186.39 L417.80,186.35 L418.30,186.35 L418.80,186.38 L419.30,186.44 L419.80,186.52 L420.30,186.61 L420.80,186.70 L421.30,186.79 L421.80,186.87 L422.30,186.92 L422.80,186.94 L423.30,186.96 L423.80,186.95 L424.30,186.94 L424.80,186.92 L425.30,186.88 L425.80,186.84 L426.30,186.78 L426.80,186.71 L427.30,186.63 L427.80,186.55 L428.30,186.48 L428.80,186.42 L429.30,186.38 L429.80,186.36 L430.30,186.36 L430.80,186.38 L431.30,186.42 L431.80,186.47 L432.30,186.54 L432.80,186.59 L433.30,186.62 L433.80,186.63 L434.30,186.63 L434.80,186.61 L435.30,186.60 L435.80,186.59 L436.30,186.60 L436.80,186.63 L437.30,186.67 L437.80,186.73 L438.30,186.78 L438.80,186.80 L439.30,186.80 L439.80,186.76 L440.30,186.69 L440.80,186.62 L441.30,186.59 L441.80,186.60 L442.30,186.69 L442.80,186.87 L443.30,187.13 L443.80,187.47 L444.30,187.86 L444.80,188.29 L445.30,188.75 L445.80,189.24 L446.30,189.75 L446.80,190.28 L447.30,190.82 L447.80,191.33 L448.30,191.81 L448.80,192.19 L449.30,192.43 L449.80,192.47 L450.30,192.25 L450.80,191.71 L451.30,190.83 L451.80,189.60 L452.30,188.02 L452.80,186.13 L453.30,183.99 L453.80,181.69 L454.30,179.36 L454.80,177.15 L455.30,175.23 L455.80,173.76 L456.30,172.85 L456.80,172.59 L457.30,173.00 L457.80,174.04 L458.30,175.62 L458.80,177.62 L459.30,179.88 L459.80,182.24 L460.30,184.57 L460.80,186.78 L461.30,188.76 L461.80,190.49 L462.30,191.92 L462.80,193.02 L463.30,193.79 L463.80,194.23 L464.30,194.36 L464.80,194.20 L465.30,193.80 L465.80,193.19 L466.30,192.42 L466.80,191.49 L467.30,190.44 L467.80,189.28 L468.30,188.03 L468.80,186.74 L469.30,185.44 L469.80,184.20 L470.30,183.07 L470.80,182.11 L471.30,181.42 L471.80,181.03 L472.30,180.97 L472.80,181.23 L473.30,181.76 L473.80,182.50 L474.30,183.39 L474.80,184.36 L475.30,185.35 L475.80,186.29 L476.30,187.13 L476.80,187.81 L477.30,188.30 L477.80,188.61 L478.30,188.76 L478.80,188.80 L479.30,188.78 L479.80,188.72 L480.30,188.66 L480.80,188.60 L481.30,188.51 L481.80,188.39 L482.30,188.24 L482.80,188.07 L483.30,187.90 L483.80,187.75 L484.30,187.62 L484.80,187.52 L485.30,187.45 L485.80,187.38 L486.30,187.30 L486.80,187.20 L487.30,187.10 L487.80,186.99 L488.30,186.91 L488.80,186.84 L489.30,186.82 L489.80,186.82 L490.30,186.85 L490.80,186.87 L491.30,186.88 L491.80,186.87 L492.30,186.85 L492.80,186.82 L493.30,186.78 L493.80,186.74 L494.30,186.70 L494.80,186.65 L495.30,186.60 L495.80,186.55 L496.30,186.49 L496.80,186.45 L497.30,186.39 L497.80,186.34 L498.30,186.29 L498.80,186.23 L499.30,186.19 L499.80,186.17 L500.30,186.18 L500.80,186.23 L501.30,186.31 L501.80,186.39 L502.30,186.47 L502.80,186.51 L503.30,186.51 L503.80,186.48 L504.30,186.46 L504.80,186.45 L505.30,186.49 L505.80,186.55 L506.30,186.63 L506.80,186.71 L507.30,186.77 L507.80,186.83 L508.30,186.88 L508.80,186.92 L509.30,186.96 L509.80,186.97 L510.30,186.96 L510.80,186.93 L511.30,186.88 L511.80,186.82 L512.30,186.74 L512.80,186.67 L513.30,186.59 L513.80,186.51 L514.30,186.45 L514.80,186.40 L515.30,186.37 L515.80,186.37 L516.30,186.39 L516.80,186.42"/>
<path d="M305.30,199.39 L305.80,199.36 L306.30,199.35 L306.80,199.37 L307.30,199.42 L307.80,199.49 L308.30,199.56 L308.80,199.62 L309.30,199.66 L309.80,199.69 L310.30,199.70 L310.80,199.71 L311.30,199.72 L311.80,199.75 L312.30,199.81 L312.80,199.86 L313.30,199.90 L313.80,199.90 L314.30,199.87 L314.80,199.82 L315.30,199.74 L315.80,199.67 L316.30,199.62 L316.80,199.58 L317.30,199.55 L317.80,199.51 L318.30,199.45 L318.80,199.39 L319.30,199.32 L319.80,199.26 L320.30,199.21 L320.80,199.19 L321.30,199.19 L321.80,199.23 L322.30,199.28 L322.80,199.34 L323.30,199.39 L323.80,199.42 L324.30,199.41 L324.80,199.36 L325.30,199.29 L325.80,199.22 L326.30,199.18 L326.80,199.18 L327.30,199.21 L327.80,199.26 L328.30,199.30 L328.80,199.32 L329.30,199.33 L329.80,199.33 L330.30,199.35 L330.80,199.40 L331.30,199.48 L331.80,199.56 L332.30,199.65 L332.80,199.72 L333.30,199.77 L333.80,199.82 L334.30,199.87 L334.80,199.93 L335.30,200.00 L335.80,200.10 L336.30,200.20 L336.80,200.29 L337.30,200.36 L337.80,200.43 L338.30,200.52 L338.80,200.64 L339.30,200.81 L339.80,201.03 L340.30,201.29 L340.80,201.57 L341.30,201.86 L341.80,202.14 L342.30,202.37 L342.80,202.55 L343.30,202.65 L343.80,202.65 L344.30,202.53 L344.80,202.28 L345.30,201.86 L345.80,201.28 L346.30,200.53 L346.80,199.65 L347.30,198.65 L347.80,197.57 L348.30,196.47 L348.80,195.39 L349.30,194.41 L349.80,193.58 L350.30,192.99 L350.80,192.69 L351.30,192.73 L351.80,193.11 L352.30,193.81 L352.80,194.78 L353.30,195.94 L353.80,197.22 L354.30,198.53 L354.80,199.82 L355.30,201.02 L355.80,202.12 L356.30,203.07 L356.80,203.87 L357.30,204.49 L357.80,204.92 L358.30,205.14 L358.80,205.13 L359.30,204.88 L359.80,204.41 L360.30,203.74 L360.80,202.88 L361.30,201.88 L361.80,200.75 L362.30,199.56 L362.80,198.35 L363.30,197.18 L363.80,196.08 L364.30,195.12 L364.80,194.34 L365.30,193.80 L365.80,193.52 L366.30,193.53 L366.80,193.85 L367.30,194.45 L367.80,195.28 L368.30,196.29 L368.80,197.40 L369.30,198.54 L369.80,199.62 L370.30,200.59 L370.80,201.37 L371.30,201.96 L371.80,202.33 L372.30,202.52 L372.80,202.55 L373.30,202.47 L373.80,202.31 L374.30,202.10 L374.80,201.85 L375.30,201.58 L375.80,201.30 L376.30,201.02 L376.80,200.74 L377.30,200.48 L377.80,200.24 L378.30,200.02 L378.80,199.83 L379.30,199.67 L379.80,199.55 L380.30,199.46 L380.80,199.42 L381.30,199.39 L381.80,199.40 L382.30,199.44 L382.80,199.51 L383.30,199.60 L383.80,199.68 L384.30,199.72 L384.80,199.71 L385.30,199.64 L385.80,199.53 L386.30,199.41 L386.80,199.30 L387.30,199.23 L387.80,199.19 L388.30,199.19 L388.80,199.22 L389.30,199.26 L389.80,199.33 L390.30,199.40 L390.80,199.46 L391.30,199.50 L391.80,199.50 L392.30,199.47 L392.80,199.42 L393.30,199.38 L393.80,199.37 L394.30,199.40 L394.80,199.46 L395.30,199.54 L395.80,199.62 L396.30,199.69 L396.80,199.76 L397.30,199.81 L397.80,199.83 L398.30,199.83 L398.80,199.80 L399.30,199.77 L399.80,199.75 L400.30,199.73 L400.80,199.73 L401.30,199.72 L401.80,199.71 L402.30,199.70 L402.80,199.67 L403.30,199.66 L403.80,199.64 L404.30,199.63 L404.80,199.63 L405.30,199.63 L405.80,199.64 L406.30,199.65 L406.80,199.67 L407.30,199.67 L407.80,199.67 L408.30,199.68 L408.80,199.70 L409.30,199.72 L409.80,199.73 L410.30,199.73 L410.80,199.72 L411.30,199.70 L411.80,199.68 L412.30,199.64 L412.80,199.59 L413.30,199.52 L413.80,199.45 L414.30,199.40 L414.80,199.35 L415.30,199.32 L415.80,199.29 L416.30,199.26 L416.80,199.23 L417.30,199.21 L417.80,199.22 L418.30,199.26 L418.80,199.32 L419.30,199.41 L419.80,199.52 L420.30,199.64 L420.80,199.74 L421.30,199.81 L421.80,199.85 L422.30,199.85 L422.80,199.82 L423.30,199.79 L423.80,199.76 L424.30,199.74 L424.80,199.72 L425.30,199.70 L425.80,199.66 L426.30,199.62 L426.80,199.59 L427.30,199.56 L427.80,199.55 L428.30,199.56 L428.80,199.59 L429.30,199.61 L429.80,199.63 L430.30,199.63 L430.80,199.62 L431.30,199.60 L431.80,199.58 L432.30,199.57 L432.80,199.58 L433.30,199.59 L433.80,199.63 L434.30,199.66 L434.80,199.68 L435.30,199.70 L435.80,199.71 L436.30,199.71 L436.80,199.71 L437.30,199.71 L437.80,199.71 L438.30,199.72 L438.80,199.76 L439.30,199.83 L439.80,199.92 L440.30,200.03 L440.80,200.15 L441.30,200.29 L441.80,200.44 L442.30,200.62 L442.80,200.84 L443.30,201.09 L443.80,201.37 L444.30,201.65 L444.80,201.96 L445.30,202.27 L445.80,202.64 L446.30,203.05 L446.80,203.51 L447.30,204.00 L447.80,204.48 L448.30,204.90 L448.80,205.20 L449.30,205.34 L449.80,205.28 L450.30,204.99 L450.80,204.42 L451.30,203.53 L451.80,202.32 L452.30,200.76 L452.80,198.88 L453.30,196.76 L453.80,194.48 L454.30,192.18 L454.80,190.03 L455.30,188.16 L455.80,186.71 L456.30,185.80 L456.80,185.50 L457.30,185.84 L457.80,186.79 L458.30,188.28 L458.80,190.20 L459.30,192.41 L459.80,194.79 L460.30,197.20 L460.80,199.53 L461.30,201.69 L461.80,203.58 L462.30,205.16 L462.80,206.40 L463.30,207.28 L463.80,207.81 L464.30,208.01 L464.80,207.90 L465.30,207.51 L465.80,206.87 L466.30,206.01 L466.80,204.94 L467.30,203.69 L467.80,202.29 L468.30,200.78 L468.80,199.22 L469.30,197.69 L469.80,196.26 L470.30,195.00 L470.80,193.98 L471.30,193.27 L471.80,192.88 L472.30,192.83 L472.80,193.10 L473.30,193.68 L473.80,194.50 L474.30,195.50 L474.80,196.62 L475.30,197.76 L475.80,198.86 L476.30,199.86 L476.80,200.72 L477.30,201.42 L477.80,201.95 L478.30,202.32 L478.80,202.54 L479.30,202.63 L479.80,202.61 L480.30,202.48 L480.80,202.29 L481.30,202.04 L481.80,201.78 L482.30,201.53 L482.80,201.28 L483.30,201.06 L483.80,200.86 L484.30,200.67 L484.80,200.50 L485.30,200.34 L485.80,200.19 L486.30,200.06 L486.80,199.95 L487.30,199.87 L487.80,199.82 L488.30,199.79 L488.80,199.77 L489.30,199.74 L489.80,199.72 L490.30,199.70 L490.80,199.69 L491.30,199.68 L491.80,199.68 L492.30,199.69 L492.80,199.70 L493.30,199.68 L493.80,199.64 L494.30,199.57 L494.80,199.48 L495.30,199.40 L495.80,199.33 L496.30,199.29 L496.80,199.30 L497.30,199.34 L497.80,199.41 L498.30,199.51 L498.80,199.62 L499.30,199.74 L499.80,199.85 L500.30,199.92 L500.80,199.93 L501.30,199.90 L501.80,199.83 L502.30,199.75 L502.80,199.66 L503.30,199.59 L503.80,199.55 L504.30,199.54 L504.80,199.57 L505.30,199.63 L505.80,199.72 L506.30,199.82 L506.80,199.89 L507.30,199.94 L507.80,199.94 L508.30,199.91 L508.80,199.86 L509.30,199.79 L509.80,199.71 L510.30,199.65 L510.80,199.60 L511.30,199.57 L511.80,199.57 L512.30,199.58 L512.80,199.61 L513.30,199.63 L513.80,199.64 L514.30,199.64 L514.80,199.64 L515.30,199.63 L515.80,199.63 L516.30,199.63 L516.80,199.64"/>
</g>
<text x="415.00" y="41.10" font-size="11.2" text-anchor="middle" fill="#000" >300 K</text>
<text x="415.00" y="54.24" font-size="11.2" text-anchor="middle" fill="#000" >290 K</text>
<text x="415.00" y="67.38" font-size="11.2" text-anchor="middle" fill="#000" >280 K</text>
<text x="415.00" y="80.52" font-size="11.2" text-anchor="middle" fill="#000" >275 K</text>
<text x="415.00" y="93.66" font-size="11.2" text-anchor="middle" fill="#000" >270 K</text>
<text x="415.00" y="106.80" font-size="11.2" text-anchor="middle" fill="#000" >265 K</text>
<text x="415.00" y="119.94" font-size="11.2" text-anchor="middle" fill="#000" >260 K</text>
<text x="415.00" y="133.08" font-size="11.2" text-anchor="middle" fill="#000" >255 K</text>
<text x="415.00" y="146.22" font-size="11.2" text-anchor="middle" fill="#000" >250 K</text>
<text x="415.00" y="159.36" font-size="11.2" text-anchor="middle" fill="#000" >200 K</text>
<text x="415.00" y="172.50" font-size="11.2" text-anchor="middle" fill="#000" >150 K</text>
<text x="415.00" y="185.64" font-size="11.2" text-anchor="middle" fill="#000" >100 K</text>
<text x="415.00" y="198.78" font-size="11.2" text-anchor="middle" fill="#000" >30 K</text>
<line x1="366.00" y1="24.5" x2="366.00" y2="194.5" stroke="#1818bc" stroke-width="1.6" stroke-dasharray="2.5,0.85"/>
<line x1="472.00" y1="13.2" x2="472.00" y2="194.5" stroke="#1818bc" stroke-width="1.6" stroke-dasharray="2.5,0.85"/>
<line x1="351.00" y1="76.2" x2="351.00" y2="195" stroke="#6cc832" stroke-width="1.4" stroke-dasharray="2.5,0.85"/>
<line x1="456.80" y1="76.2" x2="456.80" y2="195" stroke="#6cc832" stroke-width="1.4" stroke-dasharray="2.5,0.85"/>
<text x="365.80" y="22.80" font-size="14.2" text-anchor="middle" fill="#000" >A</text>
<text x="472.00" y="11.80" font-size="14.2" text-anchor="middle" fill="#000" >A</text>
<text x="366.80" y="208.60" font-size="14.2" text-anchor="middle" fill="#000" >A</text>
<text x="472.00" y="208.60" font-size="14.2" text-anchor="middle" fill="#000" >A</text>
<text x="351.00" y="208.60" font-size="14.2" text-anchor="middle" fill="#000" >B</text>
<text x="456.00" y="208.60" font-size="14.2" text-anchor="middle" fill="#000" >B</text>
<rect x="305.25" y="0.55" width="211.70" height="211.85" fill="none" stroke="#3a3a3a" stroke-width="1.0"/>
<text x="305.30" y="230.00" font-size="17.7" text-anchor="middle" fill="#000" >65</text>
<line x1="340.57" y1="212.4" x2="340.57" y2="207.4" stroke="#3a3a3a" stroke-width="1.0"/>
<text x="340.57" y="230.00" font-size="17.7" text-anchor="middle" fill="#000" >64</text>
<line x1="375.84" y1="212.4" x2="375.84" y2="207.4" stroke="#3a3a3a" stroke-width="1.0"/>
<text x="375.84" y="230.00" font-size="17.7" text-anchor="middle" fill="#000" >63</text>
<line x1="411.11" y1="212.4" x2="411.11" y2="207.4" stroke="#3a3a3a" stroke-width="1.0"/>
<text x="411.11" y="230.00" font-size="17.7" text-anchor="middle" fill="#000" >62</text>
<line x1="446.38" y1="212.4" x2="446.38" y2="207.4" stroke="#3a3a3a" stroke-width="1.0"/>
<text x="446.38" y="230.00" font-size="17.7" text-anchor="middle" fill="#000" >61</text>
<line x1="481.65" y1="212.4" x2="481.65" y2="207.4" stroke="#3a3a3a" stroke-width="1.0"/>
<text x="481.65" y="230.00" font-size="17.7" text-anchor="middle" fill="#000" >60</text>
<text x="516.92" y="230.00" font-size="17.7" text-anchor="middle" fill="#000" >59</text>
<text x="502.80" y="21.30" font-size="17.4" text-anchor="middle" fill="#000" >(b)</text>
<text x="411.20" y="250.20" font-size="17.4" text-anchor="middle" fill="#000" >Binding Energy (eV)</text>
<g fill="none" stroke="#e42a32" stroke-width="0.55">
<circle cx="24.9" cy="407.9" r="2.4"/>
<circle cx="25.4" cy="407.9" r="2.4"/>
<circle cx="25.9" cy="407.6" r="2.4"/>
<circle cx="26.4" cy="407.9" r="2.4"/>
<circle cx="26.9" cy="407.4" r="2.4"/>
<circle cx="27.4" cy="407.5" r="2.4"/>
<circle cx="27.9" cy="407.8" r="2.4"/>
<circle cx="28.4" cy="407.7" r="2.4"/>
<circle cx="28.9" cy="408.4" r="2.4"/>
<circle cx="29.4" cy="407.0" r="2.4"/>
<circle cx="29.9" cy="407.2" r="2.4"/>
<circle cx="30.4" cy="407.2" r="2.4"/>
<circle cx="30.9" cy="407.6" r="2.4"/>
<circle cx="31.4" cy="407.6" r="2.4"/>
<circle cx="31.9" cy="406.8" r="2.4"/>
<circle cx="32.4" cy="407.2" r="2.4"/>
<circle cx="32.9" cy="406.6" r="2.4"/>
<circle cx="33.4" cy="407.0" r="2.4"/>
<circle cx="33.9" cy="406.8" r="2.4"/>
<circle cx="34.4" cy="406.7" r="2.4"/>
<circle cx="34.9" cy="406.7" r="2.4"/>
<circle cx="35.4" cy="407.1" r="2.4"/>
<circle cx="35.9" cy="406.6" r="2.4"/>
<circle cx="36.4" cy="405.9" r="2.4"/>
<circle cx="36.9" cy="406.4" r="2.4"/>
<circle cx="37.4" cy="406.1" r="2.4"/>
<circle cx="37.9" cy="406.5" r="2.4"/>
<circle cx="38.4" cy="406.2" r="2.4"/>
<circle cx="38.9" cy="406.0" r="2.4"/>
<circle cx="39.4" cy="405.9" r="2.4"/>
<circle cx="39.9" cy="405.8" r="2.4"/>
<circle cx="40.4" cy="405.3" r="2.4"/>
<circle cx="40.9" cy="405.5" r="2.4"/>
<circle cx="41.4" cy="405.4" r="2.4"/>
<circle cx="41.9" cy="404.6" r="2.4"/>
<circle cx="42.4" cy="404.6" r="2.4"/>
<circle cx="42.9" cy="405.3" r="2.4"/>
<circle cx="43.4" cy="405.1" r="2.4"/>
<circle cx="43.9" cy="404.2" r="2.4"/>
<circle cx="44.4" cy="404.7" r="2.4"/>
<circle cx="44.9" cy="404.3" r="2.4"/>
<circle cx="45.4" cy="403.9" r="2.4"/>
<circle cx="45.9" cy="404.1" r="2.4"/>
<circle cx="46.4" cy="403.9" r="2.4"/>
<circle cx="46.9" cy="403.7" r="2.4"/>
<circle cx="47.4" cy="403.1" r="2.4"/>
<circle cx="47.9" cy="403.2" r="2.4"/>
<circle cx="48.4" cy="403.1" r="2.4"/>
<circle cx="48.9" cy="402.9" r="2.4"/>
<circle cx="49.4" cy="402.7" r="2.4"/>
<circle cx="49.9" cy="402.2" r="2.4"/>
<circle cx="50.4" cy="402.8" r="2.4"/>
<circle cx="50.9" cy="401.7" r="2.4"/>
<circle cx="51.4" cy="402.1" r="2.4"/>
<circle cx="51.9" cy="400.9" r="2.4"/>
<circle cx="52.4" cy="401.5" r="2.4"/>
<circle cx="52.9" cy="400.7" r="2.4"/>
<circle cx="53.4" cy="400.4" r="2.4"/>
<circle cx="53.9" cy="399.5" r="2.4"/>
<circle cx="54.4" cy="399.8" r="2.4"/>
<circle cx="54.9" cy="398.9" r="2.4"/>
<circle cx="55.4" cy="399.0" r="2.4"/>
<circle cx="55.9" cy="398.4" r="2.4"/>
<circle cx="56.4" cy="397.9" r="2.4"/>
<circle cx="56.9" cy="397.2" r="2.4"/>
<circle cx="57.4" cy="395.7" r="2.4"/>
<circle cx="57.9" cy="395.2" r="2.4"/>
<circle cx="58.4" cy="394.2" r="2.4"/>
<circle cx="58.9" cy="392.9" r="2.4"/>
<circle cx="59.4" cy="391.7" r="2.4"/>
<circle cx="59.9" cy="390.3" r="2.4"/>
<circle cx="60.4" cy="388.0" r="2.4"/>
<circle cx="60.9" cy="385.9" r="2.4"/>
<circle cx="61.4" cy="384.3" r="2.4"/>
<circle cx="61.9" cy="382.5" r="2.4"/>
<circle cx="62.4" cy="379.1" r="2.4"/>
<circle cx="62.9" cy="376.7" r="2.4"/>
<circle cx="63.4" cy="373.1" r="2.4"/>
<circle cx="63.9" cy="370.4" r="2.4"/>
<circle cx="64.4" cy="366.4" r="2.4"/>
<circle cx="64.9" cy="362.9" r="2.4"/>
<circle cx="65.4" cy="358.7" r="2.4"/>
<circle cx="65.9" cy="355.3" r="2.4"/>
<circle cx="66.4" cy="351.3" r="2.4"/>
<circle cx="66.9" cy="347.4" r="2.4"/>
<circle cx="67.4" cy="343.4" r="2.4"/>
<circle cx="67.9" cy="339.2" r="2.4"/>
<circle cx="68.4" cy="336.5" r="2.4"/>
<circle cx="68.9" cy="333.5" r="2.4"/>
<circle cx="69.4" cy="331.2" r="2.4"/>
<circle cx="69.9" cy="329.6" r="2.4"/>
<circle cx="70.4" cy="328.8" r="2.4"/>
<circle cx="70.9" cy="329.1" r="2.4"/>
<circle cx="71.4" cy="329.4" r="2.4"/>
<circle cx="71.9" cy="331.3" r="2.4"/>
<circle cx="72.4" cy="332.2" r="2.4"/>
<circle cx="72.9" cy="334.2" r="2.4"/>
<circle cx="73.4" cy="336.8" r="2.4"/>
<circle cx="73.9" cy="338.8" r="2.4"/>
<circle cx="74.4" cy="341.6" r="2.4"/>
<circle cx="74.9" cy="343.7" r="2.4"/>
<circle cx="75.4" cy="346.1" r="2.4"/>
<circle cx="75.9" cy="348.1" r="2.4"/>
<circle cx="76.4" cy="349.2" r="2.4"/>
<circle cx="76.9" cy="350.7" r="2.4"/>
<circle cx="77.4" cy="351.2" r="2.4"/>
<circle cx="77.9" cy="351.6" r="2.4"/>
<circle cx="78.4" cy="351.6" r="2.4"/>
<circle cx="78.9" cy="351.3" r="2.4"/>
<circle cx="79.4" cy="350.8" r="2.4"/>
<circle cx="79.9" cy="349.4" r="2.4"/>
<circle cx="80.4" cy="346.9" r="2.4"/>
<circle cx="80.9" cy="346.0" r="2.4"/>
<circle cx="81.4" cy="343.8" r="2.4"/>
<circle cx="81.9" cy="342.6" r="2.4"/>
<circle cx="82.4" cy="339.9" r="2.4"/>
<circle cx="82.9" cy="338.1" r="2.4"/>
<circle cx="83.4" cy="336.8" r="2.4"/>
<circle cx="83.9" cy="336.4" r="2.4"/>
<circle cx="84.4" cy="335.5" r="2.4"/>
<circle cx="84.9" cy="335.8" r="2.4"/>
<circle cx="85.4" cy="336.7" r="2.4"/>
<circle cx="85.9" cy="338.2" r="2.4"/>
<circle cx="86.4" cy="340.4" r="2.4"/>
<circle cx="86.9" cy="343.6" r="2.4"/>
<circle cx="87.4" cy="345.6" r="2.4"/>
<circle cx="87.9" cy="350.0" r="2.4"/>
<circle cx="88.4" cy="353.3" r="2.4"/>
<circle cx="88.9" cy="357.3" r="2.4"/>
<circle cx="89.4" cy="361.5" r="2.4"/>
<circle cx="89.9" cy="364.9" r="2.4"/>
<circle cx="90.4" cy="368.8" r="2.4"/>
<circle cx="90.9" cy="372.0" r="2.4"/>
<circle cx="91.4" cy="375.7" r="2.4"/>
<circle cx="91.9" cy="378.7" r="2.4"/>
<circle cx="92.4" cy="380.6" r="2.4"/>
<circle cx="92.9" cy="383.7" r="2.4"/>
<circle cx="93.4" cy="386.0" r="2.4"/>
<circle cx="93.9" cy="388.6" r="2.4"/>
<circle cx="94.4" cy="390.5" r="2.4"/>
<circle cx="94.9" cy="392.0" r="2.4"/>
<circle cx="95.4" cy="393.9" r="2.4"/>
<circle cx="95.9" cy="395.1" r="2.4"/>
<circle cx="96.4" cy="396.4" r="2.4"/>
<circle cx="96.9" cy="397.1" r="2.4"/>
<circle cx="97.4" cy="398.7" r="2.4"/>
<circle cx="97.9" cy="399.1" r="2.4"/>
<circle cx="98.4" cy="399.8" r="2.4"/>
<circle cx="98.9" cy="401.2" r="2.4"/>
<circle cx="99.4" cy="401.4" r="2.4"/>
<circle cx="99.9" cy="402.6" r="2.4"/>
<circle cx="100.4" cy="402.0" r="2.4"/>
<circle cx="100.9" cy="403.0" r="2.4"/>
<circle cx="101.4" cy="403.3" r="2.4"/>
<circle cx="101.9" cy="403.5" r="2.4"/>
<circle cx="102.4" cy="404.0" r="2.4"/>
<circle cx="102.9" cy="404.2" r="2.4"/>
<circle cx="103.4" cy="404.3" r="2.4"/>
<circle cx="103.9" cy="404.7" r="2.4"/>
<circle cx="104.4" cy="404.7" r="2.4"/>
<circle cx="104.9" cy="405.0" r="2.4"/>
<circle cx="105.4" cy="405.5" r="2.4"/>
<circle cx="105.9" cy="405.8" r="2.4"/>
<circle cx="106.4" cy="405.2" r="2.4"/>
<circle cx="106.9" cy="405.7" r="2.4"/>
<circle cx="107.4" cy="405.4" r="2.4"/>
<circle cx="107.9" cy="406.2" r="2.4"/>
<circle cx="108.4" cy="406.7" r="2.4"/>
<circle cx="108.9" cy="406.3" r="2.4"/>
<circle cx="109.4" cy="406.2" r="2.4"/>
<circle cx="109.9" cy="406.2" r="2.4"/>
<circle cx="110.4" cy="406.5" r="2.4"/>
<circle cx="110.9" cy="406.5" r="2.4"/>
<circle cx="111.4" cy="407.3" r="2.4"/>
<circle cx="111.9" cy="407.0" r="2.4"/>
<circle cx="112.4" cy="406.9" r="2.4"/>
<circle cx="112.9" cy="407.2" r="2.4"/>
<circle cx="113.4" cy="407.5" r="2.4"/>
<circle cx="113.9" cy="407.4" r="2.4"/>
<circle cx="114.4" cy="407.6" r="2.4"/>
<circle cx="114.9" cy="407.2" r="2.4"/>
<circle cx="115.4" cy="407.8" r="2.4"/>
<circle cx="115.9" cy="407.3" r="2.4"/>
<circle cx="116.4" cy="407.7" r="2.4"/>
<circle cx="116.9" cy="406.9" r="2.4"/>
<circle cx="117.4" cy="407.5" r="2.4"/>
<circle cx="117.9" cy="407.4" r="2.4"/>
<circle cx="118.4" cy="407.4" r="2.4"/>
<circle cx="118.9" cy="407.7" r="2.4"/>
<circle cx="119.4" cy="407.4" r="2.4"/>
<circle cx="119.9" cy="407.7" r="2.4"/>
<circle cx="120.4" cy="407.4" r="2.4"/>
<circle cx="120.9" cy="407.7" r="2.4"/>
<circle cx="121.4" cy="407.3" r="2.4"/>
<circle cx="121.9" cy="407.8" r="2.4"/>
<circle cx="122.4" cy="407.4" r="2.4"/>
<circle cx="122.9" cy="407.4" r="2.4"/>
<circle cx="123.4" cy="407.7" r="2.4"/>
<circle cx="123.9" cy="408.0" r="2.4"/>
<circle cx="124.4" cy="407.2" r="2.4"/>
<circle cx="124.9" cy="407.1" r="2.4"/>
<circle cx="125.4" cy="407.3" r="2.4"/>
<circle cx="125.9" cy="407.4" r="2.4"/>
<circle cx="126.4" cy="407.3" r="2.4"/>
<circle cx="126.9" cy="407.4" r="2.4"/>
<circle cx="127.4" cy="407.6" r="2.4"/>
<circle cx="127.9" cy="407.9" r="2.4"/>
<circle cx="128.4" cy="406.9" r="2.4"/>
<circle cx="128.9" cy="407.5" r="2.4"/>
<circle cx="129.4" cy="407.2" r="2.4"/>
<circle cx="129.9" cy="407.8" r="2.4"/>
<circle cx="130.4" cy="406.9" r="2.4"/>
<circle cx="130.9" cy="407.1" r="2.4"/>
<circle cx="131.4" cy="407.4" r="2.4"/>
<circle cx="131.9" cy="407.5" r="2.4"/>
<circle cx="132.4" cy="407.0" r="2.4"/>
<circle cx="132.9" cy="406.5" r="2.4"/>
<circle cx="133.4" cy="407.2" r="2.4"/>
<circle cx="133.9" cy="407.0" r="2.4"/>
<circle cx="134.4" cy="406.7" r="2.4"/>
<circle cx="134.9" cy="406.9" r="2.4"/>
<circle cx="135.4" cy="406.8" r="2.4"/>
<circle cx="135.9" cy="406.4" r="2.4"/>
<circle cx="136.4" cy="406.8" r="2.4"/>
<circle cx="136.9" cy="406.6" r="2.4"/>
<circle cx="137.4" cy="407.0" r="2.4"/>
<circle cx="137.9" cy="406.3" r="2.4"/>
<circle cx="138.4" cy="406.0" r="2.4"/>
<circle cx="138.9" cy="406.3" r="2.4"/>
<circle cx="139.4" cy="406.1" r="2.4"/>
<circle cx="139.9" cy="406.4" r="2.4"/>
<circle cx="140.4" cy="405.6" r="2.4"/>
<circle cx="140.9" cy="405.7" r="2.4"/>
<circle cx="141.4" cy="406.2" r="2.4"/>
<circle cx="141.9" cy="405.8" r="2.4"/>
<circle cx="142.4" cy="406.1" r="2.4"/>
<circle cx="142.9" cy="406.0" r="2.4"/>
<circle cx="143.4" cy="405.4" r="2.4"/>
<circle cx="143.9" cy="405.4" r="2.4"/>
<circle cx="144.4" cy="405.0" r="2.4"/>
<circle cx="144.9" cy="405.3" r="2.4"/>
<circle cx="145.4" cy="405.1" r="2.4"/>
<circle cx="145.9" cy="404.8" r="2.4"/>
<circle cx="146.4" cy="404.6" r="2.4"/>
<circle cx="146.9" cy="404.8" r="2.4"/>
<circle cx="147.4" cy="404.5" r="2.4"/>
<circle cx="147.9" cy="404.2" r="2.4"/>
<circle cx="148.4" cy="404.3" r="2.4"/>
<circle cx="148.9" cy="404.2" r="2.4"/>
<circle cx="149.4" cy="403.5" r="2.4"/>
<circle cx="149.9" cy="403.4" r="2.4"/>
<circle cx="150.4" cy="403.4" r="2.4"/>
<circle cx="150.9" cy="403.7" r="2.4"/>
<circle cx="151.4" cy="402.7" r="2.4"/>
<circle cx="151.9" cy="403.3" r="2.4"/>
<circle cx="152.4" cy="402.9" r="2.4"/>
<circle cx="152.9" cy="402.4" r="2.4"/>
<circle cx="153.4" cy="402.2" r="2.4"/>
<circle cx="153.9" cy="401.9" r="2.4"/>
<circle cx="154.4" cy="402.1" r="2.4"/>
<circle cx="154.9" cy="401.5" r="2.4"/>
<circle cx="155.4" cy="401.4" r="2.4"/>
<circle cx="155.9" cy="400.6" r="2.4"/>
<circle cx="156.4" cy="400.8" r="2.4"/>
<circle cx="156.9" cy="400.3" r="2.4"/>
<circle cx="157.4" cy="400.0" r="2.4"/>
<circle cx="157.9" cy="399.0" r="2.4"/>
<circle cx="158.4" cy="399.7" r="2.4"/>
<circle cx="158.9" cy="398.3" r="2.4"/>
<circle cx="159.4" cy="397.3" r="2.4"/>
<circle cx="159.9" cy="397.6" r="2.4"/>
<circle cx="160.4" cy="396.7" r="2.4"/>
<circle cx="160.9" cy="395.6" r="2.4"/>
<circle cx="161.4" cy="394.5" r="2.4"/>
<circle cx="161.9" cy="394.3" r="2.4"/>
<circle cx="162.4" cy="392.8" r="2.4"/>
<circle cx="162.9" cy="391.2" r="2.4"/>
<circle cx="163.4" cy="389.4" r="2.4"/>
<circle cx="163.9" cy="388.2" r="2.4"/>
<circle cx="164.4" cy="386.7" r="2.4"/>
<circle cx="164.9" cy="383.7" r="2.4"/>
<circle cx="165.4" cy="381.2" r="2.4"/>
<circle cx="165.9" cy="377.9" r="2.4"/>
<circle cx="166.4" cy="375.0" r="2.4"/>
<circle cx="166.9" cy="371.0" r="2.4"/>
<circle cx="167.4" cy="367.1" r="2.4"/>
<circle cx="167.9" cy="362.8" r="2.4"/>
<circle cx="168.4" cy="357.9" r="2.4"/>
<circle cx="168.9" cy="352.9" r="2.4"/>
<circle cx="169.4" cy="347.4" r="2.4"/>
<circle cx="169.9" cy="340.9" r="2.4"/>
<circle cx="170.4" cy="335.0" r="2.4"/>
<circle cx="170.9" cy="328.6" r="2.4"/>
<circle cx="171.4" cy="322.6" r="2.4"/>
<circle cx="171.9" cy="316.2" r="2.4"/>
<circle cx="172.4" cy="309.9" r="2.4"/>
<circle cx="172.9" cy="304.7" r="2.4"/>
<circle cx="173.4" cy="298.9" r="2.4"/>
<circle cx="173.9" cy="294.3" r="2.4"/>
<circle cx="174.4" cy="291.3" r="2.4"/>
<circle cx="174.9" cy="288.3" r="2.4"/>
<circle cx="175.4" cy="286.7" r="2.4"/>
<circle cx="175.9" cy="286.4" r="2.4"/>
<circle cx="176.4" cy="287.2" r="2.4"/>
<circle cx="176.9" cy="288.9" r="2.4"/>
<circle cx="177.4" cy="292.0" r="2.4"/>
<circle cx="177.9" cy="295.1" r="2.4"/>
<circle cx="178.4" cy="299.5" r="2.4"/>
<circle cx="178.9" cy="303.7" r="2.4"/>
<circle cx="179.4" cy="307.3" r="2.4"/>
<circle cx="179.9" cy="311.1" r="2.4"/>
<circle cx="180.4" cy="315.7" r="2.4"/>
<circle cx="180.9" cy="319.3" r="2.4"/>
<circle cx="181.4" cy="321.9" r="2.4"/>
<circle cx="181.9" cy="324.6" r="2.4"/>
<circle cx="182.4" cy="326.5" r="2.4"/>
<circle cx="182.9" cy="328.0" r="2.4"/>
<circle cx="183.4" cy="328.4" r="2.4"/>
<circle cx="183.9" cy="328.7" r="2.4"/>
<circle cx="184.4" cy="327.6" r="2.4"/>
<circle cx="184.9" cy="326.5" r="2.4"/>
<circle cx="185.4" cy="324.1" r="2.4"/>
<circle cx="185.9" cy="321.6" r="2.4"/>
<circle cx="186.4" cy="319.1" r="2.4"/>
<circle cx="186.9" cy="315.6" r="2.4"/>
<circle cx="187.4" cy="311.7" r="2.4"/>
<circle cx="187.9" cy="308.8" r="2.4"/>
<circle cx="188.4" cy="305.1" r="2.4"/>
<circle cx="188.9" cy="302.6" r="2.4"/>
<circle cx="189.4" cy="299.9" r="2.4"/>
<circle cx="189.9" cy="297.6" r="2.4"/>
<circle cx="190.4" cy="296.8" r="2.4"/>
<circle cx="190.9" cy="296.8" r="2.4"/>
<circle cx="191.4" cy="298.3" r="2.4"/>
<circle cx="191.9" cy="300.0" r="2.4"/>
<circle cx="192.4" cy="303.3" r="2.4"/>
<circle cx="192.9" cy="308.2" r="2.4"/>
<circle cx="193.4" cy="313.1" r="2.4"/>
<circle cx="193.9" cy="319.0" r="2.4"/>
<circle cx="194.4" cy="324.6" r="2.4"/>
<circle cx="194.9" cy="330.8" r="2.4"/>
<circle cx="195.4" cy="336.6" r="2.4"/>
<circle cx="195.9" cy="342.6" r="2.4"/>
<circle cx="196.4" cy="347.8" r="2.4"/>
<circle cx="196.9" cy="352.5" r="2.4"/>
<circle cx="197.4" cy="357.9" r="2.4"/>
<circle cx="197.9" cy="362.1" r="2.4"/>
<circle cx="198.4" cy="367.3" r="2.4"/>
<circle cx="198.9" cy="371.5" r="2.4"/>
<circle cx="199.4" cy="374.8" r="2.4"/>
<circle cx="199.9" cy="377.8" r="2.4"/>
<circle cx="200.4" cy="381.4" r="2.4"/>
<circle cx="200.9" cy="384.1" r="2.4"/>
<circle cx="201.4" cy="386.3" r="2.4"/>
<circle cx="201.9" cy="388.8" r="2.4"/>
<circle cx="202.4" cy="390.6" r="2.4"/>
<circle cx="202.9" cy="392.3" r="2.4"/>
<circle cx="203.4" cy="394.0" r="2.4"/>
<circle cx="203.9" cy="395.6" r="2.4"/>
<circle cx="204.4" cy="396.4" r="2.4"/>
<circle cx="204.9" cy="397.2" r="2.4"/>
<circle cx="205.4" cy="398.7" r="2.4"/>
<circle cx="205.9" cy="399.9" r="2.4"/>
<circle cx="206.4" cy="400.1" r="2.4"/>
<circle cx="206.9" cy="401.2" r="2.4"/>
<circle cx="207.4" cy="401.8" r="2.4"/>
<circle cx="207.9" cy="402.5" r="2.4"/>
<circle cx="208.4" cy="402.9" r="2.4"/>
<circle cx="208.9" cy="403.5" r="2.4"/>
<circle cx="209.4" cy="403.6" r="2.4"/>
<circle cx="209.9" cy="403.9" r="2.4"/>
<circle cx="210.4" cy="404.4" r="2.4"/>
<circle cx="210.9" cy="404.6" r="2.4"/>
<circle cx="211.4" cy="405.4" r="2.4"/>
<circle cx="211.9" cy="405.8" r="2.4"/>
<circle cx="212.4" cy="405.7" r="2.4"/>
<circle cx="212.9" cy="406.9" r="2.4"/>
<circle cx="213.4" cy="406.5" r="2.4"/>
<circle cx="213.9" cy="406.6" r="2.4"/>
<circle cx="214.4" cy="407.4" r="2.4"/>
<circle cx="214.9" cy="407.7" r="2.4"/>
<circle cx="215.4" cy="406.9" r="2.4"/>
<circle cx="215.9" cy="406.8" r="2.4"/>
<circle cx="216.4" cy="408.3" r="2.4"/>
<circle cx="216.9" cy="408.1" r="2.4"/>
<circle cx="217.4" cy="408.0" r="2.4"/>
<circle cx="217.9" cy="407.8" r="2.4"/>
<circle cx="218.4" cy="408.9" r="2.4"/>
<circle cx="218.9" cy="409.1" r="2.4"/>
<circle cx="219.4" cy="408.9" r="2.4"/>
<circle cx="219.9" cy="409.2" r="2.4"/>
<circle cx="220.4" cy="408.4" r="2.4"/>
<circle cx="220.9" cy="409.2" r="2.4"/>
<circle cx="221.4" cy="409.1" r="2.4"/>
<circle cx="221.9" cy="409.5" r="2.4"/>
<circle cx="222.4" cy="409.3" r="2.4"/>
<circle cx="222.9" cy="409.5" r="2.4"/>
<circle cx="223.4" cy="409.5" r="2.4"/>
<circle cx="223.9" cy="409.5" r="2.4"/>
<circle cx="224.4" cy="409.8" r="2.4"/>
<circle cx="224.9" cy="409.9" r="2.4"/>
<circle cx="225.4" cy="410.0" r="2.4"/>
<circle cx="225.9" cy="410.1" r="2.4"/>
<circle cx="226.4" cy="410.5" r="2.4"/>
<circle cx="226.9" cy="410.5" r="2.4"/>
<circle cx="227.4" cy="410.5" r="2.4"/>
<circle cx="227.9" cy="410.5" r="2.4"/>
<circle cx="228.4" cy="410.2" r="2.4"/>
<circle cx="228.9" cy="410.4" r="2.4"/>
<circle cx="229.4" cy="410.8" r="2.4"/>
<circle cx="229.9" cy="410.8" r="2.4"/>
<circle cx="230.4" cy="411.0" r="2.4"/>
<circle cx="230.9" cy="411.0" r="2.4"/>
<circle cx="231.4" cy="411.1" r="2.4"/>
<circle cx="231.9" cy="411.1" r="2.4"/>
<circle cx="232.4" cy="411.1" r="2.4"/>
<circle cx="232.9" cy="411.0" r="2.4"/>
<circle cx="233.4" cy="411.1" r="2.4"/>
<circle cx="233.9" cy="410.8" r="2.4"/>
<circle cx="234.4" cy="410.8" r="2.4"/>
<circle cx="234.9" cy="411.6" r="2.4"/>
<circle cx="235.4" cy="410.8" r="2.4"/>
<circle cx="235.9" cy="411.1" r="2.4"/>
</g>
<path d="M24.66,408.02 L24.91,407.99 L25.16,407.96 L25.41,407.94 L25.66,407.91 L25.91,407.88 L26.16,407.85 L26.41,407.82 L26.66,407.80 L26.91,407.77 L27.16,407.74 L27.41,407.71 L27.66,407.68 L27.91,407.65 L28.16,407.62 L28.41,407.59 L28.66,407.56 L28.91,407.52 L29.16,407.49 L29.41,407.46 L29.66,407.43 L29.91,407.39 L30.16,407.36 L30.41,407.33 L30.66,407.29 L30.91,407.26 L31.16,407.22 L31.41,407.19 L31.66,407.15 L31.91,407.12 L32.16,407.08 L32.41,407.04 L32.66,407.00 L32.91,406.97 L33.16,406.93 L33.41,406.89 L33.66,406.85 L33.91,406.81 L34.16,406.77 L34.41,406.73 L34.66,406.68 L34.91,406.64 L35.16,406.60 L35.41,406.56 L35.66,406.51 L35.91,406.47 L36.16,406.42 L36.41,406.38 L36.66,406.33 L36.91,406.28 L37.16,406.23 L37.41,406.19 L37.66,406.14 L37.91,406.09 L38.16,406.04 L38.41,405.99 L38.66,405.93 L38.91,405.88 L39.16,405.83 L39.41,405.77 L39.66,405.72 L39.91,405.66 L40.16,405.61 L40.41,405.55 L40.66,405.49 L40.91,405.43 L41.16,405.37 L41.41,405.31 L41.66,405.25 L41.91,405.18 L42.16,405.12 L42.41,405.05 L42.66,404.99 L42.91,404.92 L43.16,404.85 L43.41,404.78 L43.66,404.71 L43.91,404.64 L44.16,404.57 L44.41,404.49 L44.66,404.41 L44.91,404.34 L45.16,404.26 L45.41,404.18 L45.66,404.10 L45.91,404.01 L46.16,403.93 L46.41,403.84 L46.66,403.76 L46.91,403.67 L47.16,403.58 L47.41,403.48 L47.66,403.39 L47.91,403.29 L48.16,403.19 L48.41,403.09 L48.66,402.99 L48.91,402.88 L49.16,402.78 L49.41,402.67 L49.66,402.55 L49.91,402.44 L50.16,402.32 L50.41,402.20 L50.66,402.07 L50.91,401.95 L51.16,401.81 L51.41,401.68 L51.66,401.54 L51.91,401.39 L52.16,401.25 L52.41,401.09 L52.66,400.93 L52.91,400.77 L53.16,400.59 L53.41,400.42 L53.66,400.23 L53.91,400.03 L54.16,399.83 L54.41,399.62 L54.66,399.39 L54.91,399.16 L55.16,398.91 L55.41,398.65 L55.66,398.37 L55.91,398.08 L56.16,397.77 L56.41,397.44 L56.66,397.09 L56.91,396.72 L57.16,396.33 L57.41,395.91 L57.66,395.46 L57.91,394.99 L58.16,394.48 L58.41,393.94 L58.66,393.37 L58.91,392.76 L59.16,392.10 L59.41,391.41 L59.66,390.67 L59.91,389.89 L60.16,389.05 L60.41,388.17 L60.66,387.24 L60.91,386.25 L61.16,385.21 L61.41,384.11 L61.66,382.95 L61.91,381.73 L62.16,380.45 L62.41,379.12 L62.66,377.72 L62.91,376.26 L63.16,374.75 L63.41,373.18 L63.66,371.55 L63.91,369.86 L64.16,368.13 L64.41,366.34 L64.66,364.51 L64.91,362.65 L65.16,360.74 L65.41,358.81 L65.66,356.85 L65.91,354.87 L66.16,352.89 L66.41,350.91 L66.66,348.94 L66.91,346.98 L67.16,345.06 L67.41,343.19 L67.66,341.37 L67.91,339.62 L68.16,337.96 L68.41,336.39 L68.66,334.94 L68.91,333.62 L69.16,332.43 L69.41,331.39 L69.66,330.52 L69.91,329.81 L70.16,329.28 L70.41,328.92 L70.66,328.75 L70.91,328.76 L71.16,328.95 L71.41,329.30 L71.66,329.82 L71.91,330.48 L72.16,331.27 L72.41,332.17 L72.66,333.17 L72.91,334.26 L73.16,335.41 L73.41,336.60 L73.66,337.83 L73.91,339.07 L74.16,340.31 L74.41,341.54 L74.66,342.74 L74.91,343.91 L75.16,345.02 L75.41,346.08 L75.66,347.07 L75.91,347.98 L76.16,348.81 L76.41,349.55 L76.66,350.20 L76.91,350.75 L77.16,351.20 L77.41,351.55 L77.66,351.78 L77.91,351.92 L78.16,351.94 L78.41,351.86 L78.66,351.68 L78.91,351.39 L79.16,351.00 L79.41,350.52 L79.66,349.95 L79.91,349.29 L80.16,348.56 L80.41,347.76 L80.66,346.90 L80.91,345.99 L81.16,345.04 L81.41,344.06 L81.66,343.07 L81.91,342.08 L82.16,341.10 L82.41,340.16 L82.66,339.25 L82.91,338.41 L83.16,337.65 L83.41,336.98 L83.66,336.42 L83.91,335.98 L84.16,335.68 L84.41,335.52 L84.66,335.51 L84.91,335.66 L85.16,335.99 L85.41,336.50 L85.66,337.21 L85.91,338.09 L86.16,339.13 L86.41,340.34 L86.66,341.68 L86.91,343.16 L87.16,344.74 L87.41,346.42 L87.66,348.17 L87.91,349.99 L88.16,351.85 L88.41,353.74 L88.66,355.66 L88.91,357.57 L89.16,359.49 L89.41,361.39 L89.66,363.28 L89.91,365.13 L90.16,366.95 L90.41,368.73 L90.66,370.47 L90.91,372.16 L91.16,373.80 L91.41,375.39 L91.66,376.93 L91.91,378.41 L92.16,379.84 L92.41,381.21 L92.66,382.52 L92.91,383.78 L93.16,384.99 L93.41,386.14 L93.66,387.24 L93.91,388.28 L94.16,389.28 L94.41,390.23 L94.66,391.12 L94.91,391.98 L95.16,392.78 L95.41,393.55 L95.66,394.27 L95.91,394.96 L96.16,395.60 L96.41,396.21 L96.66,396.79 L96.91,397.33 L97.16,397.84 L97.41,398.33 L97.66,398.78 L97.91,399.21 L98.16,399.61 L98.41,400.00 L98.66,400.36 L98.91,400.70 L99.16,401.02 L99.41,401.32 L99.66,401.61 L99.91,401.88 L100.16,402.13 L100.41,402.37 L100.66,402.60 L100.91,402.82 L101.16,403.03 L101.41,403.22 L101.66,403.41 L101.91,403.59 L102.16,403.76 L102.41,403.92 L102.66,404.07 L102.91,404.22 L103.16,404.36 L103.41,404.49 L103.66,404.62 L103.91,404.74 L104.16,404.86 L104.41,404.97 L104.66,405.08 L104.91,405.19 L105.16,405.29 L105.41,405.38 L105.66,405.47 L105.91,405.56 L106.16,405.65 L106.41,405.73 L106.66,405.81 L106.91,405.89 L107.16,405.96 L107.41,406.03 L107.66,406.10 L107.91,406.16 L108.16,406.23 L108.41,406.29 L108.66,406.35 L108.91,406.41 L109.16,406.46 L109.41,406.51 L109.66,406.56 L109.91,406.61 L110.16,406.66 L110.41,406.71 L110.66,406.75 L110.91,406.79 L111.16,406.83 L111.41,406.87 L111.66,406.91 L111.91,406.95 L112.16,406.98 L112.41,407.02 L112.66,407.05 L112.91,407.08 L113.16,407.11 L113.41,407.14 L113.66,407.17 L113.91,407.19 L114.16,407.22 L114.41,407.24 L114.66,407.27 L114.91,407.29 L115.16,407.31 L115.41,407.33 L115.66,407.35 L115.91,407.37 L116.16,407.38 L116.41,407.40 L116.66,407.42 L116.91,407.43 L117.16,407.44 L117.41,407.46 L117.66,407.47 L117.91,407.48 L118.16,407.49 L118.41,407.50 L118.66,407.51 L118.91,407.52 L119.16,407.53 L119.41,407.53 L119.66,407.54 L119.91,407.54 L120.16,407.55 L120.41,407.55 L120.66,407.56 L120.91,407.56 L121.16,407.56 L121.41,407.56 L121.66,407.56 L121.91,407.56 L122.16,407.56 L122.41,407.56 L122.66,407.56 L122.91,407.56 L123.16,407.56 L123.41,407.55 L123.66,407.55 L123.91,407.55 L124.16,407.54 L124.41,407.54 L124.66,407.53 L124.91,407.52 L125.16,407.52 L125.41,407.51 L125.66,407.50 L125.91,407.49 L126.16,407.48 L126.41,407.47 L126.66,407.46 L126.91,407.45 L127.16,407.44 L127.41,407.43 L127.66,407.42 L127.91,407.40 L128.16,407.39 L128.41,407.38 L128.66,407.36 L128.91,407.35 L129.16,407.33 L129.41,407.31 L129.66,407.30 L129.91,407.28 L130.16,407.26 L130.41,407.24 L130.66,407.23 L130.91,407.21 L131.16,407.19 L131.41,407.17 L131.66,407.15 L131.91,407.13 L132.16,407.10 L132.41,407.08 L132.66,407.06 L132.91,407.03 L133.16,407.01 L133.41,406.99 L133.66,406.96 L133.91,406.94 L134.16,406.91 L134.41,406.88 L134.66,406.86 L134.91,406.83 L135.16,406.80 L135.41,406.77 L135.66,406.74 L135.91,406.71 L136.16,406.68 L136.41,406.65 L136.66,406.62 L136.91,406.58 L137.16,406.55 L137.41,406.52 L137.66,406.48 L137.91,406.45 L138.16,406.41 L138.41,406.37 L138.66,406.34 L138.91,406.30 L139.16,406.26 L139.41,406.22 L139.66,406.18 L139.91,406.14 L140.16,406.10 L140.41,406.06 L140.66,406.01 L140.91,405.97 L141.16,405.92 L141.41,405.88 L141.66,405.83 L141.91,405.78 L142.16,405.74 L142.41,405.69 L142.66,405.64 L142.91,405.59 L143.16,405.54 L143.41,405.48 L143.66,405.43 L143.91,405.38 L144.16,405.32 L144.41,405.26 L144.66,405.21 L144.91,405.15 L145.16,405.09 L145.41,405.03 L145.66,404.96 L145.91,404.90 L146.16,404.84 L146.41,404.77 L146.66,404.70 L146.91,404.64 L147.16,404.57 L147.41,404.50 L147.66,404.42 L147.91,404.35 L148.16,404.28 L148.41,404.20 L148.66,404.12 L148.91,404.04 L149.16,403.96 L149.41,403.88 L149.66,403.79 L149.91,403.71 L150.16,403.62 L150.41,403.53 L150.66,403.44 L150.91,403.34 L151.16,403.25 L151.41,403.15 L151.66,403.05 L151.91,402.95 L152.16,402.84 L152.41,402.73 L152.66,402.62 L152.91,402.51 L153.16,402.40 L153.41,402.28 L153.66,402.16 L153.91,402.03 L154.16,401.90 L154.41,401.77 L154.66,401.64 L154.91,401.50 L155.16,401.36 L155.41,401.21 L155.66,401.06 L155.91,400.90 L156.16,400.74 L156.41,400.57 L156.66,400.39 L156.91,400.21 L157.16,400.03 L157.41,399.83 L157.66,399.63 L157.91,399.42 L158.16,399.19 L158.41,398.96 L158.66,398.72 L158.91,398.46 L159.16,398.19 L159.41,397.90 L159.66,397.60 L159.91,397.28 L160.16,396.95 L160.41,396.59 L160.66,396.21 L160.91,395.80 L161.16,395.37 L161.41,394.90 L161.66,394.41 L161.91,393.88 L162.16,393.31 L162.41,392.71 L162.66,392.06 L162.91,391.36 L163.16,390.62 L163.41,389.82 L163.66,388.97 L163.91,388.06 L164.16,387.08 L164.41,386.04 L164.66,384.93 L164.91,383.74 L165.16,382.48 L165.41,381.14 L165.66,379.71 L165.91,378.20 L166.16,376.59 L166.41,374.90 L166.66,373.11 L166.91,371.22 L167.16,369.24 L167.41,367.16 L167.66,364.98 L167.91,362.70 L168.16,360.33 L168.41,357.86 L168.66,355.30 L168.91,352.64 L169.16,349.90 L169.41,347.08 L169.66,344.19 L169.91,341.22 L170.16,338.19 L170.41,335.11 L170.66,331.99 L170.91,328.83 L171.16,325.66 L171.41,322.48 L171.66,319.31 L171.91,316.17 L172.16,313.07 L172.41,310.04 L172.66,307.10 L172.91,304.26 L173.16,301.56 L173.41,299.00 L173.66,296.63 L173.91,294.45 L174.16,292.50 L174.41,290.78 L174.66,289.33 L174.91,288.15 L175.16,287.26 L175.41,286.66 L175.66,286.36 L175.91,286.34 L176.16,286.62 L176.41,287.17 L176.66,287.97 L176.91,289.02 L177.16,290.29 L177.41,291.76 L177.66,293.40 L177.91,295.18 L178.16,297.08 L178.41,299.07 L178.66,301.13 L178.91,303.24 L179.16,305.36 L179.41,307.47 L179.66,309.57 L179.91,311.62 L180.16,313.61 L180.41,315.52 L180.66,317.34 L180.91,319.06 L181.16,320.66 L181.41,322.13 L181.66,323.46 L181.91,324.64 L182.16,325.68 L182.41,326.55 L182.66,327.26 L182.91,327.81 L183.16,328.19 L183.41,328.39 L183.66,328.43 L183.91,328.29 L184.16,327.99 L184.41,327.53 L184.66,326.91 L184.91,326.13 L185.16,325.20 L185.41,324.14 L185.66,322.94 L185.91,321.63 L186.16,320.21 L186.41,318.69 L186.66,317.09 L186.91,315.42 L187.16,313.71 L187.41,311.96 L187.66,310.21 L187.91,308.47 L188.16,306.77 L188.41,305.12 L188.66,303.55 L188.91,302.10 L189.16,300.77 L189.41,299.60 L189.66,298.61 L189.91,297.82 L190.16,297.25 L190.41,296.91 L190.66,296.82 L190.91,296.97 L191.16,297.41 L191.41,298.15 L191.66,299.19 L191.91,300.50 L192.16,302.09 L192.41,303.92 L192.66,305.98 L192.91,308.23 L193.16,310.66 L193.41,313.24 L193.66,315.95 L193.91,318.75 L194.16,321.62 L194.41,324.55 L194.66,327.51 L194.91,330.48 L195.16,333.45 L195.41,336.40 L195.66,339.32 L195.91,342.20 L196.16,345.02 L196.41,347.79 L196.66,350.48 L196.91,353.11 L197.16,355.66 L197.41,358.13 L197.66,360.52 L197.91,362.83 L198.16,365.05 L198.41,367.18 L198.66,369.23 L198.91,371.19 L199.16,373.07 L199.41,374.86 L199.66,376.58 L199.91,378.21 L200.16,379.76 L200.41,381.24 L200.66,382.65 L200.91,383.98 L201.16,385.24 L201.41,386.44 L201.66,387.57 L201.91,388.64 L202.16,389.66 L202.41,390.61 L202.66,391.52 L202.91,392.37 L203.16,393.18 L203.41,393.94 L203.66,394.66 L203.91,395.34 L204.16,395.98 L204.41,396.59 L204.66,397.16 L204.91,397.70 L205.16,398.21 L205.41,398.70 L205.66,399.15 L205.91,399.59 L206.16,400.00 L206.41,400.39 L206.66,400.76 L206.91,401.11 L207.16,401.45 L207.41,401.77 L207.66,402.07 L207.91,402.36 L208.16,402.64 L208.41,402.91 L208.66,403.16 L208.91,403.41 L209.16,403.64 L209.41,403.87 L209.66,404.08 L209.91,404.29 L210.16,404.49 L210.41,404.68 L210.66,404.87 L210.91,405.05 L211.16,405.22 L211.41,405.39 L211.66,405.55 L211.91,405.71 L212.16,405.86 L212.41,406.00 L212.66,406.15 L212.91,406.28 L213.16,406.42 L213.41,406.55 L213.66,406.67 L213.91,406.80 L214.16,406.91 L214.41,407.03 L214.66,407.14 L214.91,407.25 L215.16,407.36 L215.41,407.46 L215.66,407.56 L215.91,407.66 L216.16,407.76 L216.41,407.85 L216.66,407.94 L216.91,408.03 L217.16,408.11 L217.41,408.20 L217.66,408.28 L217.91,408.36 L218.16,408.44 L218.41,408.51 L218.66,408.59 L218.91,408.66 L219.16,408.73 L219.41,408.80 L219.66,408.87 L219.91,408.93 L220.16,409.00 L220.41,409.06 L220.66,409.12 L220.91,409.18 L221.16,409.24 L221.41,409.30 L221.66,409.36 L221.91,409.41 L222.16,409.46 L222.41,409.52 L222.66,409.57 L222.91,409.62 L223.16,409.67 L223.41,409.72 L223.66,409.77 L223.91,409.81 L224.16,409.86 L224.41,409.90 L224.66,409.95 L224.91,409.99 L225.16,410.03 L225.41,410.07 L225.66,410.11 L225.91,410.15 L226.16,410.19 L226.41,410.23 L226.66,410.27 L226.91,410.30 L227.16,410.34 L227.41,410.38 L227.66,410.41 L227.91,410.44 L228.16,410.48 L228.41,410.51 L228.66,410.54 L228.91,410.58 L229.16,410.61 L229.41,410.64 L229.66,410.67 L229.91,410.70 L230.16,410.73 L230.41,410.75 L230.66,410.78 L230.91,410.81 L231.16,410.84 L231.41,410.86 L231.66,410.89 L231.91,410.92 L232.16,410.94 L232.41,410.97 L232.66,410.99 L232.91,411.01 L233.16,411.04 L233.41,411.06 L233.66,411.08 L233.91,411.11 L234.16,411.13 L234.41,411.15 L234.66,411.17 L234.91,411.19 L235.16,411.22 L235.41,411.24 L235.66,411.26 L235.91,411.28 L236.16,411.30 L236.41,411.31" fill="none" stroke="#000" stroke-width="2.0"/>
<path d="M24.66,410.26 L24.91,410.25 L25.16,410.23 L25.41,410.22 L25.66,410.20 L25.91,410.18 L26.16,410.17 L26.41,410.15 L26.66,410.14 L26.91,410.12 L27.16,410.10 L27.41,410.08 L27.66,410.07 L27.91,410.05 L28.16,410.03 L28.41,410.01 L28.66,410.00 L28.91,409.98 L29.16,409.96 L29.41,409.94 L29.66,409.92 L29.91,409.91 L30.16,409.89 L30.41,409.87 L30.66,409.85 L30.91,409.83 L31.16,409.81 L31.41,409.79 L31.66,409.77 L31.91,409.75 L32.16,409.73 L32.41,409.71 L32.66,409.69 L32.91,409.67 L33.16,409.65 L33.41,409.63 L33.66,409.61 L33.91,409.59 L34.16,409.56 L34.41,409.54 L34.66,409.52 L34.91,409.50 L35.16,409.48 L35.41,409.45 L35.66,409.43 L35.91,409.41 L36.16,409.39 L36.41,409.36 L36.66,409.34 L36.91,409.32 L37.16,409.29 L37.41,409.27 L37.66,409.24 L37.91,409.22 L38.16,409.19 L38.41,409.17 L38.66,409.14 L38.91,409.12 L39.16,409.09 L39.41,409.07 L39.66,409.04 L39.91,409.01 L40.16,408.99 L40.41,408.96 L40.66,408.93 L40.91,408.90 L41.16,408.88 L41.41,408.85 L41.66,408.82 L41.91,408.79 L42.16,408.76 L42.41,408.73 L42.66,408.70 L42.91,408.67 L43.16,408.64 L43.41,408.61 L43.66,408.58 L43.91,408.55 L44.16,408.52 L44.41,408.49 L44.66,408.46 L44.91,408.42 L45.16,408.39 L45.41,408.36 L45.66,408.33 L45.91,408.29 L46.16,408.26 L46.41,408.22 L46.66,408.19 L46.91,408.15 L47.16,408.12 L47.41,408.08 L47.66,408.05 L47.91,408.01 L48.16,407.97 L48.41,407.93 L48.66,407.90 L48.91,407.86 L49.16,407.82 L49.41,407.78 L49.66,407.74 L49.91,407.70 L50.16,407.66 L50.41,407.62 L50.66,407.58 L50.91,407.53 L51.16,407.49 L51.41,407.45 L51.66,407.41 L51.91,407.36 L52.16,407.32 L52.41,407.27 L52.66,407.23 L52.91,407.18 L53.16,407.13 L53.41,407.08 L53.66,407.04 L53.91,406.99 L54.16,406.94 L54.41,406.89 L54.66,406.84 L54.91,406.79 L55.16,406.73 L55.41,406.68 L55.66,406.63 L55.91,406.57 L56.16,406.52 L56.41,406.46 L56.66,406.40 L56.91,406.35 L57.16,406.29 L57.41,406.23 L57.66,406.17 L57.91,406.11 L58.16,406.04 L58.41,405.98 L58.66,405.92 L58.91,405.85 L59.16,405.78 L59.41,405.72 L59.66,405.65 L59.91,405.58 L60.16,405.50 L60.41,405.43 L60.66,405.36 L60.91,405.28 L61.16,405.21 L61.41,405.13 L61.66,405.05 L61.91,404.97 L62.16,404.88 L62.41,404.80 L62.66,404.71 L62.91,404.62 L63.16,404.53 L63.41,404.44 L63.66,404.34 L63.91,404.24 L64.16,404.14 L64.41,404.04 L64.66,403.93 L64.91,403.82 L65.16,403.71 L65.41,403.59 L65.66,403.47 L65.91,403.35 L66.16,403.22 L66.41,403.09 L66.66,402.95 L66.91,402.81 L67.16,402.66 L67.41,402.51 L67.66,402.35 L67.91,402.18 L68.16,402.00 L68.41,401.82 L68.66,401.62 L68.91,401.42 L69.16,401.21 L69.41,400.99 L69.66,400.75 L69.91,400.50 L70.16,400.24 L70.41,399.96 L70.66,399.66 L70.91,399.35 L71.16,399.02 L71.41,398.67 L71.66,398.30 L71.91,397.91 L72.16,397.49 L72.41,397.04 L72.66,396.57 L72.91,396.07 L73.16,395.55 L73.41,394.98 L73.66,394.39 L73.91,393.76 L74.16,393.09 L74.41,392.39 L74.66,391.65 L74.91,390.86 L75.16,390.03 L75.41,389.16 L75.66,388.25 L75.91,387.28 L76.16,386.28 L76.41,385.22 L76.66,384.12 L76.91,382.96 L77.16,381.76 L77.41,380.51 L77.66,379.22 L77.91,377.87 L78.16,376.48 L78.41,375.05 L78.66,373.57 L78.91,372.06 L79.16,370.50 L79.41,368.91 L79.66,367.30 L79.91,365.65 L80.16,363.99 L80.41,362.31 L80.66,360.63 L80.91,358.95 L81.16,357.28 L81.41,355.63 L81.66,354.01 L81.91,352.43 L82.16,350.91 L82.41,349.46 L82.66,348.08 L82.91,346.81 L83.16,345.64 L83.41,344.60 L83.66,343.69 L83.91,342.93 L84.16,342.32 L84.41,341.89 L84.66,341.62 L84.91,341.53 L85.16,341.64 L85.41,341.95 L85.66,342.46 L85.91,343.17 L86.16,344.05 L86.41,345.10 L86.66,346.30 L86.91,347.64 L87.16,349.10 L87.41,350.66 L87.66,352.30 L87.91,354.01 L88.16,355.77 L88.41,357.57 L88.66,359.40 L88.91,361.23 L89.16,363.07 L89.41,364.89 L89.66,366.70 L89.91,368.49 L90.16,370.24 L90.41,371.96 L90.66,373.64 L90.91,375.27 L91.16,376.86 L91.41,378.39 L91.66,379.88 L91.91,381.31 L92.16,382.69 L92.41,384.01 L92.66,385.28 L92.91,386.50 L93.16,387.66 L93.41,388.77 L93.66,389.83 L93.91,390.84 L94.16,391.80 L94.41,392.71 L94.66,393.57 L94.91,394.39 L95.16,395.17 L95.41,395.90 L95.66,396.59 L95.91,397.24 L96.16,397.86 L96.41,398.44 L96.66,398.99 L96.91,399.51 L97.16,400.00 L97.41,400.45 L97.66,400.88 L97.91,401.29 L98.16,401.67 L98.41,402.03 L98.66,402.37 L98.91,402.69 L99.16,402.99 L99.41,403.27 L99.66,403.54 L99.91,403.79 L100.16,404.03 L100.41,404.25 L100.66,404.46 L100.91,404.66 L101.16,404.85 L101.41,405.03 L101.66,405.21 L101.91,405.37 L102.16,405.52 L102.41,405.67 L102.66,405.81 L102.91,405.94 L103.16,406.07 L103.41,406.19 L103.66,406.30 L103.91,406.42 L104.16,406.52 L104.41,406.62 L104.66,406.72 L104.91,406.81 L105.16,406.90 L105.41,406.99 L105.66,407.07 L105.91,407.15 L106.16,407.23 L106.41,407.30 L106.66,407.37 L106.91,407.44 L107.16,407.50 L107.41,407.56 L107.66,407.62 L107.91,407.68 L108.16,407.74 L108.41,407.79 L108.66,407.84 L108.91,407.90 L109.16,407.94 L109.41,407.99 L109.66,408.03 L109.91,408.08 L110.16,408.12 L110.41,408.16 L110.66,408.20 L110.91,408.24 L111.16,408.27 L111.41,408.31 L111.66,408.34 L111.91,408.37 L112.16,408.40 L112.41,408.43 L112.66,408.46 L112.91,408.49 L113.16,408.51 L113.41,408.54 L113.66,408.56 L113.91,408.59 L114.16,408.61 L114.41,408.63 L114.66,408.65 L114.91,408.67 L115.16,408.69 L115.41,408.71 L115.66,408.72 L115.91,408.74 L116.16,408.76 L116.41,408.77 L116.66,408.78 L116.91,408.80 L117.16,408.81 L117.41,408.82 L117.66,408.83 L117.91,408.84 L118.16,408.85 L118.41,408.86 L118.66,408.87 L118.91,408.88 L119.16,408.89 L119.41,408.89 L119.66,408.90 L119.91,408.91 L120.16,408.91 L120.41,408.92 L120.66,408.92 L120.91,408.92 L121.16,408.93 L121.41,408.93 L121.66,408.93 L121.91,408.93 L122.16,408.93 L122.41,408.93 L122.66,408.93 L122.91,408.93 L123.16,408.93 L123.41,408.93 L123.66,408.93 L123.91,408.93 L124.16,408.93 L124.41,408.92 L124.66,408.92 L124.91,408.92 L125.16,408.91 L125.41,408.91 L125.66,408.90 L125.91,408.90 L126.16,408.89 L126.41,408.89 L126.66,408.88 L126.91,408.87 L127.16,408.87 L127.41,408.86 L127.66,408.85 L127.91,408.84 L128.16,408.84 L128.41,408.83 L128.66,408.82 L128.91,408.81 L129.16,408.80 L129.41,408.79 L129.66,408.78 L129.91,408.77 L130.16,408.76 L130.41,408.74 L130.66,408.73 L130.91,408.72 L131.16,408.71 L131.41,408.69 L131.66,408.68 L131.91,408.67 L132.16,408.65 L132.41,408.64 L132.66,408.62 L132.91,408.61 L133.16,408.59 L133.41,408.58 L133.66,408.56 L133.91,408.55 L134.16,408.53 L134.41,408.51 L134.66,408.49 L134.91,408.48 L135.16,408.46 L135.41,408.44 L135.66,408.42 L135.91,408.40 L136.16,408.38 L136.41,408.36 L136.66,408.34 L136.91,408.32 L137.16,408.30 L137.41,408.28 L137.66,408.26 L137.91,408.24 L138.16,408.22 L138.41,408.20 L138.66,408.17 L138.91,408.15 L139.16,408.13 L139.41,408.10 L139.66,408.08 L139.91,408.05 L140.16,408.03 L140.41,408.00 L140.66,407.98 L140.91,407.95 L141.16,407.93 L141.41,407.90 L141.66,407.87 L141.91,407.85 L142.16,407.82 L142.41,407.79 L142.66,407.76 L142.91,407.73 L143.16,407.70 L143.41,407.67 L143.66,407.64 L143.91,407.61 L144.16,407.58 L144.41,407.55 L144.66,407.52 L144.91,407.49 L145.16,407.46 L145.41,407.42 L145.66,407.39 L145.91,407.36 L146.16,407.32 L146.41,407.29 L146.66,407.25 L146.91,407.22 L147.16,407.18 L147.41,407.15 L147.66,407.11 L147.91,407.07 L148.16,407.03 L148.41,407.00 L148.66,406.96 L148.91,406.92 L149.16,406.88 L149.41,406.84 L149.66,406.80 L149.91,406.76 L150.16,406.72 L150.41,406.67 L150.66,406.63 L150.91,406.59 L151.16,406.54 L151.41,406.50 L151.66,406.45 L151.91,406.41 L152.16,406.36 L152.41,406.32 L152.66,406.27 L152.91,406.22 L153.16,406.17 L153.41,406.13 L153.66,406.08 L153.91,406.03 L154.16,405.97 L154.41,405.92 L154.66,405.87 L154.91,405.82 L155.16,405.76 L155.41,405.71 L155.66,405.66 L155.91,405.60 L156.16,405.54 L156.41,405.49 L156.66,405.43 L156.91,405.37 L157.16,405.31 L157.41,405.25 L157.66,405.19 L157.91,405.13 L158.16,405.07 L158.41,405.00 L158.66,404.94 L158.91,404.87 L159.16,404.81 L159.41,404.74 L159.66,404.67 L159.91,404.60 L160.16,404.53 L160.41,404.46 L160.66,404.39 L160.91,404.32 L161.16,404.24 L161.41,404.17 L161.66,404.09 L161.91,404.01 L162.16,403.93 L162.41,403.85 L162.66,403.77 L162.91,403.69 L163.16,403.60 L163.41,403.52 L163.66,403.43 L163.91,403.34 L164.16,403.25 L164.41,403.16 L164.66,403.07 L164.91,402.97 L165.16,402.87 L165.41,402.78 L165.66,402.68 L165.91,402.57 L166.16,402.47 L166.41,402.36 L166.66,402.25 L166.91,402.14 L167.16,402.03 L167.41,401.92 L167.66,401.80 L167.91,401.68 L168.16,401.56 L168.41,401.43 L168.66,401.30 L168.91,401.17 L169.16,401.04 L169.41,400.90 L169.66,400.76 L169.91,400.61 L170.16,400.46 L170.41,400.31 L170.66,400.15 L170.91,399.99 L171.16,399.82 L171.41,399.65 L171.66,399.47 L171.91,399.28 L172.16,399.09 L172.41,398.89 L172.66,398.69 L172.91,398.47 L173.16,398.25 L173.41,398.02 L173.66,397.78 L173.91,397.52 L174.16,397.26 L174.41,396.98 L174.66,396.69 L174.91,396.38 L175.16,396.06 L175.41,395.72 L175.66,395.36 L175.91,394.98 L176.16,394.58 L176.41,394.15 L176.66,393.70 L176.91,393.23 L177.16,392.72 L177.41,392.18 L177.66,391.62 L177.91,391.01 L178.16,390.37 L178.41,389.69 L178.66,388.97 L178.91,388.20 L179.16,387.38 L179.41,386.52 L179.66,385.61 L179.91,384.64 L180.16,383.61 L180.41,382.52 L180.66,381.38 L180.91,380.17 L181.16,378.89 L181.41,377.55 L181.66,376.13 L181.91,374.65 L182.16,373.09 L182.41,371.46 L182.66,369.75 L182.91,367.97 L183.16,366.11 L183.41,364.18 L183.66,362.18 L183.91,360.10 L184.16,357.95 L184.41,355.73 L184.66,353.45 L184.91,351.10 L185.16,348.70 L185.41,346.24 L185.66,343.74 L185.91,341.20 L186.16,338.62 L186.41,336.03 L186.66,333.43 L186.91,330.83 L187.16,328.24 L187.41,325.69 L187.66,323.18 L187.91,320.74 L188.16,318.39 L188.41,316.14 L188.66,314.02 L188.91,312.04 L189.16,310.24 L189.41,308.63 L189.66,307.23 L189.91,306.05 L190.16,305.13 L190.41,304.46 L190.66,304.06 L190.91,303.93 L191.16,304.11 L191.41,304.60 L191.66,305.40 L191.91,306.50 L192.16,307.89 L192.41,309.53 L192.66,311.40 L192.91,313.49 L193.16,315.77 L193.41,318.20 L193.66,320.76 L193.91,323.42 L194.16,326.17 L194.41,328.98 L194.66,331.82 L194.91,334.68 L195.16,337.54 L195.41,340.39 L195.66,343.21 L195.91,345.99 L196.16,348.73 L196.41,351.40 L196.66,354.02 L196.91,356.56 L197.16,359.04 L197.41,361.43 L197.66,363.75 L197.91,365.98 L198.16,368.13 L198.41,370.20 L198.66,372.19 L198.91,374.09 L199.16,375.90 L199.41,377.64 L199.66,379.30 L199.91,380.87 L200.16,382.37 L200.41,383.80 L200.66,385.15 L200.91,386.44 L201.16,387.65 L201.41,388.80 L201.66,389.89 L201.91,390.92 L202.16,391.89 L202.41,392.80 L202.66,393.67 L202.91,394.48 L203.16,395.25 L203.41,395.98 L203.66,396.66 L203.91,397.30 L204.16,397.91 L204.41,398.48 L204.66,399.02 L204.91,399.52 L205.16,400.00 L205.41,400.46 L205.66,400.88 L205.91,401.29 L206.16,401.67 L206.41,402.03 L206.66,402.38 L206.91,402.70 L207.16,403.01 L207.41,403.30 L207.66,403.58 L207.91,403.85 L208.16,404.10 L208.41,404.35 L208.66,404.58 L208.91,404.80 L209.16,405.01 L209.41,405.21 L209.66,405.41 L209.91,405.60 L210.16,405.77 L210.41,405.95 L210.66,406.11 L210.91,406.27 L211.16,406.43 L211.41,406.58 L211.66,406.72 L211.91,406.86 L212.16,406.99 L212.41,407.12 L212.66,407.25 L212.91,407.37 L213.16,407.49 L213.41,407.60 L213.66,407.71 L213.91,407.82 L214.16,407.92 L214.41,408.02 L214.66,408.12 L214.91,408.22 L215.16,408.31 L215.41,408.40 L215.66,408.49 L215.91,408.57 L216.16,408.65 L216.41,408.74 L216.66,408.81 L216.91,408.89 L217.16,408.96 L217.41,409.04 L217.66,409.11 L217.91,409.17 L218.16,409.24 L218.41,409.31 L218.66,409.37 L218.91,409.43 L219.16,409.49 L219.41,409.55 L219.66,409.61 L219.91,409.66 L220.16,409.72 L220.41,409.77 L220.66,409.82 L220.91,409.87 L221.16,409.92 L221.41,409.97 L221.66,410.02 L221.91,410.07 L222.16,410.11 L222.41,410.16 L222.66,410.20 L222.91,410.24 L223.16,410.28 L223.41,410.32 L223.66,410.36 L223.91,410.40 L224.16,410.44 L224.41,410.48 L224.66,410.51 L224.91,410.55 L225.16,410.58 L225.41,410.62 L225.66,410.65 L225.91,410.69 L226.16,410.72 L226.41,410.75 L226.66,410.78 L226.91,410.81 L227.16,410.84 L227.41,410.87 L227.66,410.90 L227.91,410.93 L228.16,410.95 L228.41,410.98 L228.66,411.01 L228.91,411.03 L229.16,411.06 L229.41,411.08 L229.66,411.11 L229.91,411.13 L230.16,411.15 L230.41,411.18 L230.66,411.20 L230.91,411.22 L231.16,411.24 L231.41,411.27 L231.66,411.29 L231.91,411.31 L232.16,411.33 L232.41,411.35 L232.66,411.37 L232.91,411.39 L233.16,411.41 L233.41,411.43 L233.66,411.44 L233.91,411.46 L234.16,411.48 L234.41,411.50 L234.66,411.51 L234.91,411.53 L235.16,411.55 L235.41,411.56 L235.66,411.58 L235.91,411.60 L236.16,411.61 L236.41,411.63" fill="none" stroke="#6cc832" stroke-width="1.5"/>
<path d="M24.66,409.25 L24.91,409.24 L25.16,409.23 L25.41,409.22 L25.66,409.21 L25.91,409.20 L26.16,409.19 L26.41,409.17 L26.66,409.16 L26.91,409.15 L27.16,409.14 L27.41,409.13 L27.66,409.11 L27.91,409.10 L28.16,409.09 L28.41,409.08 L28.66,409.06 L28.91,409.05 L29.16,409.04 L29.41,409.02 L29.66,409.01 L29.91,408.99 L30.16,408.98 L30.41,408.97 L30.66,408.95 L30.91,408.93 L31.16,408.92 L31.41,408.90 L31.66,408.89 L31.91,408.87 L32.16,408.86 L32.41,408.84 L32.66,408.82 L32.91,408.80 L33.16,408.79 L33.41,408.77 L33.66,408.75 L33.91,408.73 L34.16,408.71 L34.41,408.69 L34.66,408.67 L34.91,408.65 L35.16,408.63 L35.41,408.61 L35.66,408.59 L35.91,408.57 L36.16,408.55 L36.41,408.53 L36.66,408.50 L36.91,408.48 L37.16,408.46 L37.41,408.43 L37.66,408.41 L37.91,408.38 L38.16,408.36 L38.41,408.33 L38.66,408.31 L38.91,408.28 L39.16,408.25 L39.41,408.23 L39.66,408.20 L39.91,408.17 L40.16,408.14 L40.41,408.11 L40.66,408.08 L40.91,408.05 L41.16,408.01 L41.41,407.98 L41.66,407.95 L41.91,407.91 L42.16,407.88 L42.41,407.84 L42.66,407.81 L42.91,407.77 L43.16,407.73 L43.41,407.69 L43.66,407.65 L43.91,407.61 L44.16,407.57 L44.41,407.53 L44.66,407.49 L44.91,407.44 L45.16,407.40 L45.41,407.35 L45.66,407.30 L45.91,407.26 L46.16,407.21 L46.41,407.15 L46.66,407.10 L46.91,407.05 L47.16,406.99 L47.41,406.94 L47.66,406.88 L47.91,406.82 L48.16,406.76 L48.41,406.70 L48.66,406.63 L48.91,406.57 L49.16,406.50 L49.41,406.43 L49.66,406.36 L49.91,406.28 L50.16,406.21 L50.41,406.13 L50.66,406.04 L50.91,405.96 L51.16,405.87 L51.41,405.78 L51.66,405.68 L51.91,405.58 L52.16,405.48 L52.41,405.37 L52.66,405.26 L52.91,405.14 L53.16,405.02 L53.41,404.89 L53.66,404.75 L53.91,404.61 L54.16,404.45 L54.41,404.29 L54.66,404.12 L54.91,403.94 L55.16,403.74 L55.41,403.53 L55.66,403.31 L55.91,403.08 L56.16,402.83 L56.41,402.55 L56.66,402.26 L56.91,401.95 L57.16,401.62 L57.41,401.26 L57.66,400.88 L57.91,400.47 L58.16,400.02 L58.41,399.55 L58.66,399.04 L58.91,398.50 L59.16,397.91 L59.41,397.29 L59.66,396.62 L59.91,395.91 L60.16,395.15 L60.41,394.35 L60.66,393.49 L60.91,392.58 L61.16,391.62 L61.41,390.60 L61.66,389.53 L61.91,388.39 L62.16,387.21 L62.41,385.96 L62.66,384.65 L62.91,383.29 L63.16,381.87 L63.41,380.40 L63.66,378.87 L63.91,377.29 L64.16,375.66 L64.41,373.99 L64.66,372.27 L64.91,370.52 L65.16,368.74 L65.41,366.92 L65.66,365.09 L65.91,363.25 L66.16,361.41 L66.41,359.56 L66.66,357.74 L66.91,355.94 L67.16,354.18 L67.41,352.47 L67.66,350.82 L67.91,349.25 L68.16,347.78 L68.41,346.41 L68.66,345.16 L68.91,344.05 L69.16,343.09 L69.41,342.29 L69.66,341.66 L69.91,341.21 L70.16,340.95 L70.41,340.89 L70.66,341.02 L70.91,341.35 L71.16,341.88 L71.41,342.60 L71.66,343.50 L71.91,344.56 L72.16,345.78 L72.41,347.14 L72.66,348.63 L72.91,350.22 L73.16,351.91 L73.41,353.67 L73.66,355.50 L73.91,357.38 L74.16,359.30 L74.41,361.24 L74.66,363.20 L74.91,365.15 L75.16,367.10 L75.41,369.04 L75.66,370.95 L75.91,372.83 L76.16,374.67 L76.41,376.48 L76.66,378.24 L76.91,379.94 L77.16,381.60 L77.41,383.20 L77.66,384.74 L77.91,386.22 L78.16,387.63 L78.41,388.99 L78.66,390.29 L78.91,391.52 L79.16,392.69 L79.41,393.80 L79.66,394.85 L79.91,395.84 L80.16,396.77 L80.41,397.65 L80.66,398.47 L80.91,399.24 L81.16,399.97 L81.41,400.64 L81.66,401.27 L81.91,401.86 L82.16,402.41 L82.41,402.91 L82.66,403.38 L82.91,403.82 L83.16,404.23 L83.41,404.61 L83.66,404.95 L83.91,405.28 L84.16,405.58 L84.41,405.85 L84.66,406.11 L84.91,406.35 L85.16,406.57 L85.41,406.78 L85.66,406.97 L85.91,407.15 L86.16,407.31 L86.41,407.47 L86.66,407.61 L86.91,407.75 L87.16,407.87 L87.41,407.99 L87.66,408.10 L87.91,408.21 L88.16,408.31 L88.41,408.40 L88.66,408.49 L88.91,408.58 L89.16,408.66 L89.41,408.73 L89.66,408.81 L89.91,408.88 L90.16,408.94 L90.41,409.01 L90.66,409.07 L90.91,409.13 L91.16,409.18 L91.41,409.24 L91.66,409.29 L91.91,409.34 L92.16,409.39 L92.41,409.44 L92.66,409.48 L92.91,409.52 L93.16,409.57 L93.41,409.61 L93.66,409.65 L93.91,409.69 L94.16,409.72 L94.41,409.76 L94.66,409.79 L94.91,409.83 L95.16,409.86 L95.41,409.89 L95.66,409.92 L95.91,409.95 L96.16,409.98 L96.41,410.01 L96.66,410.04 L96.91,410.07 L97.16,410.09 L97.41,410.12 L97.66,410.14 L97.91,410.17 L98.16,410.19 L98.41,410.21 L98.66,410.23 L98.91,410.25 L99.16,410.28 L99.41,410.30 L99.66,410.32 L99.91,410.33 L100.16,410.35 L100.41,410.37 L100.66,410.39 L100.91,410.41 L101.16,410.42 L101.41,410.44 L101.66,410.45 L101.91,410.47 L102.16,410.48 L102.41,410.50 L102.66,410.51 L102.91,410.53 L103.16,410.54 L103.41,410.55 L103.66,410.57 L103.91,410.58 L104.16,410.59 L104.41,410.60 L104.66,410.61 L104.91,410.62 L105.16,410.64 L105.41,410.65 L105.66,410.66 L105.91,410.67 L106.16,410.68 L106.41,410.68 L106.66,410.69 L106.91,410.70 L107.16,410.71 L107.41,410.72 L107.66,410.73 L107.91,410.74 L108.16,410.74 L108.41,410.75 L108.66,410.76 L108.91,410.77 L109.16,410.77 L109.41,410.78 L109.66,410.78 L109.91,410.79 L110.16,410.80 L110.41,410.80 L110.66,410.81 L110.91,410.81 L111.16,410.82 L111.41,410.82 L111.66,410.83 L111.91,410.83 L112.16,410.84 L112.41,410.84 L112.66,410.85 L112.91,410.85 L113.16,410.85 L113.41,410.86 L113.66,410.86 L113.91,410.86 L114.16,410.87 L114.41,410.87 L114.66,410.87 L114.91,410.88 L115.16,410.88 L115.41,410.88 L115.66,410.88 L115.91,410.89 L116.16,410.89 L116.41,410.89 L116.66,410.89 L116.91,410.89 L117.16,410.89 L117.41,410.89 L117.66,410.90 L117.91,410.90 L118.16,410.90 L118.41,410.90 L118.66,410.90 L118.91,410.90 L119.16,410.90 L119.41,410.90 L119.66,410.90 L119.91,410.90 L120.16,410.90 L120.41,410.90 L120.66,410.90 L120.91,410.90 L121.16,410.90 L121.41,410.90 L121.66,410.90 L121.91,410.89 L122.16,410.89 L122.41,410.89 L122.66,410.89 L122.91,410.89 L123.16,410.89 L123.41,410.88 L123.66,410.88 L123.91,410.88 L124.16,410.88 L124.41,410.87 L124.66,410.87 L124.91,410.87 L125.16,410.87 L125.41,410.86 L125.66,410.86 L125.91,410.86 L126.16,410.85 L126.41,410.85 L126.66,410.85 L126.91,410.84 L127.16,410.84 L127.41,410.83 L127.66,410.83 L127.91,410.82 L128.16,410.82 L128.41,410.81 L128.66,410.81 L128.91,410.80 L129.16,410.80 L129.41,410.79 L129.66,410.79 L129.91,410.78 L130.16,410.77 L130.41,410.77 L130.66,410.76 L130.91,410.75 L131.16,410.75 L131.41,410.74 L131.66,410.73 L131.91,410.73 L132.16,410.72 L132.41,410.71 L132.66,410.70 L132.91,410.69 L133.16,410.69 L133.41,410.68 L133.66,410.67 L133.91,410.66 L134.16,410.65 L134.41,410.64 L134.66,410.63 L134.91,410.62 L135.16,410.61 L135.41,410.60 L135.66,410.59 L135.91,410.58 L136.16,410.57 L136.41,410.55 L136.66,410.54 L136.91,410.53 L137.16,410.52 L137.41,410.51 L137.66,410.49 L137.91,410.48 L138.16,410.47 L138.41,410.45 L138.66,410.44 L138.91,410.42 L139.16,410.41 L139.41,410.39 L139.66,410.38 L139.91,410.36 L140.16,410.34 L140.41,410.33 L140.66,410.31 L140.91,410.29 L141.16,410.27 L141.41,410.25 L141.66,410.23 L141.91,410.21 L142.16,410.19 L142.41,410.17 L142.66,410.15 L142.91,410.13 L143.16,410.11 L143.41,410.09 L143.66,410.06 L143.91,410.04 L144.16,410.01 L144.41,409.99 L144.66,409.96 L144.91,409.94 L145.16,409.91 L145.41,409.88 L145.66,409.85 L145.91,409.83 L146.16,409.80 L146.41,409.76 L146.66,409.73 L146.91,409.70 L147.16,409.67 L147.41,409.63 L147.66,409.60 L147.91,409.56 L148.16,409.53 L148.41,409.49 L148.66,409.45 L148.91,409.41 L149.16,409.37 L149.41,409.32 L149.66,409.28 L149.91,409.24 L150.16,409.19 L150.41,409.14 L150.66,409.09 L150.91,409.04 L151.16,408.99 L151.41,408.94 L151.66,408.88 L151.91,408.83 L152.16,408.77 L152.41,408.71 L152.66,408.64 L152.91,408.58 L153.16,408.51 L153.41,408.44 L153.66,408.37 L153.91,408.30 L154.16,408.22 L154.41,408.14 L154.66,408.06 L154.91,407.97 L155.16,407.88 L155.41,407.79 L155.66,407.70 L155.91,407.59 L156.16,407.49 L156.41,407.38 L156.66,407.26 L156.91,407.14 L157.16,407.01 L157.41,406.88 L157.66,406.74 L157.91,406.59 L158.16,406.43 L158.41,406.26 L158.66,406.08 L158.91,405.89 L159.16,405.69 L159.41,405.47 L159.66,405.24 L159.91,404.99 L160.16,404.72 L160.41,404.44 L160.66,404.13 L160.91,403.80 L161.16,403.44 L161.41,403.05 L161.66,402.64 L161.91,402.19 L162.16,401.70 L162.41,401.18 L162.66,400.61 L162.91,400.00 L163.16,399.34 L163.41,398.63 L163.66,397.87 L163.91,397.05 L164.16,396.17 L164.41,395.22 L164.66,394.20 L164.91,393.11 L165.16,391.95 L165.41,390.70 L165.66,389.38 L165.91,387.97 L166.16,386.47 L166.41,384.89 L166.66,383.21 L166.91,381.44 L167.16,379.57 L167.41,377.61 L167.66,375.56 L167.91,373.40 L168.16,371.16 L168.41,368.82 L168.66,366.39 L168.91,363.87 L169.16,361.27 L169.41,358.60 L169.66,355.85 L169.91,353.03 L170.16,350.16 L170.41,347.24 L170.66,344.28 L170.91,341.30 L171.16,338.30 L171.41,335.30 L171.66,332.32 L171.91,329.38 L172.16,326.48 L172.41,323.66 L172.66,320.93 L172.91,318.32 L173.16,315.84 L173.41,313.53 L173.66,311.41 L173.91,309.50 L174.16,307.82 L174.41,306.39 L174.66,305.24 L174.91,304.38 L175.16,303.82 L175.41,303.57 L175.66,303.63 L175.91,304.01 L176.16,304.69 L176.41,305.68 L176.66,306.94 L176.91,308.48 L177.16,310.26 L177.41,312.27 L177.66,314.48 L177.91,316.88 L178.16,319.42 L178.41,322.10 L178.66,324.89 L178.91,327.77 L179.16,330.71 L179.41,333.69 L179.66,336.71 L179.91,339.73 L180.16,342.75 L180.41,345.76 L180.66,348.73 L180.91,351.66 L181.16,354.53 L181.41,357.35 L181.66,360.10 L181.91,362.77 L182.16,365.36 L182.41,367.87 L182.66,370.29 L182.91,372.62 L183.16,374.85 L183.41,376.99 L183.66,379.03 L183.91,380.98 L184.16,382.83 L184.41,384.58 L184.66,386.25 L184.91,387.82 L185.16,389.30 L185.41,390.69 L185.66,392.00 L185.91,393.23 L186.16,394.37 L186.41,395.45 L186.66,396.45 L186.91,397.39 L187.16,398.26 L187.41,399.07 L187.66,399.82 L187.91,400.52 L188.16,401.17 L188.41,401.77 L188.66,402.33 L188.91,402.85 L189.16,403.33 L189.41,403.77 L189.66,404.18 L189.91,404.56 L190.16,404.92 L190.41,405.25 L190.66,405.55 L190.91,405.84 L191.16,406.10 L191.41,406.35 L191.66,406.58 L191.91,406.80 L192.16,407.00 L192.41,407.19 L192.66,407.37 L192.91,407.54 L193.16,407.70 L193.41,407.85 L193.66,407.99 L193.91,408.12 L194.16,408.25 L194.41,408.37 L194.66,408.49 L194.91,408.60 L195.16,408.71 L195.41,408.81 L195.66,408.91 L195.91,409.00 L196.16,409.09 L196.41,409.18 L196.66,409.26 L196.91,409.35 L197.16,409.42 L197.41,409.50 L197.66,409.57 L197.91,409.64 L198.16,409.71 L198.41,409.78 L198.66,409.84 L198.91,409.90 L199.16,409.96 L199.41,410.02 L199.66,410.08 L199.91,410.13 L200.16,410.19 L200.41,410.24 L200.66,410.29 L200.91,410.34 L201.16,410.39 L201.41,410.44 L201.66,410.48 L201.91,410.53 L202.16,410.57 L202.41,410.61 L202.66,410.65 L202.91,410.69 L203.16,410.73 L203.41,410.77 L203.66,410.80 L203.91,410.84 L204.16,410.88 L204.41,410.91 L204.66,410.94 L204.91,410.98 L205.16,411.01 L205.41,411.04 L205.66,411.07 L205.91,411.10 L206.16,411.13 L206.41,411.16 L206.66,411.18 L206.91,411.21 L207.16,411.24 L207.41,411.26 L207.66,411.29 L207.91,411.31 L208.16,411.34 L208.41,411.36 L208.66,411.38 L208.91,411.41 L209.16,411.43 L209.41,411.45 L209.66,411.47 L209.91,411.49 L210.16,411.51 L210.41,411.53 L210.66,411.55 L210.91,411.57 L211.16,411.59 L211.41,411.61 L211.66,411.63 L211.91,411.65 L212.16,411.66 L212.41,411.68 L212.66,411.70 L212.91,411.71 L213.16,411.73 L213.41,411.75 L213.66,411.76 L213.91,411.78 L214.16,411.79 L214.41,411.81 L214.66,411.82 L214.91,411.83 L215.16,411.85 L215.41,411.86 L215.66,411.87 L215.91,411.89 L216.16,411.90 L216.41,411.91 L216.66,411.93 L216.91,411.94 L217.16,411.95 L217.41,411.96 L217.66,411.97 L217.91,411.99 L218.16,412.00 L218.41,412.01 L218.66,412.02 L218.91,412.03 L219.16,412.04 L219.41,412.05 L219.66,412.06 L219.91,412.07 L220.16,412.08 L220.41,412.09 L220.66,412.10 L220.91,412.11 L221.16,412.12 L221.41,412.13 L221.66,412.14 L221.91,412.14 L222.16,412.15 L222.41,412.16 L222.66,412.17 L222.91,412.18 L223.16,412.19 L223.41,412.19 L223.66,412.20 L223.91,412.21 L224.16,412.22 L224.41,412.22 L224.66,412.23 L224.91,412.24 L225.16,412.25 L225.41,412.25 L225.66,412.26 L225.91,412.27 L226.16,412.27 L226.41,412.28 L226.66,412.29 L226.91,412.29 L227.16,412.30 L227.41,412.31 L227.66,412.31 L227.91,412.32 L228.16,412.33 L228.41,412.33 L228.66,412.34 L228.91,412.34 L229.16,412.35 L229.41,412.35 L229.66,412.36 L229.91,412.37 L230.16,412.37 L230.41,412.38 L230.66,412.38 L230.91,412.39 L231.16,412.39 L231.41,412.40 L231.66,412.40 L231.91,412.41 L232.16,412.41 L232.41,412.42 L232.66,412.42 L232.91,412.43 L233.16,412.43 L233.41,412.44 L233.66,412.44 L233.91,412.45 L234.16,412.45 L234.41,412.45 L234.66,412.46 L234.91,412.46 L235.16,412.47 L235.41,412.47 L235.66,412.48 L235.91,412.48 L236.16,412.48 L236.41,412.49" fill="none" stroke="#2020d0" stroke-width="1.5"/>
<rect x="24.66" y="276.0" width="211.79" height="141.30" fill="none" stroke="#3a3a3a" stroke-width="1.0"/>
<text x="24.66" y="434.00" font-size="17.7" text-anchor="middle" fill="#000" >65</text>
<line x1="59.95" y1="417.3" x2="59.95" y2="412.3" stroke="#3a3a3a" stroke-width="1.0"/>
<text x="59.95" y="434.00" font-size="17.7" text-anchor="middle" fill="#000" >64</text>
<line x1="95.24" y1="417.3" x2="95.24" y2="412.3" stroke="#3a3a3a" stroke-width="1.0"/>
<text x="95.24" y="434.00" font-size="17.7" text-anchor="middle" fill="#000" >63</text>
<line x1="130.53" y1="417.3" x2="130.53" y2="412.3" stroke="#3a3a3a" stroke-width="1.0"/>
<text x="130.53" y="434.00" font-size="17.7" text-anchor="middle" fill="#000" >62</text>
<line x1="165.82" y1="417.3" x2="165.82" y2="412.3" stroke="#3a3a3a" stroke-width="1.0"/>
<text x="165.82" y="434.00" font-size="17.7" text-anchor="middle" fill="#000" >61</text>
<line x1="201.11" y1="417.3" x2="201.11" y2="412.3" stroke="#3a3a3a" stroke-width="1.0"/>
<text x="201.11" y="434.00" font-size="17.7" text-anchor="middle" fill="#000" >60</text>
<text x="236.40" y="434.00" font-size="17.7" text-anchor="middle" fill="#000" >59</text>
<text x="131.00" y="454.30" font-size="17.4" text-anchor="middle" fill="#000" >Binding Energy (eV)</text>
<text x="0.00" y="0.00" font-size="17.5" text-anchor="middle" fill="#000" transform="translate(12.3,346.2) rotate(-90)">Intensity (arb. units)</text>
<circle cx="71.3" cy="285.1" r="2.6" fill="none" stroke="#e4363c" stroke-width="0.9"/>
<line x1="62" y1="296.3" x2="80.2" y2="296.3" stroke="#000" stroke-width="1.4"/>
<line x1="62" y1="307.7" x2="80.2" y2="307.7" stroke="#6cc832" stroke-width="1.4"/>
<line x1="62" y1="318.7" x2="80.2" y2="318.7" stroke="#2020d0" stroke-width="1.4"/>
<text x="84.50" y="288.40" font-size="9.9" text-anchor="start" fill="#000" >Exp. data</text>
<text x="84.50" y="299.60" font-size="9.9" text-anchor="start" fill="#000" >fitting curve</text>
<text x="84.50" y="310.80" font-size="9.9" text-anchor="start" fill="#000" >A</text>
<text x="84.50" y="321.80" font-size="9.9" text-anchor="start" fill="#000" >B</text>
<text x="130.30" y="340.80" font-size="14.6" text-anchor="middle" fill="#000" >30 K</text>
<text x="212.50" y="296.60" font-size="17.4" text-anchor="start" fill="#000" >(c)</text>
<rect x="305.45" y="276.0" width="211.55" height="141.30" fill="none" stroke="#3a3a3a" stroke-width="1.0"/>
<line x1="305.45" y1="389.04" x2="310.45" y2="389.04" stroke="#3a3a3a" stroke-width="1.0"/>
<line x1="305.45" y1="360.78" x2="310.45" y2="360.78" stroke="#3a3a3a" stroke-width="1.0"/>
<line x1="305.45" y1="332.52" x2="310.45" y2="332.52" stroke="#3a3a3a" stroke-width="1.0"/>
<line x1="305.45" y1="304.26" x2="310.45" y2="304.26" stroke="#3a3a3a" stroke-width="1.0"/>
<text x="301.50" y="423.10" font-size="17.4" text-anchor="end" fill="#000" >0</text>
<text x="301.50" y="394.84" font-size="17.4" text-anchor="end" fill="#000" >10</text>
<text x="301.50" y="366.58" font-size="17.4" text-anchor="end" fill="#000" >20</text>
<text x="301.50" y="338.32" font-size="17.4" text-anchor="end" fill="#000" >30</text>
<text x="301.50" y="310.06" font-size="17.4" text-anchor="end" fill="#000" >40</text>
<text x="301.50" y="281.80" font-size="17.4" text-anchor="end" fill="#000" >50</text>
<line x1="339.50" y1="417.3" x2="339.50" y2="414.5" stroke="#3a3a3a" stroke-width="1.0"/>
<line x1="373.60" y1="417.3" x2="373.60" y2="412.3" stroke="#3a3a3a" stroke-width="1.0"/>
<line x1="407.70" y1="417.3" x2="407.70" y2="414.5" stroke="#3a3a3a" stroke-width="1.0"/>
<line x1="441.80" y1="417.3" x2="441.80" y2="412.3" stroke="#3a3a3a" stroke-width="1.0"/>
<line x1="475.90" y1="417.3" x2="475.90" y2="414.5" stroke="#3a3a3a" stroke-width="1.0"/>
<line x1="510.00" y1="417.3" x2="510.00" y2="412.3" stroke="#3a3a3a" stroke-width="1.0"/>
<text x="305.40" y="435.00" font-size="17.4" text-anchor="middle" fill="#000" >0</text>
<text x="373.60" y="435.00" font-size="17.4" text-anchor="middle" fill="#000" >100</text>
<text x="441.80" y="435.00" font-size="17.4" text-anchor="middle" fill="#000" >200</text>
<text x="510.00" y="435.00" font-size="17.4" text-anchor="middle" fill="#000" >300</text>
<text x="411.30" y="454.30" font-size="17.4" text-anchor="middle" fill="#000" >Tempearature (K)</text>
<text x="0.00" y="0.00" font-size="17.8" text-anchor="middle" fill="#000" transform="translate(272.2,345.6) rotate(-90)">Intensity ratio (%)</text>
<text x="493.00" y="294.00" font-size="17.4" text-anchor="start" fill="#000" >(d)</text>
<polyline points="325.86,292.96 373.60,303.41 407.70,296.63 441.80,316.13 475.90,313.59 479.31,315.85 482.72,339.30 486.13,359.08 489.54,367.28 492.95,387.91 496.36,394.97 503.18,401.76 510.00,401.76" fill="none" stroke="#d9262e" stroke-width="0.95"/>
<circle cx="325.86" cy="292.96" r="1.9" fill="none" stroke="#d9262e" stroke-width="0.8"/>
<circle cx="373.60" cy="303.41" r="1.9" fill="none" stroke="#d9262e" stroke-width="0.8"/>
<circle cx="407.70" cy="296.63" r="1.9" fill="none" stroke="#d9262e" stroke-width="0.8"/>
<circle cx="441.80" cy="316.13" r="1.9" fill="none" stroke="#d9262e" stroke-width="0.8"/>
<circle cx="475.90" cy="313.59" r="1.9" fill="none" stroke="#d9262e" stroke-width="0.8"/>
<circle cx="479.31" cy="315.85" r="1.9" fill="none" stroke="#d9262e" stroke-width="0.8"/>
<circle cx="482.72" cy="339.30" r="1.9" fill="none" stroke="#d9262e" stroke-width="0.8"/>
<circle cx="486.13" cy="359.08" r="1.9" fill="none" stroke="#d9262e" stroke-width="0.8"/>
<circle cx="489.54" cy="367.28" r="1.9" fill="none" stroke="#d9262e" stroke-width="0.8"/>
<circle cx="492.95" cy="387.91" r="1.9" fill="none" stroke="#d9262e" stroke-width="0.8"/>
<circle cx="496.36" cy="394.97" r="1.9" fill="none" stroke="#d9262e" stroke-width="0.8"/>
<circle cx="503.18" cy="401.76" r="1.9" fill="none" stroke="#d9262e" stroke-width="0.8"/>
<circle cx="510.00" cy="401.76" r="1.9" fill="none" stroke="#d9262e" stroke-width="0.8"/></svg>
</body></html>
